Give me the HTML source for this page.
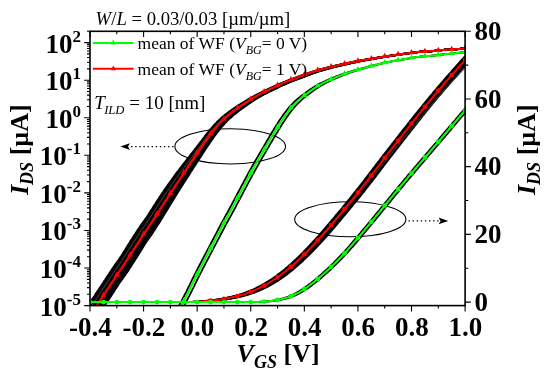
<!DOCTYPE html>
<html><head><meta charset="utf-8"><title>IDS-VGS</title><style>
html,body{margin:0;padding:0;background:#fff;width:550px;height:378px;overflow:hidden}
svg{display:block}
</style></head><body>
<svg width="550" height="378" viewBox="0 0 550 378">
<defs><clipPath id="pc"><rect x="90.00" y="31.30" width="375.10" height="274.30"/></clipPath></defs>
<rect width="550" height="378" fill="#fff"/>
<ellipse cx="230.2" cy="146.4" rx="55.3" ry="17.6" fill="none" stroke="#000" stroke-width="1.1"/><ellipse cx="350.3" cy="219.3" rx="55.6" ry="17.5" fill="none" stroke="#000" stroke-width="1.1"/>
<g clip-path="url(#pc)" fill="none" stroke-linejoin="round" stroke-linecap="butt">
<g stroke="#000" stroke-width="2.0"><path d="M84.6,310.8 L85.7,309.2 L86.8,307.5 L87.9,305.9 L88.9,304.3 L90.0,302.7 L91.1,301.0 L92.1,299.4 L93.2,297.8 L94.3,296.2 L95.4,294.5 L96.4,292.9 L97.5,291.3 L98.6,289.7 L99.6,288.1 L100.7,286.5 L101.8,284.8 L102.9,283.2 L103.9,281.6 L105.0,280.0 L106.1,278.3 L107.1,276.7 L108.2,275.1 L109.3,273.5 L110.4,271.8 L111.4,270.2 L112.5,268.6 L113.6,267.0 L114.6,265.5 L115.7,263.9 L116.8,262.4 L117.9,261.0 L118.9,259.5 L120.0,257.9 L121.1,256.3 L122.2,254.6 L123.2,252.9 L124.3,251.2 L125.4,249.4 L126.4,247.7 L127.5,245.9 L128.6,244.2 L129.7,242.5 L130.7,240.8 L131.8,239.2 L132.9,237.5 L133.9,235.8 L135.0,234.2 L136.1,232.5 L137.2,230.9 L138.2,229.3 L139.3,227.7 L140.4,226.1 L141.4,224.5 L142.5,223.0 L143.6,221.6 L144.7,220.1 L145.7,218.6 L146.8,217.1 L147.9,215.5 L148.9,213.8 L150.0,212.1 L151.1,210.4 L152.2,208.7 L153.2,207.0 L154.3,205.3 L155.4,203.7 L156.4,202.0 L157.5,200.4 L158.6,198.8 L159.7,197.1 L160.7,195.5 L161.8,193.9 L162.9,192.3 L163.9,190.7 L165.0,189.2 L166.1,187.6 L167.2,186.1 L168.2,184.5 L169.3,183.0 L170.4,181.5 L171.5,180.0 L172.5,178.5 L173.6,177.1 L174.7,175.6 L175.7,174.2 L176.8,172.7 L177.9,171.3 L179.0,169.9 L180.0,168.5 L181.1,167.1 L182.2,165.7 L183.2,164.3 L184.3,162.9 L185.4,161.5 L186.5,160.1 L187.5,158.7 L188.6,157.4 L189.7,156.0 L190.7,154.7 L191.8,153.3 L192.9,152.0 L194.0,150.6 L195.0,149.2 L196.1,147.8 L197.2,146.4 L198.2,145.0 L199.3,143.6 L200.4,142.2 L201.5,140.8 L202.5,139.4 L203.6,138.0 L204.7,136.6 L205.7,135.2 L206.8,133.8 L207.9,132.5 L209.0,131.1 L210.0,129.8 L211.1,128.6 L212.2,127.3 L213.2,126.1 L214.3,124.9 L215.4,123.7 L216.5,122.6 L217.5,121.5 L218.6,120.5 L219.7,119.4 L220.7,118.5 L221.8,117.5 L222.9,116.6 L224.0,115.7 L225.0,114.8 L226.1,114.0 L227.2,113.2 L228.3,112.4 L229.3,111.6 L230.4,110.8 L231.5,110.1 L232.5,109.3 L233.6,108.6 L234.7,107.9 L235.8,107.1 L236.8,106.4 L237.9,105.7 L239.0,105.0 L240.0,104.4 L241.1,103.7 L242.2,103.0 L243.3,102.4 L244.3,101.7 L245.4,101.1 L246.5,100.4 L247.5,99.8 L248.6,99.1 L249.7,98.5 L250.8,97.9 L251.8,97.3 L252.9,96.7 L254.0,96.1 L255.0,95.5 L256.1,95.0 L257.2,94.4 L258.3,93.9 L259.3,93.3 L260.4,92.8 L261.5,92.3 L262.5,91.7 L263.6,91.2 L264.7,90.7 L265.8,90.2 L266.8,89.7 L267.9,89.2 L269.0,88.7 L270.0,88.2 L271.1,87.7 L272.2,87.2 L273.3,86.7 L274.3,86.2 L275.4,85.7 L276.5,85.3 L277.6,84.8 L278.6,84.3 L279.7,83.8 L280.8,83.4 L281.8,82.9 L282.9,82.5 L284.0,82.0 L285.1,81.6 L286.1,81.2 L287.2,80.7 L288.3,80.3 L289.3,79.9 L290.4,79.5 L291.5,79.1 L292.6,78.7 L293.6,78.3 L294.7,77.9 L295.8,77.5 L296.8,77.1 L297.9,76.8 L299.0,76.4 L300.1,76.0 L301.1,75.6 L302.2,75.2 L303.3,74.8 L304.3,74.4 L305.4,74.0 L306.5,73.7 L307.6,73.3 L308.6,72.9 L309.7,72.6 L310.8,72.2 L311.8,71.9 L312.9,71.5 L314.0,71.2 L315.1,70.9 L316.1,70.6 L317.2,70.3 L318.3,70.0 L319.3,69.7 L320.4,69.4 L321.5,69.1 L322.6,68.8 L323.6,68.5 L324.7,68.2 L325.8,67.9 L326.8,67.7 L327.9,67.4 L329.0,67.1 L330.1,66.9 L331.1,66.6 L332.2,66.4 L333.3,66.1 L334.4,65.9 L335.4,65.6 L336.5,65.4 L337.6,65.2 L338.6,64.9 L339.7,64.7 L340.8,64.5 L341.9,64.3 L342.9,64.0 L344.0,63.8 L345.1,63.6 L346.1,63.4 L347.2,63.2 L348.3,62.9 L349.4,62.7 L350.4,62.5 L351.5,62.3 L352.6,62.1 L353.6,61.8 L354.7,61.6 L355.8,61.4 L356.9,61.2 L357.9,61.0 L359.0,60.8 L360.1,60.6 L361.1,60.5 L362.2,60.3 L363.3,60.1 L364.4,59.9 L365.4,59.7 L366.5,59.5 L367.6,59.4 L368.6,59.2 L369.7,59.0 L370.8,58.8 L371.9,58.7 L372.9,58.5 L374.0,58.3 L375.1,58.1 L376.1,58.0 L377.2,57.8 L378.3,57.6 L379.4,57.4 L380.4,57.3 L381.5,57.1 L382.6,56.9 L383.6,56.7 L384.7,56.6 L385.8,56.4 L386.9,56.2 L387.9,56.1 L389.0,55.9 L390.1,55.8 L391.2,55.6 L392.2,55.4 L393.3,55.3 L394.4,55.1 L395.4,55.0 L396.5,54.8 L397.6,54.7 L398.7,54.5 L399.7,54.4 L400.8,54.2 L401.9,54.1 L402.9,53.9 L404.0,53.8 L405.1,53.6 L406.2,53.5 L407.2,53.3 L408.3,53.2 L409.4,53.1 L410.4,52.9 L411.5,52.8 L412.6,52.7 L413.7,52.5 L414.7,52.4 L415.8,52.3 L416.9,52.1 L417.9,52.0 L419.0,51.9 L420.1,51.8 L421.2,51.7 L422.2,51.6 L423.3,51.5 L424.4,51.4 L425.4,51.4 L426.5,51.4 L427.6,51.3 L428.7,51.3 L429.7,51.2 L430.8,51.2 L431.9,51.1 L432.9,51.0 L434.0,50.9 L435.1,50.8 L436.2,50.7 L437.2,50.6 L438.3,50.5 L439.4,50.3 L440.5,50.2 L441.5,50.1 L442.6,50.0 L443.7,49.9 L444.7,49.8 L445.8,49.7 L446.9,49.6 L448.0,49.6 L449.0,49.5 L450.1,49.5 L451.2,49.5 L452.2,49.4 L453.3,49.4 L454.4,49.3 L455.5,49.3 L456.5,49.2 L457.6,49.1 L458.7,49.0 L459.7,48.9 L460.8,48.8 L461.9,48.7 L463.0,48.6 L464.0,48.5 L465.1,48.3 L466.2,48.2 L467.2,48.1 L468.3,48.0 L469.4,47.9 L470.5,47.8"/><path d="M84.6,313.7 L85.7,312.0 L86.8,310.4 L87.9,308.8 L88.9,307.1 L90.0,305.5 L91.1,303.9 L92.1,302.2 L93.2,300.6 L94.3,299.0 L95.4,297.4 L96.4,295.7 L97.5,294.1 L98.6,292.5 L99.6,290.9 L100.7,289.3 L101.8,287.6 L102.9,286.0 L103.9,284.4 L105.0,282.8 L106.1,281.1 L107.1,279.5 L108.2,277.9 L109.3,276.3 L110.4,274.6 L111.4,273.0 L112.5,271.4 L113.6,269.8 L114.6,268.2 L115.7,266.7 L116.8,265.2 L117.9,263.7 L118.9,262.2 L120.0,260.6 L121.1,259.0 L122.2,257.4 L123.2,255.7 L124.3,253.9 L125.4,252.2 L126.4,250.5 L127.5,248.8 L128.6,247.1 L129.7,245.4 L130.7,243.7 L131.8,242.0 L132.9,240.4 L133.9,238.7 L135.0,237.0 L136.1,235.4 L137.2,233.7 L138.2,232.1 L139.3,230.5 L140.4,228.9 L141.4,227.3 L142.5,225.8 L143.6,224.3 L144.7,222.8 L145.7,221.3 L146.8,219.8 L147.9,218.2 L148.9,216.5 L150.0,214.8 L151.1,213.1 L152.2,211.5 L153.2,209.8 L154.3,208.1 L155.4,206.4 L156.4,204.8 L157.5,203.2 L158.6,201.5 L159.7,199.9 L160.7,198.3 L161.8,196.7 L162.9,195.0 L163.9,193.4 L165.0,191.8 L166.1,190.3 L167.2,188.7 L168.2,187.1 L169.3,185.6 L170.4,184.0 L171.5,182.5 L172.5,181.0 L173.6,179.5 L174.7,178.0 L175.7,176.6 L176.8,175.1 L177.9,173.6 L179.0,172.2 L180.0,170.7 L181.1,169.3 L182.2,167.9 L183.2,166.4 L184.3,165.0 L185.4,163.6 L186.5,162.2 L187.5,160.8 L188.6,159.4 L189.7,158.0 L190.7,156.6 L191.8,155.2 L192.9,153.8 L194.0,152.4 L195.0,151.0 L196.1,149.6 L197.2,148.2 L198.2,146.7 L199.3,145.3 L200.4,143.8 L201.5,142.4 L202.5,141.0 L203.6,139.5 L204.7,138.1 L205.7,136.7 L206.8,135.3 L207.9,133.9 L209.0,132.6 L210.0,131.2 L211.1,129.9 L212.2,128.7 L213.2,127.4 L214.3,126.2 L215.4,125.0 L216.5,123.8 L217.5,122.7 L218.6,121.6 L219.7,120.5 L220.7,119.5 L221.8,118.5 L222.9,117.6 L224.0,116.7 L225.0,115.8 L226.1,114.9 L227.2,114.0 L228.3,113.2 L229.3,112.4 L230.4,111.6 L231.5,110.8 L232.5,110.1 L233.6,109.3 L234.7,108.6 L235.8,107.8 L236.8,107.1 L237.9,106.4 L239.0,105.7 L240.0,105.0 L241.1,104.3 L242.2,103.6 L243.3,103.0 L244.3,102.3 L245.4,101.6 L246.5,101.0 L247.5,100.3 L248.6,99.7 L249.7,99.0 L250.8,98.4 L251.8,97.8 L252.9,97.2 L254.0,96.6 L255.0,96.0 L256.1,95.4 L257.2,94.8 L258.3,94.3 L259.3,93.7 L260.4,93.2 L261.5,92.7 L262.5,92.1 L263.6,91.6 L264.7,91.1 L265.8,90.6 L266.8,90.1 L267.9,89.6 L269.0,89.1 L270.0,88.6 L271.1,88.1 L272.2,87.6 L273.3,87.1 L274.3,86.6 L275.4,86.1 L276.5,85.6 L277.6,85.1 L278.6,84.6 L279.7,84.2 L280.8,83.7 L281.8,83.2 L282.9,82.8 L284.0,82.3 L285.1,81.9 L286.1,81.5 L287.2,81.0 L288.3,80.6 L289.3,80.2 L290.4,79.8 L291.5,79.4 L292.6,79.0 L293.6,78.6 L294.7,78.2 L295.8,77.8 L296.8,77.4 L297.9,77.0 L299.0,76.6 L300.1,76.2 L301.1,75.8 L302.2,75.4 L303.3,75.1 L304.3,74.7 L305.4,74.3 L306.5,73.9 L307.6,73.5 L308.6,73.2 L309.7,72.8 L310.8,72.4 L311.8,72.1 L312.9,71.8 L314.0,71.4 L315.1,71.1 L316.1,70.8 L317.2,70.5 L318.3,70.2 L319.3,69.8 L320.4,69.5 L321.5,69.3 L322.6,69.0 L323.6,68.7 L324.7,68.4 L325.8,68.1 L326.8,67.8 L327.9,67.6 L329.0,67.3 L330.1,67.0 L331.1,66.8 L332.2,66.5 L333.3,66.3 L334.4,66.0 L335.4,65.8 L336.5,65.5 L337.6,65.3 L338.6,65.1 L339.7,64.8 L340.8,64.6 L341.9,64.4 L342.9,64.2 L344.0,63.9 L345.1,63.7 L346.1,63.5 L347.2,63.3 L348.3,63.0 L349.4,62.8 L350.4,62.6 L351.5,62.4 L352.6,62.1 L353.6,61.9 L354.7,61.7 L355.8,61.5 L356.9,61.3 L357.9,61.1 L359.0,60.9 L360.1,60.7 L361.1,60.5 L362.2,60.3 L363.3,60.1 L364.4,60.0 L365.4,59.8 L366.5,59.6 L367.6,59.4 L368.6,59.2 L369.7,59.1 L370.8,58.9 L371.9,58.7 L372.9,58.5 L374.0,58.4 L375.1,58.2 L376.1,58.0 L377.2,57.8 L378.3,57.6 L379.4,57.5 L380.4,57.3 L381.5,57.1 L382.6,57.0 L383.6,56.8 L384.7,56.6 L385.8,56.4 L386.9,56.3 L387.9,56.1 L389.0,55.9 L390.1,55.8 L391.2,55.6 L392.2,55.5 L393.3,55.3 L394.4,55.1 L395.4,55.0 L396.5,54.8 L397.6,54.7 L398.7,54.5 L399.7,54.4 L400.8,54.2 L401.9,54.1 L402.9,53.9 L404.0,53.8 L405.1,53.6 L406.2,53.5 L407.2,53.4 L408.3,53.2 L409.4,53.1 L410.4,53.0 L411.5,52.8 L412.6,52.7 L413.7,52.5 L414.7,52.4 L415.8,52.3 L416.9,52.1 L417.9,52.0 L419.0,51.9 L420.1,51.8 L421.2,51.7 L422.2,51.6 L423.3,51.5 L424.4,51.5 L425.4,51.4 L426.5,51.4 L427.6,51.3 L428.7,51.3 L429.7,51.3 L430.8,51.2 L431.9,51.1 L432.9,51.0 L434.0,50.9 L435.1,50.8 L436.2,50.7 L437.2,50.6 L438.3,50.5 L439.4,50.4 L440.5,50.2 L441.5,50.1 L442.6,50.0 L443.7,49.9 L444.7,49.8 L445.8,49.7 L446.9,49.6 L448.0,49.6 L449.0,49.5 L450.1,49.5 L451.2,49.5 L452.2,49.4 L453.3,49.4 L454.4,49.3 L455.5,49.3 L456.5,49.2 L457.6,49.1 L458.7,49.0 L459.7,48.9 L460.8,48.8 L461.9,48.7 L463.0,48.6 L464.0,48.5 L465.1,48.4 L466.2,48.2 L467.2,48.1 L468.3,48.0 L469.4,47.9 L470.5,47.8"/><path d="M84.6,316.6 L85.7,314.9 L86.8,313.3 L87.9,311.6 L88.9,310.0 L90.0,308.3 L91.1,306.7 L92.1,305.1 L93.2,303.4 L94.3,301.8 L95.4,300.2 L96.4,298.6 L97.5,296.9 L98.6,295.3 L99.6,293.7 L100.7,292.1 L101.8,290.4 L102.9,288.8 L103.9,287.2 L105.0,285.6 L106.1,283.9 L107.1,282.3 L108.2,280.7 L109.3,279.1 L110.4,277.4 L111.4,275.8 L112.5,274.2 L113.6,272.6 L114.6,271.0 L115.7,269.5 L116.8,267.9 L117.9,266.4 L118.9,264.9 L120.0,263.3 L121.1,261.7 L122.2,260.1 L123.2,258.4 L124.3,256.7 L125.4,255.0 L126.4,253.3 L127.5,251.6 L128.6,249.9 L129.7,248.3 L130.7,246.6 L131.8,244.9 L132.9,243.2 L133.9,241.6 L135.0,239.9 L136.1,238.2 L137.2,236.6 L138.2,235.0 L139.3,233.3 L140.4,231.7 L141.4,230.1 L142.5,228.6 L143.6,227.1 L144.7,225.5 L145.7,224.0 L146.8,222.5 L147.9,220.9 L148.9,219.2 L150.0,217.6 L151.1,215.9 L152.2,214.2 L153.2,212.5 L154.3,210.9 L155.4,209.2 L156.4,207.6 L157.5,205.9 L158.6,204.3 L159.7,202.6 L160.7,201.0 L161.8,199.4 L162.9,197.8 L163.9,196.1 L165.0,194.5 L166.1,192.9 L167.2,191.3 L168.2,189.7 L169.3,188.2 L170.4,186.6 L171.5,185.1 L172.5,183.5 L173.6,182.0 L174.7,180.5 L175.7,178.9 L176.8,177.4 L177.9,175.9 L179.0,174.5 L180.0,173.0 L181.1,171.5 L182.2,170.0 L183.2,168.6 L184.3,167.1 L185.4,165.7 L186.5,164.2 L187.5,162.8 L188.6,161.4 L189.7,160.0 L190.7,158.5 L191.8,157.1 L192.9,155.7 L194.0,154.2 L195.0,152.8 L196.1,151.3 L197.2,149.9 L198.2,148.4 L199.3,147.0 L200.4,145.5 L201.5,144.0 L202.5,142.6 L203.6,141.1 L204.7,139.7 L205.7,138.2 L206.8,136.8 L207.9,135.4 L209.0,134.0 L210.0,132.7 L211.1,131.3 L212.2,130.0 L213.2,128.7 L214.3,127.5 L215.4,126.2 L216.5,125.0 L217.5,123.9 L218.6,122.7 L219.7,121.6 L220.7,120.6 L221.8,119.6 L222.9,118.6 L224.0,117.6 L225.0,116.7 L226.1,115.8 L227.2,114.9 L228.3,114.0 L229.3,113.2 L230.4,112.4 L231.5,111.6 L232.5,110.8 L233.6,110.0 L234.7,109.3 L235.8,108.5 L236.8,107.8 L237.9,107.0 L239.0,106.3 L240.0,105.6 L241.1,104.9 L242.2,104.2 L243.3,103.5 L244.3,102.9 L245.4,102.2 L246.5,101.5 L247.5,100.9 L248.6,100.2 L249.7,99.6 L250.8,98.9 L251.8,98.3 L252.9,97.7 L254.0,97.1 L255.0,96.4 L256.1,95.9 L257.2,95.3 L258.3,94.7 L259.3,94.1 L260.4,93.6 L261.5,93.0 L262.5,92.5 L263.6,92.0 L264.7,91.5 L265.8,91.0 L266.8,90.4 L267.9,89.9 L269.0,89.4 L270.0,88.9 L271.1,88.4 L272.2,87.9 L273.3,87.4 L274.3,86.9 L275.4,86.4 L276.5,85.9 L277.6,85.4 L278.6,85.0 L279.7,84.5 L280.8,84.0 L281.8,83.5 L282.9,83.1 L284.0,82.6 L285.1,82.2 L286.1,81.7 L287.2,81.3 L288.3,80.9 L289.3,80.5 L290.4,80.1 L291.5,79.7 L292.6,79.2 L293.6,78.9 L294.7,78.5 L295.8,78.1 L296.8,77.7 L297.9,77.3 L299.0,76.9 L300.1,76.5 L301.1,76.1 L302.2,75.7 L303.3,75.3 L304.3,74.9 L305.4,74.5 L306.5,74.1 L307.6,73.8 L308.6,73.4 L309.7,73.0 L310.8,72.7 L311.8,72.3 L312.9,72.0 L314.0,71.6 L315.1,71.3 L316.1,71.0 L317.2,70.6 L318.3,70.3 L319.3,70.0 L320.4,69.7 L321.5,69.4 L322.6,69.1 L323.6,68.8 L324.7,68.5 L325.8,68.3 L326.8,68.0 L327.9,67.7 L329.0,67.4 L330.1,67.2 L331.1,66.9 L332.2,66.6 L333.3,66.4 L334.4,66.1 L335.4,65.9 L336.5,65.7 L337.6,65.4 L338.6,65.2 L339.7,64.9 L340.8,64.7 L341.9,64.5 L342.9,64.3 L344.0,64.0 L345.1,63.8 L346.1,63.6 L347.2,63.4 L348.3,63.1 L349.4,62.9 L350.4,62.7 L351.5,62.5 L352.6,62.2 L353.6,62.0 L354.7,61.8 L355.8,61.6 L356.9,61.4 L357.9,61.2 L359.0,61.0 L360.1,60.8 L361.1,60.6 L362.2,60.4 L363.3,60.2 L364.4,60.0 L365.4,59.8 L366.5,59.7 L367.6,59.5 L368.6,59.3 L369.7,59.1 L370.8,58.9 L371.9,58.8 L372.9,58.6 L374.0,58.4 L375.1,58.2 L376.1,58.0 L377.2,57.9 L378.3,57.7 L379.4,57.5 L380.4,57.3 L381.5,57.2 L382.6,57.0 L383.6,56.8 L384.7,56.6 L385.8,56.5 L386.9,56.3 L387.9,56.1 L389.0,56.0 L390.1,55.8 L391.2,55.7 L392.2,55.5 L393.3,55.3 L394.4,55.2 L395.4,55.0 L396.5,54.9 L397.6,54.7 L398.7,54.6 L399.7,54.4 L400.8,54.3 L401.9,54.1 L402.9,54.0 L404.0,53.8 L405.1,53.7 L406.2,53.5 L407.2,53.4 L408.3,53.2 L409.4,53.1 L410.4,53.0 L411.5,52.8 L412.6,52.7 L413.7,52.6 L414.7,52.4 L415.8,52.3 L416.9,52.2 L417.9,52.0 L419.0,51.9 L420.1,51.8 L421.2,51.7 L422.2,51.6 L423.3,51.5 L424.4,51.5 L425.4,51.4 L426.5,51.4 L427.6,51.3 L428.7,51.3 L429.7,51.3 L430.8,51.2 L431.9,51.1 L432.9,51.0 L434.0,50.9 L435.1,50.8 L436.2,50.7 L437.2,50.6 L438.3,50.5 L439.4,50.4 L440.5,50.2 L441.5,50.1 L442.6,50.0 L443.7,49.9 L444.7,49.8 L445.8,49.7 L446.9,49.6 L448.0,49.6 L449.0,49.5 L450.1,49.5 L451.2,49.5 L452.2,49.4 L453.3,49.4 L454.4,49.3 L455.5,49.3 L456.5,49.2 L457.6,49.1 L458.7,49.0 L459.7,48.9 L460.8,48.8 L461.9,48.7 L463.0,48.6 L464.0,48.5 L465.1,48.4 L466.2,48.2 L467.2,48.1 L468.3,48.0 L469.4,47.9 L470.5,47.8"/><path d="M84.6,319.4 L85.7,317.8 L86.8,316.1 L87.9,314.5 L88.9,312.8 L90.0,311.2 L91.1,309.5 L92.1,307.9 L93.2,306.3 L94.3,304.6 L95.4,303.0 L96.4,301.4 L97.5,299.7 L98.6,298.1 L99.6,296.5 L100.7,294.9 L101.8,293.2 L102.9,291.6 L103.9,290.0 L105.0,288.4 L106.1,286.7 L107.1,285.1 L108.2,283.5 L109.3,281.9 L110.4,280.2 L111.4,278.6 L112.5,277.0 L113.6,275.4 L114.6,273.8 L115.7,272.2 L116.8,270.7 L117.9,269.1 L118.9,267.6 L120.0,266.0 L121.1,264.4 L122.2,262.8 L123.2,261.2 L124.3,259.5 L125.4,257.8 L126.4,256.2 L127.5,254.5 L128.6,252.8 L129.7,251.1 L130.7,249.5 L131.8,247.8 L132.9,246.1 L133.9,244.4 L135.0,242.8 L136.1,241.1 L137.2,239.4 L138.2,237.8 L139.3,236.2 L140.4,234.5 L141.4,232.9 L142.5,231.4 L143.6,229.8 L144.7,228.2 L145.7,226.7 L146.8,225.1 L147.9,223.5 L148.9,221.9 L150.0,220.3 L151.1,218.6 L152.2,217.0 L153.2,215.3 L154.3,213.7 L155.4,212.0 L156.4,210.4 L157.5,208.7 L158.6,207.1 L159.7,205.4 L160.7,203.8 L161.8,202.1 L162.9,200.5 L163.9,198.8 L165.0,197.2 L166.1,195.6 L167.2,194.0 L168.2,192.4 L169.3,190.8 L170.4,189.2 L171.5,187.6 L172.5,186.0 L173.6,184.4 L174.7,182.9 L175.7,181.3 L176.8,179.8 L177.9,178.3 L179.0,176.7 L180.0,175.2 L181.1,173.7 L182.2,172.2 L183.2,170.7 L184.3,169.3 L185.4,167.8 L186.5,166.3 L187.5,164.9 L188.6,163.4 L189.7,161.9 L190.7,160.5 L191.8,159.0 L192.9,157.5 L194.0,156.1 L195.0,154.6 L196.1,153.1 L197.2,151.6 L198.2,150.1 L199.3,148.6 L200.4,147.1 L201.5,145.7 L202.5,144.2 L203.6,142.7 L204.7,141.2 L205.7,139.8 L206.8,138.3 L207.9,136.9 L209.0,135.5 L210.0,134.1 L211.1,132.7 L212.2,131.3 L213.2,130.0 L214.3,128.7 L215.4,127.5 L216.5,126.2 L217.5,125.0 L218.6,123.9 L219.7,122.7 L220.7,121.6 L221.8,120.6 L222.9,119.6 L224.0,118.6 L225.0,117.6 L226.1,116.7 L227.2,115.8 L228.3,114.9 L229.3,114.0 L230.4,113.2 L231.5,112.4 L232.5,111.5 L233.6,110.8 L234.7,110.0 L235.8,109.2 L236.8,108.5 L237.9,107.7 L239.0,107.0 L240.0,106.3 L241.1,105.5 L242.2,104.8 L243.3,104.1 L244.3,103.4 L245.4,102.8 L246.5,102.1 L247.5,101.4 L248.6,100.7 L249.7,100.1 L250.8,99.4 L251.8,98.8 L252.9,98.1 L254.0,97.5 L255.0,96.9 L256.1,96.3 L257.2,95.7 L258.3,95.1 L259.3,94.6 L260.4,94.0 L261.5,93.4 L262.5,92.9 L263.6,92.4 L264.7,91.8 L265.8,91.3 L266.8,90.8 L267.9,90.3 L269.0,89.8 L270.0,89.3 L271.1,88.8 L272.2,88.3 L273.3,87.8 L274.3,87.3 L275.4,86.8 L276.5,86.3 L277.6,85.8 L278.6,85.3 L279.7,84.8 L280.8,84.3 L281.8,83.9 L282.9,83.4 L284.0,82.9 L285.1,82.5 L286.1,82.0 L287.2,81.6 L288.3,81.2 L289.3,80.7 L290.4,80.3 L291.5,79.9 L292.6,79.5 L293.6,79.1 L294.7,78.7 L295.8,78.3 L296.8,77.9 L297.9,77.5 L299.0,77.1 L300.1,76.7 L301.1,76.3 L302.2,76.0 L303.3,75.6 L304.3,75.2 L305.4,74.8 L306.5,74.4 L307.6,74.0 L308.6,73.6 L309.7,73.2 L310.8,72.9 L311.8,72.5 L312.9,72.2 L314.0,71.8 L315.1,71.5 L316.1,71.2 L317.2,70.8 L318.3,70.5 L319.3,70.2 L320.4,69.9 L321.5,69.6 L322.6,69.3 L323.6,69.0 L324.7,68.7 L325.8,68.4 L326.8,68.1 L327.9,67.9 L329.0,67.6 L330.1,67.3 L331.1,67.0 L332.2,66.8 L333.3,66.5 L334.4,66.3 L335.4,66.0 L336.5,65.8 L337.6,65.5 L338.6,65.3 L339.7,65.1 L340.8,64.8 L341.9,64.6 L342.9,64.4 L344.0,64.1 L345.1,63.9 L346.1,63.7 L347.2,63.5 L348.3,63.2 L349.4,63.0 L350.4,62.8 L351.5,62.6 L352.6,62.3 L353.6,62.1 L354.7,61.9 L355.8,61.7 L356.9,61.5 L357.9,61.3 L359.0,61.1 L360.1,60.9 L361.1,60.7 L362.2,60.5 L363.3,60.3 L364.4,60.1 L365.4,59.9 L366.5,59.7 L367.6,59.5 L368.6,59.4 L369.7,59.2 L370.8,59.0 L371.9,58.8 L372.9,58.6 L374.0,58.5 L375.1,58.3 L376.1,58.1 L377.2,57.9 L378.3,57.7 L379.4,57.6 L380.4,57.4 L381.5,57.2 L382.6,57.0 L383.6,56.9 L384.7,56.7 L385.8,56.5 L386.9,56.3 L387.9,56.2 L389.0,56.0 L390.1,55.8 L391.2,55.7 L392.2,55.5 L393.3,55.4 L394.4,55.2 L395.4,55.0 L396.5,54.9 L397.6,54.7 L398.7,54.6 L399.7,54.4 L400.8,54.3 L401.9,54.1 L402.9,54.0 L404.0,53.8 L405.1,53.7 L406.2,53.5 L407.2,53.4 L408.3,53.3 L409.4,53.1 L410.4,53.0 L411.5,52.8 L412.6,52.7 L413.7,52.6 L414.7,52.4 L415.8,52.3 L416.9,52.2 L417.9,52.0 L419.0,51.9 L420.1,51.8 L421.2,51.7 L422.2,51.6 L423.3,51.5 L424.4,51.5 L425.4,51.4 L426.5,51.4 L427.6,51.3 L428.7,51.3 L429.7,51.3 L430.8,51.2 L431.9,51.1 L432.9,51.0 L434.0,50.9 L435.1,50.8 L436.2,50.7 L437.2,50.6 L438.3,50.5 L439.4,50.4 L440.5,50.3 L441.5,50.1 L442.6,50.0 L443.7,49.9 L444.7,49.8 L445.8,49.7 L446.9,49.6 L448.0,49.6 L449.0,49.5 L450.1,49.5 L451.2,49.5 L452.2,49.4 L453.3,49.4 L454.4,49.4 L455.5,49.3 L456.5,49.2 L457.6,49.1 L458.7,49.0 L459.7,48.9 L460.8,48.8 L461.9,48.7 L463.0,48.6 L464.0,48.5 L465.1,48.4 L466.2,48.3 L467.2,48.1 L468.3,48.0 L469.4,47.9 L470.5,47.8"/><path d="M84.6,322.3 L85.7,320.6 L86.8,319.0 L87.9,317.3 L88.9,315.7 L90.0,314.0 L91.1,312.4 L92.1,310.7 L93.2,309.1 L94.3,307.5 L95.4,305.8 L96.4,304.2 L97.5,302.6 L98.6,300.9 L99.6,299.3 L100.7,297.7 L101.8,296.0 L102.9,294.4 L103.9,292.8 L105.0,291.2 L106.1,289.5 L107.1,287.9 L108.2,286.3 L109.3,284.7 L110.4,283.0 L111.4,281.4 L112.5,279.8 L113.6,278.2 L114.6,276.6 L115.7,275.0 L116.8,273.4 L117.9,271.8 L118.9,270.3 L120.0,268.7 L121.1,267.1 L122.2,265.5 L123.2,263.9 L124.3,262.3 L125.4,260.7 L126.4,259.0 L127.5,257.3 L128.6,255.7 L129.7,254.0 L130.7,252.3 L131.8,250.6 L132.9,249.0 L133.9,247.3 L135.0,245.6 L136.1,244.0 L137.2,242.3 L138.2,240.6 L139.3,239.0 L140.4,237.4 L141.4,235.7 L142.5,234.1 L143.6,232.5 L144.7,231.0 L145.7,229.4 L146.8,227.8 L147.9,226.2 L148.9,224.6 L150.0,223.0 L151.1,221.4 L152.2,219.7 L153.2,218.1 L154.3,216.4 L155.4,214.8 L156.4,213.1 L157.5,211.5 L158.6,209.8 L159.7,208.2 L160.7,206.5 L161.8,204.8 L162.9,203.2 L163.9,201.5 L165.0,199.9 L166.1,198.2 L167.2,196.6 L168.2,195.0 L169.3,193.3 L170.4,191.7 L171.5,190.1 L172.5,188.5 L173.6,186.9 L174.7,185.3 L175.7,183.7 L176.8,182.2 L177.9,180.6 L179.0,179.0 L180.0,177.5 L181.1,176.0 L182.2,174.4 L183.2,172.9 L184.3,171.4 L185.4,169.9 L186.5,168.4 L187.5,166.9 L188.6,165.4 L189.7,163.9 L190.7,162.4 L191.8,160.9 L192.9,159.4 L194.0,157.9 L195.0,156.4 L196.1,154.9 L197.2,153.4 L198.2,151.8 L199.3,150.3 L200.4,148.8 L201.5,147.3 L202.5,145.8 L203.6,144.3 L204.7,142.8 L205.7,141.3 L206.8,139.8 L207.9,138.3 L209.0,136.9 L210.0,135.5 L211.1,134.1 L212.2,132.7 L213.2,131.3 L214.3,130.0 L215.4,128.7 L216.5,127.4 L217.5,126.2 L218.6,125.0 L219.7,123.8 L220.7,122.7 L221.8,121.6 L222.9,120.5 L224.0,119.5 L225.0,118.5 L226.1,117.5 L227.2,116.6 L228.3,115.7 L229.3,114.8 L230.4,114.0 L231.5,113.1 L232.5,112.3 L233.6,111.5 L234.7,110.7 L235.8,109.9 L236.8,109.1 L237.9,108.4 L239.0,107.6 L240.0,106.9 L241.1,106.2 L242.2,105.4 L243.3,104.7 L244.3,104.0 L245.4,103.3 L246.5,102.6 L247.5,101.9 L248.6,101.3 L249.7,100.6 L250.8,99.9 L251.8,99.3 L252.9,98.6 L254.0,98.0 L255.0,97.4 L256.1,96.7 L257.2,96.1 L258.3,95.5 L259.3,95.0 L260.4,94.4 L261.5,93.8 L262.5,93.3 L263.6,92.7 L264.7,92.2 L265.8,91.7 L266.8,91.2 L267.9,90.6 L269.0,90.1 L270.0,89.6 L271.1,89.1 L272.2,88.6 L273.3,88.1 L274.3,87.6 L275.4,87.1 L276.5,86.6 L277.6,86.1 L278.6,85.6 L279.7,85.1 L280.8,84.6 L281.8,84.2 L282.9,83.7 L284.0,83.2 L285.1,82.8 L286.1,82.3 L287.2,81.9 L288.3,81.5 L289.3,81.0 L290.4,80.6 L291.5,80.2 L292.6,79.8 L293.6,79.4 L294.7,79.0 L295.8,78.6 L296.8,78.2 L297.9,77.8 L299.0,77.4 L300.1,77.0 L301.1,76.6 L302.2,76.2 L303.3,75.8 L304.3,75.4 L305.4,75.0 L306.5,74.6 L307.6,74.2 L308.6,73.9 L309.7,73.5 L310.8,73.1 L311.8,72.7 L312.9,72.4 L314.0,72.0 L315.1,71.7 L316.1,71.4 L317.2,71.0 L318.3,70.7 L319.3,70.4 L320.4,70.1 L321.5,69.8 L322.6,69.5 L323.6,69.2 L324.7,68.9 L325.8,68.6 L326.8,68.3 L327.9,68.0 L329.0,67.7 L330.1,67.5 L331.1,67.2 L332.2,66.9 L333.3,66.7 L334.4,66.4 L335.4,66.1 L336.5,65.9 L337.6,65.7 L338.6,65.4 L339.7,65.2 L340.8,64.9 L341.9,64.7 L342.9,64.5 L344.0,64.2 L345.1,64.0 L346.1,63.8 L347.2,63.6 L348.3,63.3 L349.4,63.1 L350.4,62.9 L351.5,62.6 L352.6,62.4 L353.6,62.2 L354.7,62.0 L355.8,61.8 L356.9,61.5 L357.9,61.3 L359.0,61.1 L360.1,60.9 L361.1,60.7 L362.2,60.5 L363.3,60.3 L364.4,60.1 L365.4,60.0 L366.5,59.8 L367.6,59.6 L368.6,59.4 L369.7,59.2 L370.8,59.0 L371.9,58.9 L372.9,58.7 L374.0,58.5 L375.1,58.3 L376.1,58.1 L377.2,58.0 L378.3,57.8 L379.4,57.6 L380.4,57.4 L381.5,57.2 L382.6,57.1 L383.6,56.9 L384.7,56.7 L385.8,56.6 L386.9,56.4 L387.9,56.2 L389.0,56.0 L390.1,55.9 L391.2,55.7 L392.2,55.6 L393.3,55.4 L394.4,55.2 L395.4,55.1 L396.5,54.9 L397.6,54.8 L398.7,54.6 L399.7,54.4 L400.8,54.3 L401.9,54.1 L402.9,54.0 L404.0,53.9 L405.1,53.7 L406.2,53.6 L407.2,53.4 L408.3,53.3 L409.4,53.1 L410.4,53.0 L411.5,52.9 L412.6,52.7 L413.7,52.6 L414.7,52.4 L415.8,52.3 L416.9,52.2 L417.9,52.0 L419.0,51.9 L420.1,51.8 L421.2,51.7 L422.2,51.6 L423.3,51.5 L424.4,51.5 L425.4,51.4 L426.5,51.4 L427.6,51.3 L428.7,51.3 L429.7,51.3 L430.8,51.2 L431.9,51.1 L432.9,51.1 L434.0,51.0 L435.1,50.8 L436.2,50.7 L437.2,50.6 L438.3,50.5 L439.4,50.4 L440.5,50.3 L441.5,50.1 L442.6,50.0 L443.7,49.9 L444.7,49.8 L445.8,49.7 L446.9,49.6 L448.0,49.6 L449.0,49.5 L450.1,49.5 L451.2,49.5 L452.2,49.4 L453.3,49.4 L454.4,49.4 L455.5,49.3 L456.5,49.2 L457.6,49.1 L458.7,49.0 L459.7,48.9 L460.8,48.8 L461.9,48.7 L463.0,48.6 L464.0,48.5 L465.1,48.4 L466.2,48.3 L467.2,48.1 L468.3,48.0 L469.4,47.9 L470.5,47.8"/><path d="M84.6,325.2 L85.7,323.5 L86.8,321.8 L87.9,320.2 L88.9,318.5 L90.0,316.9 L91.1,315.2 L92.1,313.6 L93.2,311.9 L94.3,310.3 L95.4,308.6 L96.4,307.0 L97.5,305.4 L98.6,303.7 L99.6,302.1 L100.7,300.5 L101.8,298.8 L102.9,297.2 L103.9,295.6 L105.0,294.0 L106.1,292.3 L107.1,290.7 L108.2,289.1 L109.3,287.5 L110.4,285.8 L111.4,284.2 L112.5,282.6 L113.6,281.0 L114.6,279.3 L115.7,277.7 L116.8,276.1 L117.9,274.5 L118.9,273.0 L120.0,271.4 L121.1,269.8 L122.2,268.3 L123.2,266.7 L124.3,265.1 L125.4,263.5 L126.4,261.8 L127.5,260.2 L128.6,258.5 L129.7,256.9 L130.7,255.2 L131.8,253.5 L132.9,251.8 L133.9,250.2 L135.0,248.5 L136.1,246.8 L137.2,245.2 L138.2,243.5 L139.3,241.8 L140.4,240.2 L141.4,238.5 L142.5,236.9 L143.6,235.3 L144.7,233.7 L145.7,232.1 L146.8,230.5 L147.9,228.9 L148.9,227.3 L150.0,225.7 L151.1,224.1 L152.2,222.5 L153.2,220.9 L154.3,219.2 L155.4,217.6 L156.4,215.9 L157.5,214.2 L158.6,212.6 L159.7,210.9 L160.7,209.2 L161.8,207.6 L162.9,205.9 L163.9,204.2 L165.0,202.6 L166.1,200.9 L167.2,199.2 L168.2,197.6 L169.3,195.9 L170.4,194.3 L171.5,192.6 L172.5,191.0 L173.6,189.4 L174.7,187.7 L175.7,186.1 L176.8,184.5 L177.9,182.9 L179.0,181.3 L180.0,179.7 L181.1,178.2 L182.2,176.6 L183.2,175.1 L184.3,173.5 L185.4,172.0 L186.5,170.5 L187.5,168.9 L188.6,167.4 L189.7,165.9 L190.7,164.3 L191.8,162.8 L192.9,161.3 L194.0,159.7 L195.0,158.2 L196.1,156.6 L197.2,155.1 L198.2,153.5 L199.3,152.0 L200.4,150.5 L201.5,148.9 L202.5,147.4 L203.6,145.8 L204.7,144.3 L205.7,142.8 L206.8,141.3 L207.9,139.8 L209.0,138.3 L210.0,136.9 L211.1,135.4 L212.2,134.0 L213.2,132.6 L214.3,131.3 L215.4,130.0 L216.5,128.7 L217.5,127.4 L218.6,126.1 L219.7,124.9 L220.7,123.8 L221.8,122.6 L222.9,121.5 L224.0,120.5 L225.0,119.4 L226.1,118.4 L227.2,117.5 L228.3,116.5 L229.3,115.6 L230.4,114.7 L231.5,113.9 L232.5,113.0 L233.6,112.2 L234.7,111.4 L235.8,110.6 L236.8,109.8 L237.9,109.0 L239.0,108.3 L240.0,107.5 L241.1,106.8 L242.2,106.0 L243.3,105.3 L244.3,104.6 L245.4,103.9 L246.5,103.2 L247.5,102.5 L248.6,101.8 L249.7,101.1 L250.8,100.4 L251.8,99.8 L252.9,99.1 L254.0,98.5 L255.0,97.8 L256.1,97.2 L257.2,96.6 L258.3,96.0 L259.3,95.4 L260.4,94.8 L261.5,94.2 L262.5,93.7 L263.6,93.1 L264.7,92.6 L265.8,92.0 L266.8,91.5 L267.9,91.0 L269.0,90.5 L270.0,90.0 L271.1,89.5 L272.2,89.0 L273.3,88.4 L274.3,87.9 L275.4,87.4 L276.5,86.9 L277.6,86.4 L278.6,85.9 L279.7,85.5 L280.8,85.0 L281.8,84.5 L282.9,84.0 L284.0,83.5 L285.1,83.1 L286.1,82.6 L287.2,82.2 L288.3,81.7 L289.3,81.3 L290.4,80.9 L291.5,80.5 L292.6,80.0 L293.6,79.6 L294.7,79.2 L295.8,78.8 L296.8,78.4 L297.9,78.0 L299.0,77.7 L300.1,77.3 L301.1,76.9 L302.2,76.5 L303.3,76.1 L304.3,75.7 L305.4,75.3 L306.5,74.9 L307.6,74.5 L308.6,74.1 L309.7,73.7 L310.8,73.3 L311.8,73.0 L312.9,72.6 L314.0,72.2 L315.1,71.9 L316.1,71.5 L317.2,71.2 L318.3,70.9 L319.3,70.6 L320.4,70.3 L321.5,69.9 L322.6,69.6 L323.6,69.3 L324.7,69.0 L325.8,68.7 L326.8,68.5 L327.9,68.2 L329.0,67.9 L330.1,67.6 L331.1,67.3 L332.2,67.1 L333.3,66.8 L334.4,66.5 L335.4,66.3 L336.5,66.0 L337.6,65.8 L338.6,65.5 L339.7,65.3 L340.8,65.1 L341.9,64.8 L342.9,64.6 L344.0,64.4 L345.1,64.1 L346.1,63.9 L347.2,63.7 L348.3,63.4 L349.4,63.2 L350.4,63.0 L351.5,62.7 L352.6,62.5 L353.6,62.3 L354.7,62.1 L355.8,61.8 L356.9,61.6 L357.9,61.4 L359.0,61.2 L360.1,61.0 L361.1,60.8 L362.2,60.6 L363.3,60.4 L364.4,60.2 L365.4,60.0 L366.5,59.8 L367.6,59.7 L368.6,59.5 L369.7,59.3 L370.8,59.1 L371.9,58.9 L372.9,58.7 L374.0,58.6 L375.1,58.4 L376.1,58.2 L377.2,58.0 L378.3,57.8 L379.4,57.7 L380.4,57.5 L381.5,57.3 L382.6,57.1 L383.6,56.9 L384.7,56.8 L385.8,56.6 L386.9,56.4 L387.9,56.2 L389.0,56.1 L390.1,55.9 L391.2,55.7 L392.2,55.6 L393.3,55.4 L394.4,55.3 L395.4,55.1 L396.5,54.9 L397.6,54.8 L398.7,54.6 L399.7,54.5 L400.8,54.3 L401.9,54.2 L402.9,54.0 L404.0,53.9 L405.1,53.7 L406.2,53.6 L407.2,53.4 L408.3,53.3 L409.4,53.2 L410.4,53.0 L411.5,52.9 L412.6,52.7 L413.7,52.6 L414.7,52.5 L415.8,52.3 L416.9,52.2 L417.9,52.1 L419.0,51.9 L420.1,51.8 L421.2,51.7 L422.2,51.6 L423.3,51.5 L424.4,51.5 L425.4,51.4 L426.5,51.4 L427.6,51.3 L428.7,51.3 L429.7,51.3 L430.8,51.2 L431.9,51.1 L432.9,51.1 L434.0,51.0 L435.1,50.9 L436.2,50.7 L437.2,50.6 L438.3,50.5 L439.4,50.4 L440.5,50.3 L441.5,50.2 L442.6,50.0 L443.7,49.9 L444.7,49.8 L445.8,49.7 L446.9,49.6 L448.0,49.6 L449.0,49.5 L450.1,49.5 L451.2,49.5 L452.2,49.4 L453.3,49.4 L454.4,49.4 L455.5,49.3 L456.5,49.2 L457.6,49.1 L458.7,49.0 L459.7,48.9 L460.8,48.8 L461.9,48.7 L463.0,48.6 L464.0,48.5 L465.1,48.4 L466.2,48.3 L467.2,48.1 L468.3,48.0 L469.4,47.9 L470.5,47.8"/><path d="M84.6,328.0 L85.7,326.4 L86.8,324.7 L87.9,323.0 L88.9,321.4 L90.0,319.7 L91.1,318.1 L92.1,316.4 L93.2,314.7 L94.3,313.1 L95.4,311.5 L96.4,309.8 L97.5,308.2 L98.6,306.5 L99.6,304.9 L100.7,303.3 L101.8,301.6 L102.9,300.0 L103.9,298.4 L105.0,296.8 L106.1,295.1 L107.1,293.5 L108.2,291.9 L109.3,290.3 L110.4,288.6 L111.4,287.0 L112.5,285.4 L113.6,283.7 L114.6,282.1 L115.7,280.5 L116.8,278.9 L117.9,277.3 L118.9,275.7 L120.0,274.1 L121.1,272.5 L122.2,271.0 L123.2,269.4 L124.3,267.9 L125.4,266.3 L126.4,264.7 L127.5,263.0 L128.6,261.4 L129.7,259.7 L130.7,258.1 L131.8,256.4 L132.9,254.7 L133.9,253.0 L135.0,251.4 L136.1,249.7 L137.2,248.0 L138.2,246.3 L139.3,244.7 L140.4,243.0 L141.4,241.3 L142.5,239.7 L143.6,238.0 L144.7,236.4 L145.7,234.8 L146.8,233.2 L147.9,231.6 L148.9,230.0 L150.0,228.5 L151.1,226.9 L152.2,225.3 L153.2,223.6 L154.3,222.0 L155.4,220.4 L156.4,218.7 L157.5,217.0 L158.6,215.3 L159.7,213.7 L160.7,212.0 L161.8,210.3 L162.9,208.6 L163.9,206.9 L165.0,205.3 L166.1,203.6 L167.2,201.9 L168.2,200.2 L169.3,198.5 L170.4,196.8 L171.5,195.2 L172.5,193.5 L173.6,191.8 L174.7,190.2 L175.7,188.5 L176.8,186.9 L177.9,185.2 L179.0,183.6 L180.0,182.0 L181.1,180.4 L182.2,178.8 L183.2,177.2 L184.3,175.7 L185.4,174.1 L186.5,172.5 L187.5,171.0 L188.6,169.4 L189.7,167.8 L190.7,166.3 L191.8,164.7 L192.9,163.1 L194.0,161.6 L195.0,160.0 L196.1,158.4 L197.2,156.8 L198.2,155.3 L199.3,153.7 L200.4,152.1 L201.5,150.5 L202.5,149.0 L203.6,147.4 L204.7,145.9 L205.7,144.3 L206.8,142.8 L207.9,141.3 L209.0,139.8 L210.0,138.3 L211.1,136.8 L212.2,135.4 L213.2,134.0 L214.3,132.6 L215.4,131.2 L216.5,129.9 L217.5,128.6 L218.6,127.3 L219.7,126.0 L220.7,124.8 L221.8,123.7 L222.9,122.5 L224.0,121.4 L225.0,120.3 L226.1,119.3 L227.2,118.3 L228.3,117.4 L229.3,116.4 L230.4,115.5 L231.5,114.6 L232.5,113.8 L233.6,112.9 L234.7,112.1 L235.8,111.3 L236.8,110.5 L237.9,109.7 L239.0,108.9 L240.0,108.1 L241.1,107.4 L242.2,106.6 L243.3,105.9 L244.3,105.2 L245.4,104.5 L246.5,103.7 L247.5,103.0 L248.6,102.3 L249.7,101.6 L250.8,100.9 L251.8,100.3 L252.9,99.6 L254.0,98.9 L255.0,98.3 L256.1,97.6 L257.2,97.0 L258.3,96.4 L259.3,95.8 L260.4,95.2 L261.5,94.6 L262.5,94.0 L263.6,93.5 L264.7,92.9 L265.8,92.4 L266.8,91.9 L267.9,91.4 L269.0,90.8 L270.0,90.3 L271.1,89.8 L272.2,89.3 L273.3,88.8 L274.3,88.3 L275.4,87.8 L276.5,87.3 L277.6,86.8 L278.6,86.3 L279.7,85.8 L280.8,85.3 L281.8,84.8 L282.9,84.3 L284.0,83.8 L285.1,83.4 L286.1,82.9 L287.2,82.5 L288.3,82.0 L289.3,81.6 L290.4,81.1 L291.5,80.7 L292.6,80.3 L293.6,79.9 L294.7,79.5 L295.8,79.1 L296.8,78.7 L297.9,78.3 L299.0,77.9 L300.1,77.5 L301.1,77.1 L302.2,76.7 L303.3,76.3 L304.3,75.9 L305.4,75.5 L306.5,75.1 L307.6,74.7 L308.6,74.3 L309.7,73.9 L310.8,73.5 L311.8,73.2 L312.9,72.8 L314.0,72.4 L315.1,72.1 L316.1,71.7 L317.2,71.4 L318.3,71.1 L319.3,70.8 L320.4,70.4 L321.5,70.1 L322.6,69.8 L323.6,69.5 L324.7,69.2 L325.8,68.9 L326.8,68.6 L327.9,68.3 L329.0,68.0 L330.1,67.7 L331.1,67.5 L332.2,67.2 L333.3,66.9 L334.4,66.7 L335.4,66.4 L336.5,66.1 L337.6,65.9 L338.6,65.6 L339.7,65.4 L340.8,65.2 L341.9,64.9 L342.9,64.7 L344.0,64.5 L345.1,64.2 L346.1,64.0 L347.2,63.8 L348.3,63.5 L349.4,63.3 L350.4,63.1 L351.5,62.8 L352.6,62.6 L353.6,62.4 L354.7,62.1 L355.8,61.9 L356.9,61.7 L357.9,61.5 L359.0,61.3 L360.1,61.1 L361.1,60.9 L362.2,60.7 L363.3,60.5 L364.4,60.3 L365.4,60.1 L366.5,59.9 L367.6,59.7 L368.6,59.5 L369.7,59.3 L370.8,59.2 L371.9,59.0 L372.9,58.8 L374.0,58.6 L375.1,58.4 L376.1,58.2 L377.2,58.1 L378.3,57.9 L379.4,57.7 L380.4,57.5 L381.5,57.3 L382.6,57.2 L383.6,57.0 L384.7,56.8 L385.8,56.6 L386.9,56.5 L387.9,56.3 L389.0,56.1 L390.1,55.9 L391.2,55.8 L392.2,55.6 L393.3,55.5 L394.4,55.3 L395.4,55.1 L396.5,55.0 L397.6,54.8 L398.7,54.7 L399.7,54.5 L400.8,54.3 L401.9,54.2 L402.9,54.0 L404.0,53.9 L405.1,53.7 L406.2,53.6 L407.2,53.5 L408.3,53.3 L409.4,53.2 L410.4,53.0 L411.5,52.9 L412.6,52.8 L413.7,52.6 L414.7,52.5 L415.8,52.3 L416.9,52.2 L417.9,52.1 L419.0,51.9 L420.1,51.8 L421.2,51.7 L422.2,51.6 L423.3,51.5 L424.4,51.5 L425.4,51.4 L426.5,51.4 L427.6,51.4 L428.7,51.3 L429.7,51.3 L430.8,51.2 L431.9,51.2 L432.9,51.1 L434.0,51.0 L435.1,50.9 L436.2,50.8 L437.2,50.6 L438.3,50.5 L439.4,50.4 L440.5,50.3 L441.5,50.2 L442.6,50.0 L443.7,49.9 L444.7,49.8 L445.8,49.7 L446.9,49.6 L448.0,49.6 L449.0,49.5 L450.1,49.5 L451.2,49.5 L452.2,49.4 L453.3,49.4 L454.4,49.4 L455.5,49.3 L456.5,49.2 L457.6,49.1 L458.7,49.0 L459.7,48.9 L460.8,48.8 L461.9,48.7 L463.0,48.6 L464.0,48.5 L465.1,48.4 L466.2,48.3 L467.2,48.2 L468.3,48.0 L469.4,47.9 L470.5,47.8"/><path d="M84.6,330.9 L85.7,329.2 L86.8,327.5 L87.9,325.9 L88.9,324.2 L90.0,322.5 L91.1,320.9 L92.1,319.2 L93.2,317.6 L94.3,315.9 L95.4,314.3 L96.4,312.6 L97.5,311.0 L98.6,309.3 L99.6,307.7 L100.7,306.1 L101.8,304.4 L102.9,302.8 L103.9,301.2 L105.0,299.6 L106.1,297.9 L107.1,296.3 L108.2,294.7 L109.3,293.1 L110.4,291.4 L111.4,289.8 L112.5,288.2 L113.6,286.5 L114.6,284.9 L115.7,283.2 L116.8,281.6 L117.9,280.0 L118.9,278.4 L120.0,276.8 L121.1,275.2 L122.2,273.7 L123.2,272.2 L124.3,270.6 L125.4,269.1 L126.4,267.5 L127.5,265.9 L128.6,264.2 L129.7,262.6 L130.7,260.9 L131.8,259.3 L132.9,257.6 L133.9,255.9 L135.0,254.2 L136.1,252.6 L137.2,250.9 L138.2,249.2 L139.3,247.5 L140.4,245.8 L141.4,244.1 L142.5,242.4 L143.6,240.7 L144.7,239.1 L145.7,237.4 L146.8,235.9 L147.9,234.3 L148.9,232.8 L150.0,231.2 L151.1,229.6 L152.2,228.0 L153.2,226.4 L154.3,224.8 L155.4,223.1 L156.4,221.5 L157.5,219.8 L158.6,218.1 L159.7,216.4 L160.7,214.7 L161.8,213.0 L162.9,211.3 L163.9,209.6 L165.0,207.9 L166.1,206.2 L167.2,204.5 L168.2,202.8 L169.3,201.1 L170.4,199.4 L171.5,197.7 L172.5,196.0 L173.6,194.3 L174.7,192.6 L175.7,190.9 L176.8,189.2 L177.9,187.6 L179.0,185.9 L180.0,184.3 L181.1,182.6 L182.2,181.0 L183.2,179.4 L184.3,177.8 L185.4,176.2 L186.5,174.6 L187.5,173.0 L188.6,171.4 L189.7,169.8 L190.7,168.2 L191.8,166.6 L192.9,165.0 L194.0,163.4 L195.0,161.8 L196.1,160.2 L197.2,158.6 L198.2,157.0 L199.3,155.4 L200.4,153.8 L201.5,152.2 L202.5,150.6 L203.6,149.0 L204.7,147.4 L205.7,145.8 L206.8,144.3 L207.9,142.7 L209.0,141.2 L210.0,139.7 L211.1,138.2 L212.2,136.7 L213.2,135.3 L214.3,133.8 L215.4,132.4 L216.5,131.1 L217.5,129.7 L218.6,128.4 L219.7,127.1 L220.7,125.9 L221.8,124.7 L222.9,123.5 L224.0,122.4 L225.0,121.3 L226.1,120.2 L227.2,119.2 L228.3,118.2 L229.3,117.2 L230.4,116.3 L231.5,115.4 L232.5,114.5 L233.6,113.7 L234.7,112.8 L235.8,112.0 L236.8,111.2 L237.9,110.3 L239.0,109.6 L240.0,108.8 L241.1,108.0 L242.2,107.2 L243.3,106.5 L244.3,105.8 L245.4,105.0 L246.5,104.3 L247.5,103.6 L248.6,102.9 L249.7,102.2 L250.8,101.5 L251.8,100.8 L252.9,100.1 L254.0,99.4 L255.0,98.7 L256.1,98.1 L257.2,97.4 L258.3,96.8 L259.3,96.2 L260.4,95.6 L261.5,95.0 L262.5,94.4 L263.6,93.9 L264.7,93.3 L265.8,92.8 L266.8,92.2 L267.9,91.7 L269.0,91.2 L270.0,90.7 L271.1,90.2 L272.2,89.6 L273.3,89.1 L274.3,88.6 L275.4,88.1 L276.5,87.6 L277.6,87.1 L278.6,86.6 L279.7,86.1 L280.8,85.6 L281.8,85.1 L282.9,84.6 L284.0,84.1 L285.1,83.7 L286.1,83.2 L287.2,82.7 L288.3,82.3 L289.3,81.9 L290.4,81.4 L291.5,81.0 L292.6,80.6 L293.6,80.2 L294.7,79.8 L295.8,79.4 L296.8,79.0 L297.9,78.6 L299.0,78.2 L300.1,77.8 L301.1,77.4 L302.2,77.0 L303.3,76.6 L304.3,76.2 L305.4,75.8 L306.5,75.4 L307.6,74.9 L308.6,74.5 L309.7,74.2 L310.8,73.8 L311.8,73.4 L312.9,73.0 L314.0,72.6 L315.1,72.3 L316.1,71.9 L317.2,71.6 L318.3,71.3 L319.3,70.9 L320.4,70.6 L321.5,70.3 L322.6,70.0 L323.6,69.7 L324.7,69.4 L325.8,69.1 L326.8,68.8 L327.9,68.5 L329.0,68.2 L330.1,67.9 L331.1,67.6 L332.2,67.3 L333.3,67.1 L334.4,66.8 L335.4,66.5 L336.5,66.3 L337.6,66.0 L338.6,65.8 L339.7,65.5 L340.8,65.3 L341.9,65.0 L342.9,64.8 L344.0,64.6 L345.1,64.3 L346.1,64.1 L347.2,63.9 L348.3,63.6 L349.4,63.4 L350.4,63.2 L351.5,62.9 L352.6,62.7 L353.6,62.5 L354.7,62.2 L355.8,62.0 L356.9,61.8 L357.9,61.6 L359.0,61.3 L360.1,61.1 L361.1,60.9 L362.2,60.7 L363.3,60.5 L364.4,60.3 L365.4,60.1 L366.5,60.0 L367.6,59.8 L368.6,59.6 L369.7,59.4 L370.8,59.2 L371.9,59.0 L372.9,58.8 L374.0,58.7 L375.1,58.5 L376.1,58.3 L377.2,58.1 L378.3,57.9 L379.4,57.7 L380.4,57.6 L381.5,57.4 L382.6,57.2 L383.6,57.0 L384.7,56.8 L385.8,56.7 L386.9,56.5 L387.9,56.3 L389.0,56.1 L390.1,56.0 L391.2,55.8 L392.2,55.6 L393.3,55.5 L394.4,55.3 L395.4,55.2 L396.5,55.0 L397.6,54.8 L398.7,54.7 L399.7,54.5 L400.8,54.4 L401.9,54.2 L402.9,54.1 L404.0,53.9 L405.1,53.8 L406.2,53.6 L407.2,53.5 L408.3,53.3 L409.4,53.2 L410.4,53.1 L411.5,52.9 L412.6,52.8 L413.7,52.6 L414.7,52.5 L415.8,52.4 L416.9,52.2 L417.9,52.1 L419.0,52.0 L420.1,51.8 L421.2,51.7 L422.2,51.6 L423.3,51.5 L424.4,51.5 L425.4,51.4 L426.5,51.4 L427.6,51.4 L428.7,51.3 L429.7,51.3 L430.8,51.2 L431.9,51.2 L432.9,51.1 L434.0,51.0 L435.1,50.9 L436.2,50.8 L437.2,50.6 L438.3,50.5 L439.4,50.4 L440.5,50.3 L441.5,50.2 L442.6,50.1 L443.7,49.9 L444.7,49.8 L445.8,49.7 L446.9,49.7 L448.0,49.6 L449.0,49.5 L450.1,49.5 L451.2,49.5 L452.2,49.4 L453.3,49.4 L454.4,49.4 L455.5,49.3 L456.5,49.2 L457.6,49.1 L458.7,49.0 L459.7,48.9 L460.8,48.8 L461.9,48.7 L463.0,48.6 L464.0,48.5 L465.1,48.4 L466.2,48.3 L467.2,48.2 L468.3,48.0 L469.4,47.9 L470.5,47.8"/><path d="M84.6,333.8 L85.7,332.1 L86.8,330.4 L87.9,328.7 L88.9,327.1 L90.0,325.4 L91.1,323.7 L92.1,322.1 L93.2,320.4 L94.3,318.7 L95.4,317.1 L96.4,315.4 L97.5,313.8 L98.6,312.2 L99.6,310.5 L100.7,308.9 L101.8,307.2 L102.9,305.6 L103.9,304.0 L105.0,302.4 L106.1,300.7 L107.1,299.1 L108.2,297.5 L109.3,295.9 L110.4,294.2 L111.4,292.6 L112.5,291.0 L113.6,289.3 L114.6,287.7 L115.7,286.0 L116.8,284.3 L117.9,282.7 L118.9,281.1 L120.0,279.5 L121.1,277.9 L122.2,276.4 L123.2,274.9 L124.3,273.4 L125.4,271.9 L126.4,270.3 L127.5,268.7 L128.6,267.1 L129.7,265.5 L130.7,263.8 L131.8,262.1 L132.9,260.5 L133.9,258.8 L135.0,257.1 L136.1,255.4 L137.2,253.7 L138.2,252.0 L139.3,250.3 L140.4,248.6 L141.4,246.9 L142.5,245.2 L143.6,243.5 L144.7,241.8 L145.7,240.1 L146.8,238.5 L147.9,237.0 L148.9,235.5 L150.0,233.9 L151.1,232.4 L152.2,230.8 L153.2,229.2 L154.3,227.6 L155.4,225.9 L156.4,224.2 L157.5,222.6 L158.6,220.9 L159.7,219.2 L160.7,217.5 L161.8,215.8 L162.9,214.1 L163.9,212.3 L165.0,210.6 L166.1,208.9 L167.2,207.2 L168.2,205.4 L169.3,203.7 L170.4,201.9 L171.5,200.2 L172.5,198.5 L173.6,196.7 L174.7,195.0 L175.7,193.3 L176.8,191.6 L177.9,189.9 L179.0,188.2 L180.0,186.5 L181.1,184.8 L182.2,183.2 L183.2,181.6 L184.3,179.9 L185.4,178.3 L186.5,176.7 L187.5,175.0 L188.6,173.4 L189.7,171.8 L190.7,170.1 L191.8,168.5 L192.9,166.8 L194.0,165.2 L195.0,163.6 L196.1,161.9 L197.2,160.3 L198.2,158.7 L199.3,157.0 L200.4,155.4 L201.5,153.8 L202.5,152.2 L203.6,150.6 L204.7,149.0 L205.7,147.4 L206.8,145.8 L207.9,144.2 L209.0,142.7 L210.0,141.1 L211.1,139.6 L212.2,138.1 L213.2,136.6 L214.3,135.1 L215.4,133.7 L216.5,132.3 L217.5,130.9 L218.6,129.5 L219.7,128.2 L220.7,126.9 L221.8,125.7 L222.9,124.5 L224.0,123.3 L225.0,122.2 L226.1,121.1 L227.2,120.0 L228.3,119.0 L229.3,118.0 L230.4,117.1 L231.5,116.2 L232.5,115.3 L233.6,114.4 L234.7,113.5 L235.8,112.7 L236.8,111.8 L237.9,111.0 L239.0,110.2 L240.0,109.4 L241.1,108.6 L242.2,107.8 L243.3,107.1 L244.3,106.3 L245.4,105.6 L246.5,104.9 L247.5,104.1 L248.6,103.4 L249.7,102.7 L250.8,102.0 L251.8,101.3 L252.9,100.6 L254.0,99.9 L255.0,99.2 L256.1,98.5 L257.2,97.9 L258.3,97.2 L259.3,96.6 L260.4,96.0 L261.5,95.4 L262.5,94.8 L263.6,94.2 L264.7,93.7 L265.8,93.1 L266.8,92.6 L267.9,92.1 L269.0,91.5 L270.0,91.0 L271.1,90.5 L272.2,90.0 L273.3,89.5 L274.3,89.0 L275.4,88.5 L276.5,87.9 L277.6,87.4 L278.6,86.9 L279.7,86.4 L280.8,85.9 L281.8,85.4 L282.9,84.9 L284.0,84.4 L285.1,84.0 L286.1,83.5 L287.2,83.0 L288.3,82.6 L289.3,82.1 L290.4,81.7 L291.5,81.3 L292.6,80.8 L293.6,80.4 L294.7,80.0 L295.8,79.6 L296.8,79.2 L297.9,78.8 L299.0,78.4 L300.1,78.0 L301.1,77.6 L302.2,77.2 L303.3,76.8 L304.3,76.4 L305.4,76.0 L306.5,75.6 L307.6,75.2 L308.6,74.8 L309.7,74.4 L310.8,74.0 L311.8,73.6 L312.9,73.2 L314.0,72.8 L315.1,72.5 L316.1,72.1 L317.2,71.8 L318.3,71.4 L319.3,71.1 L320.4,70.8 L321.5,70.5 L322.6,70.2 L323.6,69.8 L324.7,69.5 L325.8,69.2 L326.8,68.9 L327.9,68.6 L329.0,68.3 L330.1,68.0 L331.1,67.7 L332.2,67.5 L333.3,67.2 L334.4,66.9 L335.4,66.6 L336.5,66.4 L337.6,66.1 L338.6,65.9 L339.7,65.6 L340.8,65.4 L341.9,65.2 L342.9,64.9 L344.0,64.7 L345.1,64.4 L346.1,64.2 L347.2,64.0 L348.3,63.7 L349.4,63.5 L350.4,63.3 L351.5,63.0 L352.6,62.8 L353.6,62.6 L354.7,62.3 L355.8,62.1 L356.9,61.9 L357.9,61.6 L359.0,61.4 L360.1,61.2 L361.1,61.0 L362.2,60.8 L363.3,60.6 L364.4,60.4 L365.4,60.2 L366.5,60.0 L367.6,59.8 L368.6,59.6 L369.7,59.4 L370.8,59.3 L371.9,59.1 L372.9,58.9 L374.0,58.7 L375.1,58.5 L376.1,58.3 L377.2,58.2 L378.3,58.0 L379.4,57.8 L380.4,57.6 L381.5,57.4 L382.6,57.2 L383.6,57.1 L384.7,56.9 L385.8,56.7 L386.9,56.5 L387.9,56.4 L389.0,56.2 L390.1,56.0 L391.2,55.8 L392.2,55.7 L393.3,55.5 L394.4,55.3 L395.4,55.2 L396.5,55.0 L397.6,54.9 L398.7,54.7 L399.7,54.5 L400.8,54.4 L401.9,54.2 L402.9,54.1 L404.0,53.9 L405.1,53.8 L406.2,53.6 L407.2,53.5 L408.3,53.4 L409.4,53.2 L410.4,53.1 L411.5,52.9 L412.6,52.8 L413.7,52.6 L414.7,52.5 L415.8,52.4 L416.9,52.2 L417.9,52.1 L419.0,52.0 L420.1,51.9 L421.2,51.7 L422.2,51.6 L423.3,51.6 L424.4,51.5 L425.4,51.4 L426.5,51.4 L427.6,51.4 L428.7,51.3 L429.7,51.3 L430.8,51.2 L431.9,51.2 L432.9,51.1 L434.0,51.0 L435.1,50.9 L436.2,50.8 L437.2,50.7 L438.3,50.5 L439.4,50.4 L440.5,50.3 L441.5,50.2 L442.6,50.1 L443.7,49.9 L444.7,49.8 L445.8,49.7 L446.9,49.7 L448.0,49.6 L449.0,49.5 L450.1,49.5 L451.2,49.5 L452.2,49.4 L453.3,49.4 L454.4,49.4 L455.5,49.3 L456.5,49.2 L457.6,49.2 L458.7,49.1 L459.7,49.0 L460.8,48.8 L461.9,48.7 L463.0,48.6 L464.0,48.5 L465.1,48.4 L466.2,48.3 L467.2,48.2 L468.3,48.1 L469.4,47.9 L470.5,47.8"/><path d="M84.6,336.6 L85.7,334.9 L86.8,333.3 L87.9,331.6 L88.9,329.9 L90.0,328.2 L91.1,326.6 L92.1,324.9 L93.2,323.2 L94.3,321.6 L95.4,319.9 L96.4,318.3 L97.5,316.6 L98.6,315.0 L99.6,313.3 L100.7,311.7 L101.8,310.0 L102.9,308.4 L103.9,306.8 L105.0,305.2 L106.1,303.5 L107.1,301.9 L108.2,300.3 L109.3,298.7 L110.4,297.0 L111.4,295.4 L112.5,293.8 L113.6,292.1 L114.6,290.4 L115.7,288.8 L116.8,287.1 L117.9,285.4 L118.9,283.7 L120.0,282.2 L121.1,280.6 L122.2,279.1 L123.2,277.7 L124.3,276.2 L125.4,274.7 L126.4,273.2 L127.5,271.6 L128.6,270.0 L129.7,268.3 L130.7,266.7 L131.8,265.0 L132.9,263.3 L133.9,261.7 L135.0,260.0 L136.1,258.3 L137.2,256.6 L138.2,254.9 L139.3,253.2 L140.4,251.4 L141.4,249.7 L142.5,248.0 L143.6,246.2 L144.7,244.5 L145.7,242.8 L146.8,241.2 L147.9,239.7 L148.9,238.2 L150.0,236.7 L151.1,235.1 L152.2,233.6 L153.2,232.0 L154.3,230.3 L155.4,228.7 L156.4,227.0 L157.5,225.3 L158.6,223.6 L159.7,221.9 L160.7,220.2 L161.8,218.5 L162.9,216.8 L163.9,215.0 L165.0,213.3 L166.1,211.5 L167.2,209.8 L168.2,208.0 L169.3,206.3 L170.4,204.5 L171.5,202.7 L172.5,201.0 L173.6,199.2 L174.7,197.4 L175.7,195.7 L176.8,193.9 L177.9,192.2 L179.0,190.5 L180.0,188.8 L181.1,187.1 L182.2,185.4 L183.2,183.7 L184.3,182.1 L185.4,180.4 L186.5,178.7 L187.5,177.1 L188.6,175.4 L189.7,173.7 L190.7,172.0 L191.8,170.4 L192.9,168.7 L194.0,167.0 L195.0,165.4 L196.1,163.7 L197.2,162.0 L198.2,160.4 L199.3,158.7 L200.4,157.1 L201.5,155.4 L202.5,153.8 L203.6,152.1 L204.7,150.5 L205.7,148.9 L206.8,147.3 L207.9,145.7 L209.0,144.1 L210.0,142.5 L211.1,141.0 L212.2,139.4 L213.2,137.9 L214.3,136.4 L215.4,134.9 L216.5,133.5 L217.5,132.1 L218.6,130.7 L219.7,129.3 L220.7,128.0 L221.8,126.7 L222.9,125.5 L224.0,124.3 L225.0,123.1 L226.1,122.0 L227.2,120.9 L228.3,119.8 L229.3,118.8 L230.4,117.9 L231.5,116.9 L232.5,116.0 L233.6,115.1 L234.7,114.2 L235.8,113.4 L236.8,112.5 L237.9,111.7 L239.0,110.8 L240.0,110.0 L241.1,109.2 L242.2,108.4 L243.3,107.7 L244.3,106.9 L245.4,106.2 L246.5,105.4 L247.5,104.7 L248.6,103.9 L249.7,103.2 L250.8,102.5 L251.8,101.8 L252.9,101.0 L254.0,100.3 L255.0,99.7 L256.1,99.0 L257.2,98.3 L258.3,97.7 L259.3,97.0 L260.4,96.4 L261.5,95.8 L262.5,95.2 L263.6,94.6 L264.7,94.1 L265.8,93.5 L266.8,93.0 L267.9,92.4 L269.0,91.9 L270.0,91.4 L271.1,90.9 L272.2,90.3 L273.3,89.8 L274.3,89.3 L275.4,88.8 L276.5,88.3 L277.6,87.8 L278.6,87.3 L279.7,86.7 L280.8,86.2 L281.8,85.7 L282.9,85.2 L284.0,84.7 L285.1,84.3 L286.1,83.8 L287.2,83.3 L288.3,82.9 L289.3,82.4 L290.4,82.0 L291.5,81.5 L292.6,81.1 L293.6,80.7 L294.7,80.3 L295.8,79.9 L296.8,79.5 L297.9,79.1 L299.0,78.7 L300.1,78.3 L301.1,77.9 L302.2,77.5 L303.3,77.1 L304.3,76.7 L305.4,76.3 L306.5,75.8 L307.6,75.4 L308.6,75.0 L309.7,74.6 L310.8,74.2 L311.8,73.8 L312.9,73.4 L314.0,73.1 L315.1,72.7 L316.1,72.3 L317.2,72.0 L318.3,71.6 L319.3,71.3 L320.4,71.0 L321.5,70.6 L322.6,70.3 L323.6,70.0 L324.7,69.7 L325.8,69.4 L326.8,69.1 L327.9,68.8 L329.0,68.5 L330.1,68.2 L331.1,67.9 L332.2,67.6 L333.3,67.3 L334.4,67.0 L335.4,66.8 L336.5,66.5 L337.6,66.3 L338.6,66.0 L339.7,65.7 L340.8,65.5 L341.9,65.3 L342.9,65.0 L344.0,64.8 L345.1,64.5 L346.1,64.3 L347.2,64.1 L348.3,63.8 L349.4,63.6 L350.4,63.4 L351.5,63.1 L352.6,62.9 L353.6,62.6 L354.7,62.4 L355.8,62.2 L356.9,61.9 L357.9,61.7 L359.0,61.5 L360.1,61.3 L361.1,61.1 L362.2,60.9 L363.3,60.7 L364.4,60.5 L365.4,60.3 L366.5,60.1 L367.6,59.9 L368.6,59.7 L369.7,59.5 L370.8,59.3 L371.9,59.1 L372.9,58.9 L374.0,58.8 L375.1,58.6 L376.1,58.4 L377.2,58.2 L378.3,58.0 L379.4,57.8 L380.4,57.6 L381.5,57.5 L382.6,57.3 L383.6,57.1 L384.7,56.9 L385.8,56.7 L386.9,56.6 L387.9,56.4 L389.0,56.2 L390.1,56.0 L391.2,55.9 L392.2,55.7 L393.3,55.5 L394.4,55.4 L395.4,55.2 L396.5,55.0 L397.6,54.9 L398.7,54.7 L399.7,54.6 L400.8,54.4 L401.9,54.3 L402.9,54.1 L404.0,54.0 L405.1,53.8 L406.2,53.7 L407.2,53.5 L408.3,53.4 L409.4,53.2 L410.4,53.1 L411.5,52.9 L412.6,52.8 L413.7,52.7 L414.7,52.5 L415.8,52.4 L416.9,52.2 L417.9,52.1 L419.0,52.0 L420.1,51.9 L421.2,51.7 L422.2,51.6 L423.3,51.6 L424.4,51.5 L425.4,51.4 L426.5,51.4 L427.6,51.4 L428.7,51.3 L429.7,51.3 L430.8,51.2 L431.9,51.2 L432.9,51.1 L434.0,51.0 L435.1,50.9 L436.2,50.8 L437.2,50.7 L438.3,50.5 L439.4,50.4 L440.5,50.3 L441.5,50.2 L442.6,50.1 L443.7,50.0 L444.7,49.8 L445.8,49.7 L446.9,49.7 L448.0,49.6 L449.0,49.5 L450.1,49.5 L451.2,49.5 L452.2,49.4 L453.3,49.4 L454.4,49.4 L455.5,49.3 L456.5,49.2 L457.6,49.2 L458.7,49.1 L459.7,49.0 L460.8,48.9 L461.9,48.7 L463.0,48.6 L464.0,48.5 L465.1,48.4 L466.2,48.3 L467.2,48.2 L468.3,48.1 L469.4,47.9 L470.5,47.8"/></g>
<g stroke="#888" stroke-width="0.5"><path d="M84.6,316.7 L85.7,315.0 L86.8,313.4 L87.9,311.7 L88.9,310.1 L90.0,308.4 L91.1,306.8 L92.1,305.2 L93.2,303.5 L94.3,301.9 L95.4,300.3 L96.4,298.6 L97.5,297.0 L98.6,295.4 L99.6,293.8 L100.7,292.2 L101.8,290.5 L102.9,288.9 L103.9,287.3 L105.0,285.7 L106.1,284.0 L107.1,282.4 L108.2,280.8 L109.3,279.2 L110.4,277.5 L111.4,275.9 L112.5,274.3 L113.6,272.7 L114.6,271.1 L115.7,269.5 L116.8,268.0 L117.9,266.5 L118.9,264.9 L120.0,263.4 L121.1,261.8 L122.2,260.2 L123.2,258.5 L124.3,256.8 L125.4,255.1 L126.4,253.4 L127.5,251.7 L128.6,250.0 L129.7,248.4 L130.7,246.7 L131.8,245.0 L132.9,243.3 L133.9,241.7 L135.0,240.0 L136.1,238.3 L137.2,236.7 L138.2,235.0 L139.3,233.4 L140.4,231.8 L141.4,230.2 L142.5,228.7 L143.6,227.1 L144.7,225.6 L145.7,224.1 L146.8,222.5 L147.9,220.9 L148.9,219.3 L150.0,217.7 L151.1,216.0 L152.2,214.3 L153.2,212.6 L154.3,211.0 L155.4,209.3 L156.4,207.7 L157.5,206.0 L158.6,204.4 L159.7,202.7 L160.7,201.1 L161.8,199.5 L162.9,197.8 L163.9,196.2 L165.0,194.6 L166.1,193.0 L167.2,191.4 L168.2,189.8 L169.3,188.3 L170.4,186.7 L171.5,185.1 L172.5,183.6 L173.6,182.1 L174.7,180.5 L175.7,179.0 L176.8,177.5 L177.9,176.0 L179.0,174.5 L180.0,173.1 L181.1,171.6 L182.2,170.1 L183.2,168.7 L184.3,167.2 L185.4,165.8 L186.5,164.3 L187.5,162.9 L188.6,161.5 L189.7,160.0 L190.7,158.6 L191.8,157.2 L192.9,155.7 L194.0,154.3 L195.0,152.9 L196.1,151.4 L197.2,149.9 L198.2,148.5 L199.3,147.0 L200.4,145.5 L201.5,144.1 L202.5,142.6 L203.6,141.2 L204.7,139.7 L205.7,138.3 L206.8,136.9 L207.9,135.5 L209.0,134.1 L210.0,132.7 L211.1,131.4 L212.2,130.0 L213.2,128.8 L214.3,127.5 L215.4,126.3 L216.5,125.1 L217.5,123.9 L218.6,122.8 L219.7,121.7 L220.7,120.6 L221.8,119.6 L222.9,118.6 L224.0,117.6 L225.0,116.7 L226.1,115.8 L227.2,114.9 L228.3,114.1 L229.3,113.2 L230.4,112.4 L231.5,111.6 L232.5,110.8 L233.6,110.1 L234.7,109.3 L235.8,108.5 L236.8,107.8 L237.9,107.1 L239.0,106.4 L240.0,105.6 L241.1,104.9 L242.2,104.2 L243.3,103.6 L244.3,102.9 L245.4,102.2 L246.5,101.5 L247.5,100.9 L248.6,100.2 L249.7,99.6 L250.8,98.9 L251.8,98.3 L252.9,97.7 L254.0,97.1 L255.0,96.5 L256.1,95.9 L257.2,95.3 L258.3,94.7 L259.3,94.2 L260.4,93.6 L261.5,93.1 L262.5,92.5 L263.6,92.0 L264.7,91.5 L265.8,91.0 L266.8,90.5 L267.9,89.9 L269.0,89.4 L270.0,88.9 L271.1,88.4 L272.2,87.9 L273.3,87.4 L274.3,86.9 L275.4,86.4 L276.5,85.9 L277.6,85.5 L278.6,85.0 L279.7,84.5 L280.8,84.0 L281.8,83.6 L282.9,83.1 L284.0,82.6 L285.1,82.2 L286.1,81.8 L287.2,81.3 L288.3,80.9 L289.3,80.5 L290.4,80.1 L291.5,79.7 L292.6,79.3 L293.6,78.9 L294.7,78.5 L295.8,78.1 L296.8,77.7 L297.9,77.3 L299.0,76.9 L300.1,76.5 L301.1,76.1 L302.2,75.7 L303.3,75.3 L304.3,74.9 L305.4,74.5 L306.5,74.1 L307.6,73.8 L308.6,73.4 L309.7,73.0 L310.8,72.7 L311.8,72.3 L312.9,72.0 L314.0,71.6 L315.1,71.3 L316.1,71.0 L317.2,70.7 L318.3,70.3 L319.3,70.0 L320.4,69.7 L321.5,69.4 L322.6,69.1 L323.6,68.8 L324.7,68.6 L325.8,68.3 L326.8,68.0 L327.9,67.7 L329.0,67.4 L330.1,67.2 L331.1,66.9 L332.2,66.6 L333.3,66.4 L334.4,66.1 L335.4,65.9 L336.5,65.7 L337.6,65.4 L338.6,65.2 L339.7,64.9 L340.8,64.7 L341.9,64.5 L342.9,64.3 L344.0,64.0 L345.1,63.8 L346.1,63.6 L347.2,63.4 L348.3,63.1 L349.4,62.9 L350.4,62.7 L351.5,62.5 L352.6,62.2 L353.6,62.0 L354.7,61.8 L355.8,61.6 L356.9,61.4 L357.9,61.2 L359.0,61.0 L360.1,60.8 L361.1,60.6 L362.2,60.4 L363.3,60.2 L364.4,60.0 L365.4,59.8 L366.5,59.7 L367.6,59.5 L368.6,59.3 L369.7,59.1 L370.8,58.9 L371.9,58.8 L372.9,58.6 L374.0,58.4 L375.1,58.2 L376.1,58.1 L377.2,57.9 L378.3,57.7 L379.4,57.5 L380.4,57.3 L381.5,57.2 L382.6,57.0 L383.6,56.8 L384.7,56.7 L385.8,56.5 L386.9,56.3 L387.9,56.1 L389.0,56.0 L390.1,55.8 L391.2,55.7 L392.2,55.5 L393.3,55.3 L394.4,55.2 L395.4,55.0 L396.5,54.9 L397.6,54.7 L398.7,54.6 L399.7,54.4 L400.8,54.3 L401.9,54.1 L402.9,54.0 L404.0,53.8 L405.1,53.7 L406.2,53.5 L407.2,53.4 L408.3,53.2 L409.4,53.1 L410.4,53.0 L411.5,52.8 L412.6,52.7 L413.7,52.6 L414.7,52.4 L415.8,52.3 L416.9,52.2 L417.9,52.0 L419.0,51.9 L420.1,51.8 L421.2,51.7 L422.2,51.6 L423.3,51.5 L424.4,51.5 L425.4,51.4 L426.5,51.4 L427.6,51.3 L428.7,51.3 L429.7,51.3 L430.8,51.2 L431.9,51.1 L432.9,51.0 L434.0,50.9 L435.1,50.8 L436.2,50.7 L437.2,50.6 L438.3,50.5 L439.4,50.4 L440.5,50.2 L441.5,50.1 L442.6,50.0 L443.7,49.9 L444.7,49.8 L445.8,49.7 L446.9,49.6 L448.0,49.6 L449.0,49.5 L450.1,49.5 L451.2,49.5 L452.2,49.4 L453.3,49.4 L454.4,49.3 L455.5,49.3 L456.5,49.2 L457.6,49.1 L458.7,49.0 L459.7,48.9 L460.8,48.8 L461.9,48.7 L463.0,48.6 L464.0,48.5 L465.1,48.4 L466.2,48.2 L467.2,48.1 L468.3,48.0 L469.4,47.9 L470.5,47.8"/><path d="M84.6,325.0 L85.7,323.3 L86.8,321.6 L87.9,320.0 L88.9,318.3 L90.0,316.7 L91.1,315.0 L92.1,313.4 L93.2,311.7 L94.3,310.1 L95.4,308.5 L96.4,306.8 L97.5,305.2 L98.6,303.6 L99.6,301.9 L100.7,300.3 L101.8,298.7 L102.9,297.0 L103.9,295.4 L105.0,293.8 L106.1,292.2 L107.1,290.5 L108.2,288.9 L109.3,287.3 L110.4,285.7 L111.4,284.0 L112.5,282.4 L113.6,280.8 L114.6,279.2 L115.7,277.6 L116.8,275.9 L117.9,274.4 L118.9,272.8 L120.0,271.2 L121.1,269.7 L122.2,268.1 L123.2,266.5 L124.3,264.9 L125.4,263.3 L126.4,261.6 L127.5,260.0 L128.6,258.3 L129.7,256.7 L130.7,255.0 L131.8,253.3 L132.9,251.7 L133.9,250.0 L135.0,248.3 L136.1,246.6 L137.2,245.0 L138.2,243.3 L139.3,241.6 L140.4,240.0 L141.4,238.3 L142.5,236.7 L143.6,235.1 L144.7,233.5 L145.7,231.9 L146.8,230.3 L147.9,228.7 L148.9,227.2 L150.0,225.6 L151.1,224.0 L152.2,222.3 L153.2,220.7 L154.3,219.0 L155.4,217.4 L156.4,215.7 L157.5,214.1 L158.6,212.4 L159.7,210.7 L160.7,209.1 L161.8,207.4 L162.9,205.7 L163.9,204.1 L165.0,202.4 L166.1,200.7 L167.2,199.1 L168.2,197.4 L169.3,195.8 L170.4,194.1 L171.5,192.5 L172.5,190.8 L173.6,189.2 L174.7,187.6 L175.7,186.0 L176.8,184.4 L177.9,182.8 L179.0,181.2 L180.0,179.6 L181.1,178.0 L182.2,176.5 L183.2,174.9 L184.3,173.4 L185.4,171.9 L186.5,170.3 L187.5,168.8 L188.6,167.3 L189.7,165.7 L190.7,164.2 L191.8,162.7 L192.9,161.1 L194.0,159.6 L195.0,158.1 L196.1,156.5 L197.2,155.0 L198.2,153.4 L199.3,151.9 L200.4,150.3 L201.5,148.8 L202.5,147.3 L203.6,145.7 L204.7,144.2 L205.7,142.7 L206.8,141.2 L207.9,139.7 L209.0,138.2 L210.0,136.8 L211.1,135.4 L212.2,134.0 L213.2,132.6 L214.3,131.2 L215.4,129.9 L216.5,128.6 L217.5,127.3 L218.6,126.1 L219.7,124.9 L220.7,123.7 L221.8,122.6 L222.9,121.5 L224.0,120.4 L225.0,119.4 L226.1,118.4 L227.2,117.4 L228.3,116.5 L229.3,115.6 L230.4,114.7 L231.5,113.8 L232.5,113.0 L233.6,112.2 L234.7,111.3 L235.8,110.5 L236.8,109.8 L237.9,109.0 L239.0,108.2 L240.0,107.5 L241.1,106.7 L242.2,106.0 L243.3,105.3 L244.3,104.6 L245.4,103.9 L246.5,103.2 L247.5,102.5 L248.6,101.8 L249.7,101.1 L250.8,100.4 L251.8,99.7 L252.9,99.1 L254.0,98.4 L255.0,97.8 L256.1,97.2 L257.2,96.5 L258.3,95.9 L259.3,95.4 L260.4,94.8 L261.5,94.2 L262.5,93.6 L263.6,93.1 L264.7,92.6 L265.8,92.0 L266.8,91.5 L267.9,91.0 L269.0,90.5 L270.0,90.0 L271.1,89.4 L272.2,88.9 L273.3,88.4 L274.3,87.9 L275.4,87.4 L276.5,86.9 L277.6,86.4 L278.6,85.9 L279.7,85.4 L280.8,84.9 L281.8,84.5 L282.9,84.0 L284.0,83.5 L285.1,83.1 L286.1,82.6 L287.2,82.2 L288.3,81.7 L289.3,81.3 L290.4,80.9 L291.5,80.4 L292.6,80.0 L293.6,79.6 L294.7,79.2 L295.8,78.8 L296.8,78.4 L297.9,78.0 L299.0,77.6 L300.1,77.2 L301.1,76.8 L302.2,76.4 L303.3,76.0 L304.3,75.6 L305.4,75.2 L306.5,74.9 L307.6,74.5 L308.6,74.1 L309.7,73.7 L310.8,73.3 L311.8,72.9 L312.9,72.6 L314.0,72.2 L315.1,71.9 L316.1,71.5 L317.2,71.2 L318.3,70.9 L319.3,70.6 L320.4,70.2 L321.5,69.9 L322.6,69.6 L323.6,69.3 L324.7,69.0 L325.8,68.7 L326.8,68.4 L327.9,68.2 L329.0,67.9 L330.1,67.6 L331.1,67.3 L332.2,67.0 L333.3,66.8 L334.4,66.5 L335.4,66.3 L336.5,66.0 L337.6,65.8 L338.6,65.5 L339.7,65.3 L340.8,65.0 L341.9,64.8 L342.9,64.6 L344.0,64.3 L345.1,64.1 L346.1,63.9 L347.2,63.7 L348.3,63.4 L349.4,63.2 L350.4,63.0 L351.5,62.7 L352.6,62.5 L353.6,62.3 L354.7,62.1 L355.8,61.8 L356.9,61.6 L357.9,61.4 L359.0,61.2 L360.1,61.0 L361.1,60.8 L362.2,60.6 L363.3,60.4 L364.4,60.2 L365.4,60.0 L366.5,59.8 L367.6,59.6 L368.6,59.5 L369.7,59.3 L370.8,59.1 L371.9,58.9 L372.9,58.7 L374.0,58.6 L375.1,58.4 L376.1,58.2 L377.2,58.0 L378.3,57.8 L379.4,57.6 L380.4,57.5 L381.5,57.3 L382.6,57.1 L383.6,56.9 L384.7,56.8 L385.8,56.6 L386.9,56.4 L387.9,56.2 L389.0,56.1 L390.1,55.9 L391.2,55.7 L392.2,55.6 L393.3,55.4 L394.4,55.3 L395.4,55.1 L396.5,54.9 L397.6,54.8 L398.7,54.6 L399.7,54.5 L400.8,54.3 L401.9,54.2 L402.9,54.0 L404.0,53.9 L405.1,53.7 L406.2,53.6 L407.2,53.4 L408.3,53.3 L409.4,53.2 L410.4,53.0 L411.5,52.9 L412.6,52.7 L413.7,52.6 L414.7,52.5 L415.8,52.3 L416.9,52.2 L417.9,52.1 L419.0,51.9 L420.1,51.8 L421.2,51.7 L422.2,51.6 L423.3,51.5 L424.4,51.5 L425.4,51.4 L426.5,51.4 L427.6,51.3 L428.7,51.3 L429.7,51.3 L430.8,51.2 L431.9,51.1 L432.9,51.1 L434.0,51.0 L435.1,50.9 L436.2,50.7 L437.2,50.6 L438.3,50.5 L439.4,50.4 L440.5,50.3 L441.5,50.2 L442.6,50.0 L443.7,49.9 L444.7,49.8 L445.8,49.7 L446.9,49.6 L448.0,49.6 L449.0,49.5 L450.1,49.5 L451.2,49.5 L452.2,49.4 L453.3,49.4 L454.4,49.4 L455.5,49.3 L456.5,49.2 L457.6,49.1 L458.7,49.0 L459.7,48.9 L460.8,48.8 L461.9,48.7 L463.0,48.6 L464.0,48.5 L465.1,48.4 L466.2,48.3 L467.2,48.1 L468.3,48.0 L469.4,47.9 L470.5,47.8"/></g>
<g stroke="#000" stroke-width="2.0"><path d="M191.8,301.9 L192.9,301.8 L194.0,301.8 L195.0,301.7 L196.1,301.7 L197.2,301.6 L198.2,301.5 L199.3,301.5 L200.4,301.4 L201.5,301.3 L202.5,301.2 L203.6,301.1 L204.7,301.0 L205.7,300.9 L206.8,300.8 L207.9,300.7 L209.0,300.6 L210.0,300.5 L211.1,300.3 L212.2,300.2 L213.2,300.0 L214.3,299.9 L215.4,299.7 L216.5,299.6 L217.5,299.4 L218.6,299.2 L219.7,299.0 L220.7,298.9 L221.8,298.7 L222.9,298.5 L224.0,298.3 L225.0,298.1 L226.1,297.9 L227.2,297.6 L228.3,297.4 L229.3,297.2 L230.4,296.9 L231.5,296.7 L232.5,296.4 L233.6,296.2 L234.7,295.9 L235.8,295.6 L236.8,295.3 L237.9,295.0 L239.0,294.7 L240.0,294.4 L241.1,294.1 L242.2,293.7 L243.3,293.4 L244.3,293.0 L245.4,292.6 L246.5,292.2 L247.5,291.8 L248.6,291.4 L249.7,291.0 L250.8,290.5 L251.8,290.1 L252.9,289.6 L254.0,289.1 L255.0,288.6 L256.1,288.1 L257.2,287.5 L258.3,287.0 L259.3,286.4 L260.4,285.9 L261.5,285.3 L262.5,284.7 L263.6,284.1 L264.7,283.5 L265.8,282.8 L266.8,282.2 L267.9,281.5 L269.0,280.9 L270.0,280.2 L271.1,279.5 L272.2,278.8 L273.3,278.0 L274.3,277.3 L275.4,276.5 L276.5,275.7 L277.6,274.9 L278.6,274.1 L279.7,273.3 L280.8,272.5 L281.8,271.6 L282.9,270.8 L284.0,269.9 L285.1,269.0 L286.1,268.1 L287.2,267.2 L288.3,266.3 L289.3,265.3 L290.4,264.4 L291.5,263.4 L292.6,262.4 L293.6,261.4 L294.7,260.4 L295.8,259.4 L296.8,258.4 L297.9,257.4 L299.0,256.4 L300.1,255.3 L301.1,254.2 L302.2,253.2 L303.3,252.1 L304.3,251.0 L305.4,249.9 L306.5,248.8 L307.6,247.7 L308.6,246.6 L309.7,245.5 L310.8,244.3 L311.8,243.2 L312.9,242.0 L314.0,240.8 L315.1,239.7 L316.1,238.5 L317.2,237.3 L318.3,236.1 L319.3,234.9 L320.4,233.6 L321.5,232.4 L322.6,231.2 L323.6,229.9 L324.7,228.7 L325.8,227.4 L326.8,226.2 L327.9,224.9 L329.0,223.7 L330.1,222.4 L331.1,221.1 L332.2,219.8 L333.3,218.6 L334.4,217.3 L335.4,216.0 L336.5,214.7 L337.6,213.4 L338.6,212.1 L339.7,210.9 L340.8,209.6 L341.9,208.3 L342.9,207.0 L344.0,205.7 L345.1,204.4 L346.1,203.1 L347.2,201.8 L348.3,200.4 L349.4,199.1 L350.4,197.8 L351.5,196.5 L352.6,195.1 L353.6,193.8 L354.7,192.5 L355.8,191.1 L356.9,189.7 L357.9,188.4 L359.0,187.0 L360.1,185.6 L361.1,184.3 L362.2,182.9 L363.3,181.5 L364.4,180.1 L365.4,178.7 L366.5,177.3 L367.6,175.9 L368.6,174.5 L369.7,173.1 L370.8,171.7 L371.9,170.3 L372.9,168.9 L374.0,167.5 L375.1,166.1 L376.1,164.7 L377.2,163.3 L378.3,161.9 L379.4,160.5 L380.4,159.1 L381.5,157.7 L382.6,156.3 L383.6,154.9 L384.7,153.6 L385.8,152.2 L386.9,150.8 L387.9,149.4 L389.0,148.0 L390.1,146.6 L391.2,145.3 L392.2,143.9 L393.3,142.5 L394.4,141.1 L395.4,139.8 L396.5,138.4 L397.6,137.0 L398.7,135.7 L399.7,134.3 L400.8,132.9 L401.9,131.6 L402.9,130.2 L404.0,128.8 L405.1,127.5 L406.2,126.1 L407.2,124.8 L408.3,123.4 L409.4,122.1 L410.4,120.7 L411.5,119.4 L412.6,118.0 L413.7,116.7 L414.7,115.3 L415.8,114.0 L416.9,112.7 L417.9,111.3 L419.0,110.0 L420.1,108.7 L421.2,107.3 L422.2,106.0 L423.3,104.7 L424.4,103.4 L425.4,102.1 L426.5,100.7 L427.6,99.4 L428.7,98.1 L429.7,96.8 L430.8,95.6 L431.9,94.3 L432.9,93.0 L434.0,91.7 L435.1,90.4 L436.2,89.2 L437.2,87.9 L438.3,86.6 L439.4,85.4 L440.5,84.1 L441.5,82.9 L442.6,81.6 L443.7,80.4 L444.7,79.2 L445.8,77.9 L446.9,76.7 L448.0,75.5 L449.0,74.3 L450.1,73.1 L451.2,71.9 L452.2,70.7 L453.3,69.4 L454.4,68.2 L455.5,67.0 L456.5,65.8 L457.6,64.6 L458.7,63.4 L459.7,62.2 L460.8,61.0 L461.9,59.8 L463.0,58.6 L464.0,57.4 L465.1,56.2 L466.2,54.9 L467.2,53.7 L468.3,52.5 L469.4,51.3 L470.5,50.1"/><path d="M191.8,301.9 L192.9,301.9 L194.0,301.8 L195.0,301.8 L196.1,301.7 L197.2,301.7 L198.2,301.6 L199.3,301.5 L200.4,301.5 L201.5,301.4 L202.5,301.3 L203.6,301.2 L204.7,301.1 L205.7,301.0 L206.8,300.9 L207.9,300.8 L209.0,300.7 L210.0,300.6 L211.1,300.5 L212.2,300.3 L213.2,300.2 L214.3,300.0 L215.4,299.9 L216.5,299.7 L217.5,299.6 L218.6,299.4 L219.7,299.2 L220.7,299.1 L221.8,298.9 L222.9,298.7 L224.0,298.5 L225.0,298.3 L226.1,298.1 L227.2,297.9 L228.3,297.6 L229.3,297.4 L230.4,297.2 L231.5,297.0 L232.5,296.7 L233.6,296.5 L234.7,296.2 L235.8,295.9 L236.8,295.6 L237.9,295.4 L239.0,295.1 L240.0,294.7 L241.1,294.4 L242.2,294.1 L243.3,293.7 L244.3,293.4 L245.4,293.0 L246.5,292.6 L247.5,292.2 L248.6,291.8 L249.7,291.4 L250.8,291.0 L251.8,290.5 L252.9,290.1 L254.0,289.6 L255.0,289.1 L256.1,288.6 L257.2,288.1 L258.3,287.6 L259.3,287.0 L260.4,286.5 L261.5,285.9 L262.5,285.3 L263.6,284.7 L264.7,284.1 L265.8,283.5 L266.8,282.9 L267.9,282.2 L269.0,281.6 L270.0,280.9 L271.1,280.2 L272.2,279.5 L273.3,278.8 L274.3,278.1 L275.4,277.3 L276.5,276.6 L277.6,275.8 L278.6,275.0 L279.7,274.2 L280.8,273.4 L281.8,272.5 L282.9,271.7 L284.0,270.8 L285.1,270.0 L286.1,269.1 L287.2,268.2 L288.3,267.3 L289.3,266.3 L290.4,265.4 L291.5,264.4 L292.6,263.5 L293.6,262.5 L294.7,261.5 L295.8,260.5 L296.8,259.5 L297.9,258.5 L299.0,257.5 L300.1,256.5 L301.1,255.4 L302.2,254.4 L303.3,253.3 L304.3,252.2 L305.4,251.1 L306.5,250.0 L307.6,248.9 L308.6,247.8 L309.7,246.7 L310.8,245.6 L311.8,244.4 L312.9,243.3 L314.0,242.1 L315.1,241.0 L316.1,239.8 L317.2,238.6 L318.3,237.4 L319.3,236.2 L320.4,235.0 L321.5,233.8 L322.6,232.5 L323.6,231.3 L324.7,230.1 L325.8,228.8 L326.8,227.6 L327.9,226.3 L329.0,225.1 L330.1,223.8 L331.1,222.5 L332.2,221.3 L333.3,220.0 L334.4,218.7 L335.4,217.4 L336.5,216.2 L337.6,214.9 L338.6,213.6 L339.7,212.3 L340.8,211.0 L341.9,209.7 L342.9,208.4 L344.0,207.1 L345.1,205.8 L346.1,204.5 L347.2,203.2 L348.3,201.9 L349.4,200.6 L350.4,199.3 L351.5,198.0 L352.6,196.6 L353.6,195.3 L354.7,194.0 L355.8,192.6 L356.9,191.3 L357.9,189.9 L359.0,188.5 L360.1,187.2 L361.1,185.8 L362.2,184.4 L363.3,183.1 L364.4,181.7 L365.4,180.3 L366.5,178.9 L367.6,177.5 L368.6,176.1 L369.7,174.7 L370.8,173.3 L371.9,171.9 L372.9,170.5 L374.0,169.1 L375.1,167.7 L376.1,166.3 L377.2,164.9 L378.3,163.5 L379.4,162.1 L380.4,160.7 L381.5,159.3 L382.6,157.9 L383.6,156.5 L384.7,155.1 L385.8,153.7 L386.9,152.3 L387.9,151.0 L389.0,149.6 L390.1,148.2 L391.2,146.8 L392.2,145.4 L393.3,144.1 L394.4,142.7 L395.4,141.3 L396.5,139.9 L397.6,138.6 L398.7,137.2 L399.7,135.8 L400.8,134.5 L401.9,133.1 L402.9,131.7 L404.0,130.4 L405.1,129.0 L406.2,127.7 L407.2,126.3 L408.3,125.0 L409.4,123.6 L410.4,122.2 L411.5,120.9 L412.6,119.5 L413.7,118.2 L414.7,116.9 L415.8,115.5 L416.9,114.2 L417.9,112.8 L419.0,111.5 L420.1,110.2 L421.2,108.8 L422.2,107.5 L423.3,106.2 L424.4,104.9 L425.4,103.5 L426.5,102.2 L427.6,100.9 L428.7,99.6 L429.7,98.3 L430.8,97.0 L431.9,95.7 L432.9,94.4 L434.0,93.2 L435.1,91.9 L436.2,90.6 L437.2,89.3 L438.3,88.1 L439.4,86.8 L440.5,85.6 L441.5,84.3 L442.6,83.1 L443.7,81.8 L444.7,80.6 L445.8,79.3 L446.9,78.1 L448.0,76.9 L449.0,75.7 L450.1,74.4 L451.2,73.2 L452.2,72.0 L453.3,70.8 L454.4,69.6 L455.5,68.4 L456.5,67.2 L457.6,66.0 L458.7,64.8 L459.7,63.6 L460.8,62.4 L461.9,61.1 L463.0,59.9 L464.0,58.7 L465.1,57.5 L466.2,56.3 L467.2,55.1 L468.3,53.9 L469.4,52.7 L470.5,51.4"/><path d="M191.8,302.0 L192.9,301.9 L194.0,301.9 L195.0,301.8 L196.1,301.8 L197.2,301.7 L198.2,301.7 L199.3,301.6 L200.4,301.5 L201.5,301.5 L202.5,301.4 L203.6,301.3 L204.7,301.2 L205.7,301.1 L206.8,301.0 L207.9,300.9 L209.0,300.8 L210.0,300.7 L211.1,300.6 L212.2,300.5 L213.2,300.3 L214.3,300.2 L215.4,300.0 L216.5,299.9 L217.5,299.7 L218.6,299.6 L219.7,299.4 L220.7,299.2 L221.8,299.1 L222.9,298.9 L224.0,298.7 L225.0,298.5 L226.1,298.3 L227.2,298.1 L228.3,297.9 L229.3,297.7 L230.4,297.4 L231.5,297.2 L232.5,297.0 L233.6,296.7 L234.7,296.5 L235.8,296.2 L236.8,295.9 L237.9,295.7 L239.0,295.4 L240.0,295.1 L241.1,294.8 L242.2,294.4 L243.3,294.1 L244.3,293.8 L245.4,293.4 L246.5,293.0 L247.5,292.7 L248.6,292.3 L249.7,291.9 L250.8,291.4 L251.8,291.0 L252.9,290.6 L254.0,290.1 L255.0,289.6 L256.1,289.2 L257.2,288.7 L258.3,288.1 L259.3,287.6 L260.4,287.1 L261.5,286.5 L262.5,286.0 L263.6,285.4 L264.7,284.8 L265.8,284.2 L266.8,283.6 L267.9,282.9 L269.0,282.3 L270.0,281.6 L271.1,281.0 L272.2,280.3 L273.3,279.6 L274.3,278.9 L275.4,278.1 L276.5,277.4 L277.6,276.6 L278.6,275.9 L279.7,275.1 L280.8,274.3 L281.8,273.5 L282.9,272.6 L284.0,271.8 L285.1,270.9 L286.1,270.0 L287.2,269.2 L288.3,268.3 L289.3,267.4 L290.4,266.4 L291.5,265.5 L292.6,264.5 L293.6,263.6 L294.7,262.6 L295.8,261.6 L296.8,260.6 L297.9,259.6 L299.0,258.6 L300.1,257.6 L301.1,256.6 L302.2,255.5 L303.3,254.5 L304.3,253.4 L305.4,252.3 L306.5,251.3 L307.6,250.2 L308.6,249.1 L309.7,248.0 L310.8,246.8 L311.8,245.7 L312.9,244.6 L314.0,243.4 L315.1,242.3 L316.1,241.1 L317.2,239.9 L318.3,238.7 L319.3,237.5 L320.4,236.3 L321.5,235.1 L322.6,233.9 L323.6,232.7 L324.7,231.5 L325.8,230.2 L326.8,229.0 L327.9,227.7 L329.0,226.5 L330.1,225.2 L331.1,223.9 L332.2,222.7 L333.3,221.4 L334.4,220.1 L335.4,218.9 L336.5,217.6 L337.6,216.3 L338.6,215.0 L339.7,213.7 L340.8,212.5 L341.9,211.2 L342.9,209.9 L344.0,208.6 L345.1,207.3 L346.1,206.0 L347.2,204.7 L348.3,203.4 L349.4,202.1 L350.4,200.8 L351.5,199.4 L352.6,198.1 L353.6,196.8 L354.7,195.4 L355.8,194.1 L356.9,192.8 L357.9,191.4 L359.0,190.1 L360.1,188.7 L361.1,187.3 L362.2,186.0 L363.3,184.6 L364.4,183.2 L365.4,181.8 L366.5,180.4 L367.6,179.1 L368.6,177.7 L369.7,176.3 L370.8,174.9 L371.9,173.5 L372.9,172.1 L374.0,170.7 L375.1,169.3 L376.1,167.9 L377.2,166.5 L378.3,165.1 L379.4,163.7 L380.4,162.3 L381.5,160.9 L382.6,159.5 L383.6,158.1 L384.7,156.7 L385.8,155.3 L386.9,153.9 L387.9,152.5 L389.0,151.1 L390.1,149.7 L391.2,148.4 L392.2,147.0 L393.3,145.6 L394.4,144.2 L395.4,142.9 L396.5,141.5 L397.6,140.1 L398.7,138.7 L399.7,137.4 L400.8,136.0 L401.9,134.6 L402.9,133.3 L404.0,131.9 L405.1,130.6 L406.2,129.2 L407.2,127.8 L408.3,126.5 L409.4,125.1 L410.4,123.8 L411.5,122.4 L412.6,121.1 L413.7,119.7 L414.7,118.4 L415.8,117.0 L416.9,115.7 L417.9,114.3 L419.0,113.0 L420.1,111.7 L421.2,110.3 L422.2,109.0 L423.3,107.7 L424.4,106.3 L425.4,105.0 L426.5,103.7 L427.6,102.4 L428.7,101.1 L429.7,99.8 L430.8,98.5 L431.9,97.2 L432.9,95.9 L434.0,94.6 L435.1,93.3 L436.2,92.0 L437.2,90.8 L438.3,89.5 L439.4,88.2 L440.5,87.0 L441.5,85.7 L442.6,84.5 L443.7,83.2 L444.7,82.0 L445.8,80.7 L446.9,79.5 L448.0,78.3 L449.0,77.0 L450.1,75.8 L451.2,74.6 L452.2,73.4 L453.3,72.2 L454.4,71.0 L455.5,69.8 L456.5,68.5 L457.6,67.3 L458.7,66.1 L459.7,64.9 L460.8,63.7 L461.9,62.5 L463.0,61.3 L464.0,60.1 L465.1,58.9 L466.2,57.7 L467.2,56.5 L468.3,55.2 L469.4,54.0 L470.5,52.8"/><path d="M191.8,302.0 L192.9,302.0 L194.0,301.9 L195.0,301.9 L196.1,301.8 L197.2,301.8 L198.2,301.7 L199.3,301.7 L200.4,301.6 L201.5,301.5 L202.5,301.5 L203.6,301.4 L204.7,301.3 L205.7,301.2 L206.8,301.1 L207.9,301.0 L209.0,300.9 L210.0,300.8 L211.1,300.7 L212.2,300.6 L213.2,300.5 L214.3,300.3 L215.4,300.2 L216.5,300.1 L217.5,299.9 L218.6,299.8 L219.7,299.6 L220.7,299.4 L221.8,299.3 L222.9,299.1 L224.0,298.9 L225.0,298.7 L226.1,298.5 L227.2,298.3 L228.3,298.1 L229.3,297.9 L230.4,297.7 L231.5,297.5 L232.5,297.2 L233.6,297.0 L234.7,296.8 L235.8,296.5 L236.8,296.2 L237.9,296.0 L239.0,295.7 L240.0,295.4 L241.1,295.1 L242.2,294.8 L243.3,294.5 L244.3,294.2 L245.4,293.8 L246.5,293.5 L247.5,293.1 L248.6,292.7 L249.7,292.3 L250.8,291.9 L251.8,291.5 L252.9,291.1 L254.0,290.6 L255.0,290.2 L256.1,289.7 L257.2,289.2 L258.3,288.7 L259.3,288.2 L260.4,287.7 L261.5,287.1 L262.5,286.6 L263.6,286.0 L264.7,285.5 L265.8,284.9 L266.8,284.3 L267.9,283.6 L269.0,283.0 L270.0,282.4 L271.1,281.7 L272.2,281.1 L273.3,280.4 L274.3,279.7 L275.4,279.0 L276.5,278.2 L277.6,277.5 L278.6,276.7 L279.7,276.0 L280.8,275.2 L281.8,274.4 L282.9,273.6 L284.0,272.7 L285.1,271.9 L286.1,271.0 L287.2,270.2 L288.3,269.3 L289.3,268.4 L290.4,267.5 L291.5,266.5 L292.6,265.6 L293.6,264.7 L294.7,263.7 L295.8,262.7 L296.8,261.8 L297.9,260.8 L299.0,259.8 L300.1,258.7 L301.1,257.7 L302.2,256.7 L303.3,255.7 L304.3,254.6 L305.4,253.5 L306.5,252.5 L307.6,251.4 L308.6,250.3 L309.7,249.2 L310.8,248.1 L311.8,247.0 L312.9,245.8 L314.0,244.7 L315.1,243.6 L316.1,242.4 L317.2,241.2 L318.3,240.1 L319.3,238.9 L320.4,237.7 L321.5,236.5 L322.6,235.3 L323.6,234.1 L324.7,232.8 L325.8,231.6 L326.8,230.4 L327.9,229.1 L329.0,227.9 L330.1,226.6 L331.1,225.4 L332.2,224.1 L333.3,222.8 L334.4,221.6 L335.4,220.3 L336.5,219.0 L337.6,217.8 L338.6,216.5 L339.7,215.2 L340.8,213.9 L341.9,212.6 L342.9,211.3 L344.0,210.0 L345.1,208.7 L346.1,207.4 L347.2,206.1 L348.3,204.8 L349.4,203.5 L350.4,202.2 L351.5,200.9 L352.6,199.6 L353.6,198.3 L354.7,196.9 L355.8,195.6 L356.9,194.3 L357.9,192.9 L359.0,191.6 L360.1,190.2 L361.1,188.9 L362.2,187.5 L363.3,186.1 L364.4,184.8 L365.4,183.4 L366.5,182.0 L367.6,180.6 L368.6,179.2 L369.7,177.8 L370.8,176.4 L371.9,175.1 L372.9,173.7 L374.0,172.3 L375.1,170.9 L376.1,169.5 L377.2,168.1 L378.3,166.7 L379.4,165.3 L380.4,163.9 L381.5,162.5 L382.6,161.1 L383.6,159.7 L384.7,158.3 L385.8,156.9 L386.9,155.5 L387.9,154.1 L389.0,152.7 L390.1,151.3 L391.2,149.9 L392.2,148.5 L393.3,147.2 L394.4,145.8 L395.4,144.4 L396.5,143.0 L397.6,141.7 L398.7,140.3 L399.7,138.9 L400.8,137.5 L401.9,136.2 L402.9,134.8 L404.0,133.4 L405.1,132.1 L406.2,130.7 L407.2,129.4 L408.3,128.0 L409.4,126.6 L410.4,125.3 L411.5,123.9 L412.6,122.6 L413.7,121.2 L414.7,119.9 L415.8,118.5 L416.9,117.2 L417.9,115.8 L419.0,114.5 L420.1,113.2 L421.2,111.8 L422.2,110.5 L423.3,109.2 L424.4,107.8 L425.4,106.5 L426.5,105.2 L427.6,103.9 L428.7,102.6 L429.7,101.3 L430.8,99.9 L431.9,98.6 L432.9,97.3 L434.0,96.1 L435.1,94.8 L436.2,93.5 L437.2,92.2 L438.3,90.9 L439.4,89.7 L440.5,88.4 L441.5,87.1 L442.6,85.9 L443.7,84.6 L444.7,83.4 L445.8,82.1 L446.9,80.9 L448.0,79.7 L449.0,78.4 L450.1,77.2 L451.2,76.0 L452.2,74.8 L453.3,73.5 L454.4,72.3 L455.5,71.1 L456.5,69.9 L457.6,68.7 L458.7,67.5 L459.7,66.3 L460.8,65.1 L461.9,63.9 L463.0,62.7 L464.0,61.4 L465.1,60.2 L466.2,59.0 L467.2,57.8 L468.3,56.6 L469.4,55.4 L470.5,54.2"/><path d="M191.8,302.1 L192.9,302.0 L194.0,302.0 L195.0,301.9 L196.1,301.9 L197.2,301.8 L198.2,301.8 L199.3,301.7 L200.4,301.7 L201.5,301.6 L202.5,301.6 L203.6,301.5 L204.7,301.4 L205.7,301.3 L206.8,301.2 L207.9,301.2 L209.0,301.1 L210.0,301.0 L211.1,300.9 L212.2,300.7 L213.2,300.6 L214.3,300.5 L215.4,300.4 L216.5,300.2 L217.5,300.1 L218.6,299.9 L219.7,299.8 L220.7,299.6 L221.8,299.5 L222.9,299.3 L224.0,299.1 L225.0,298.9 L226.1,298.7 L227.2,298.6 L228.3,298.4 L229.3,298.1 L230.4,297.9 L231.5,297.7 L232.5,297.5 L233.6,297.3 L234.7,297.0 L235.8,296.8 L236.8,296.5 L237.9,296.3 L239.0,296.0 L240.0,295.7 L241.1,295.5 L242.2,295.2 L243.3,294.8 L244.3,294.5 L245.4,294.2 L246.5,293.9 L247.5,293.5 L248.6,293.1 L249.7,292.8 L250.8,292.4 L251.8,292.0 L252.9,291.6 L254.0,291.1 L255.0,290.7 L256.1,290.2 L257.2,289.8 L258.3,289.3 L259.3,288.8 L260.4,288.3 L261.5,287.8 L262.5,287.2 L263.6,286.7 L264.7,286.1 L265.8,285.5 L266.8,285.0 L267.9,284.4 L269.0,283.7 L270.0,283.1 L271.1,282.5 L272.2,281.8 L273.3,281.1 L274.3,280.5 L275.4,279.8 L276.5,279.1 L277.6,278.3 L278.6,277.6 L279.7,276.8 L280.8,276.1 L281.8,275.3 L282.9,274.5 L284.0,273.7 L285.1,272.8 L286.1,272.0 L287.2,271.1 L288.3,270.3 L289.3,269.4 L290.4,268.5 L291.5,267.6 L292.6,266.7 L293.6,265.7 L294.7,264.8 L295.8,263.8 L296.8,262.9 L297.9,261.9 L299.0,260.9 L300.1,259.9 L301.1,258.9 L302.2,257.9 L303.3,256.8 L304.3,255.8 L305.4,254.7 L306.5,253.7 L307.6,252.6 L308.6,251.5 L309.7,250.4 L310.8,249.3 L311.8,248.2 L312.9,247.1 L314.0,246.0 L315.1,244.9 L316.1,243.7 L317.2,242.6 L318.3,241.4 L319.3,240.2 L320.4,239.0 L321.5,237.8 L322.6,236.6 L323.6,235.4 L324.7,234.2 L325.8,233.0 L326.8,231.8 L327.9,230.5 L329.0,229.3 L330.1,228.0 L331.1,226.8 L332.2,225.5 L333.3,224.3 L334.4,223.0 L335.4,221.7 L336.5,220.5 L337.6,219.2 L338.6,217.9 L339.7,216.6 L340.8,215.4 L341.9,214.1 L342.9,212.8 L344.0,211.5 L345.1,210.2 L346.1,208.9 L347.2,207.6 L348.3,206.3 L349.4,205.0 L350.4,203.7 L351.5,202.4 L352.6,201.1 L353.6,199.8 L354.7,198.4 L355.8,197.1 L356.9,195.8 L357.9,194.4 L359.0,193.1 L360.1,191.8 L361.1,190.4 L362.2,189.0 L363.3,187.7 L364.4,186.3 L365.4,184.9 L366.5,183.6 L367.6,182.2 L368.6,180.8 L369.7,179.4 L370.8,178.0 L371.9,176.6 L372.9,175.2 L374.0,173.8 L375.1,172.4 L376.1,171.0 L377.2,169.6 L378.3,168.2 L379.4,166.8 L380.4,165.4 L381.5,164.0 L382.6,162.6 L383.6,161.2 L384.7,159.8 L385.8,158.4 L386.9,157.0 L387.9,155.6 L389.0,154.3 L390.1,152.9 L391.2,151.5 L392.2,150.1 L393.3,148.7 L394.4,147.3 L395.4,145.9 L396.5,144.6 L397.6,143.2 L398.7,141.8 L399.7,140.4 L400.8,139.1 L401.9,137.7 L402.9,136.3 L404.0,135.0 L405.1,133.6 L406.2,132.3 L407.2,130.9 L408.3,129.5 L409.4,128.2 L410.4,126.8 L411.5,125.5 L412.6,124.1 L413.7,122.8 L414.7,121.4 L415.8,120.1 L416.9,118.7 L417.9,117.4 L419.0,116.0 L420.1,114.7 L421.2,113.3 L422.2,112.0 L423.3,110.7 L424.4,109.3 L425.4,108.0 L426.5,106.7 L427.6,105.4 L428.7,104.0 L429.7,102.7 L430.8,101.4 L431.9,100.1 L432.9,98.8 L434.0,97.5 L435.1,96.2 L436.2,94.9 L437.2,93.6 L438.3,92.4 L439.4,91.1 L440.5,89.8 L441.5,88.5 L442.6,87.3 L443.7,86.0 L444.7,84.8 L445.8,83.5 L446.9,82.3 L448.0,81.0 L449.0,79.8 L450.1,78.6 L451.2,77.4 L452.2,76.1 L453.3,74.9 L454.4,73.7 L455.5,72.5 L456.5,71.3 L457.6,70.1 L458.7,68.8 L459.7,67.6 L460.8,66.4 L461.9,65.2 L463.0,64.0 L464.0,62.8 L465.1,61.6 L466.2,60.4 L467.2,59.2 L468.3,58.0 L469.4,56.8 L470.5,55.5"/><path d="M191.8,302.1 L192.9,302.1 L194.0,302.0 L195.0,302.0 L196.1,302.0 L197.2,301.9 L198.2,301.9 L199.3,301.8 L200.4,301.8 L201.5,301.7 L202.5,301.6 L203.6,301.6 L204.7,301.5 L205.7,301.4 L206.8,301.4 L207.9,301.3 L209.0,301.2 L210.0,301.1 L211.1,301.0 L212.2,300.9 L213.2,300.8 L214.3,300.7 L215.4,300.5 L216.5,300.4 L217.5,300.3 L218.6,300.1 L219.7,300.0 L220.7,299.8 L221.8,299.7 L222.9,299.5 L224.0,299.3 L225.0,299.1 L226.1,299.0 L227.2,298.8 L228.3,298.6 L229.3,298.4 L230.4,298.2 L231.5,298.0 L232.5,297.8 L233.6,297.5 L234.7,297.3 L235.8,297.1 L236.8,296.8 L237.9,296.6 L239.0,296.3 L240.0,296.1 L241.1,295.8 L242.2,295.5 L243.3,295.2 L244.3,294.9 L245.4,294.6 L246.5,294.3 L247.5,293.9 L248.6,293.6 L249.7,293.2 L250.8,292.8 L251.8,292.5 L252.9,292.1 L254.0,291.6 L255.0,291.2 L256.1,290.8 L257.2,290.3 L258.3,289.9 L259.3,289.4 L260.4,288.9 L261.5,288.4 L262.5,287.9 L263.6,287.3 L264.7,286.8 L265.8,286.2 L266.8,285.6 L267.9,285.1 L269.0,284.5 L270.0,283.8 L271.1,283.2 L272.2,282.6 L273.3,281.9 L274.3,281.3 L275.4,280.6 L276.5,279.9 L277.6,279.2 L278.6,278.5 L279.7,277.7 L280.8,277.0 L281.8,276.2 L282.9,275.4 L284.0,274.6 L285.1,273.8 L286.1,273.0 L287.2,272.1 L288.3,271.3 L289.3,270.4 L290.4,269.5 L291.5,268.6 L292.6,267.7 L293.6,266.8 L294.7,265.9 L295.8,264.9 L296.8,264.0 L297.9,263.0 L299.0,262.0 L300.1,261.0 L301.1,260.0 L302.2,259.0 L303.3,258.0 L304.3,257.0 L305.4,255.9 L306.5,254.9 L307.6,253.8 L308.6,252.8 L309.7,251.7 L310.8,250.6 L311.8,249.5 L312.9,248.4 L314.0,247.3 L315.1,246.2 L316.1,245.0 L317.2,243.9 L318.3,242.7 L319.3,241.6 L320.4,240.4 L321.5,239.2 L322.6,238.0 L323.6,236.8 L324.7,235.6 L325.8,234.4 L326.8,233.2 L327.9,231.9 L329.0,230.7 L330.1,229.5 L331.1,228.2 L332.2,226.9 L333.3,225.7 L334.4,224.4 L335.4,223.2 L336.5,221.9 L337.6,220.6 L338.6,219.4 L339.7,218.1 L340.8,216.8 L341.9,215.5 L342.9,214.2 L344.0,212.9 L345.1,211.7 L346.1,210.4 L347.2,209.1 L348.3,207.8 L349.4,206.5 L350.4,205.2 L351.5,203.9 L352.6,202.6 L353.6,201.3 L354.7,199.9 L355.8,198.6 L356.9,197.3 L357.9,196.0 L359.0,194.6 L360.1,193.3 L361.1,191.9 L362.2,190.6 L363.3,189.2 L364.4,187.9 L365.4,186.5 L366.5,185.1 L367.6,183.7 L368.6,182.4 L369.7,181.0 L370.8,179.6 L371.9,178.2 L372.9,176.8 L374.0,175.4 L375.1,174.0 L376.1,172.6 L377.2,171.2 L378.3,169.8 L379.4,168.4 L380.4,167.0 L381.5,165.6 L382.6,164.2 L383.6,162.8 L384.7,161.4 L385.8,160.0 L386.9,158.6 L387.9,157.2 L389.0,155.8 L390.1,154.4 L391.2,153.0 L392.2,151.6 L393.3,150.3 L394.4,148.9 L395.4,147.5 L396.5,146.1 L397.6,144.7 L398.7,143.4 L399.7,142.0 L400.8,140.6 L401.9,139.2 L402.9,137.9 L404.0,136.5 L405.1,135.1 L406.2,133.8 L407.2,132.4 L408.3,131.1 L409.4,129.7 L410.4,128.3 L411.5,127.0 L412.6,125.6 L413.7,124.3 L414.7,122.9 L415.8,121.6 L416.9,120.2 L417.9,118.9 L419.0,117.5 L420.1,116.2 L421.2,114.8 L422.2,113.5 L423.3,112.2 L424.4,110.8 L425.4,109.5 L426.5,108.2 L427.6,106.8 L428.7,105.5 L429.7,104.2 L430.8,102.9 L431.9,101.6 L432.9,100.3 L434.0,99.0 L435.1,97.7 L436.2,96.4 L437.2,95.1 L438.3,93.8 L439.4,92.5 L440.5,91.2 L441.5,90.0 L442.6,88.7 L443.7,87.4 L444.7,86.2 L445.8,84.9 L446.9,83.7 L448.0,82.4 L449.0,81.2 L450.1,80.0 L451.2,78.7 L452.2,77.5 L453.3,76.3 L454.4,75.1 L455.5,73.8 L456.5,72.6 L457.6,71.4 L458.7,70.2 L459.7,69.0 L460.8,67.8 L461.9,66.6 L463.0,65.4 L464.0,64.2 L465.1,63.0 L466.2,61.8 L467.2,60.5 L468.3,59.3 L469.4,58.1 L470.5,56.9"/><path d="M191.8,302.1 L192.9,302.1 L194.0,302.1 L195.0,302.1 L196.1,302.0 L197.2,302.0 L198.2,301.9 L199.3,301.9 L200.4,301.8 L201.5,301.8 L202.5,301.7 L203.6,301.7 L204.7,301.6 L205.7,301.5 L206.8,301.5 L207.9,301.4 L209.0,301.3 L210.0,301.2 L211.1,301.1 L212.2,301.0 L213.2,300.9 L214.3,300.8 L215.4,300.7 L216.5,300.6 L217.5,300.4 L218.6,300.3 L219.7,300.2 L220.7,300.0 L221.8,299.9 L222.9,299.7 L224.0,299.5 L225.0,299.4 L226.1,299.2 L227.2,299.0 L228.3,298.8 L229.3,298.6 L230.4,298.4 L231.5,298.2 L232.5,298.0 L233.6,297.8 L234.7,297.6 L235.8,297.4 L236.8,297.1 L237.9,296.9 L239.0,296.7 L240.0,296.4 L241.1,296.1 L242.2,295.9 L243.3,295.6 L244.3,295.3 L245.4,295.0 L246.5,294.7 L247.5,294.4 L248.6,294.0 L249.7,293.7 L250.8,293.3 L251.8,292.9 L252.9,292.6 L254.0,292.2 L255.0,291.7 L256.1,291.3 L257.2,290.9 L258.3,290.4 L259.3,290.0 L260.4,289.5 L261.5,289.0 L262.5,288.5 L263.6,288.0 L264.7,287.4 L265.8,286.9 L266.8,286.3 L267.9,285.8 L269.0,285.2 L270.0,284.6 L271.1,284.0 L272.2,283.3 L273.3,282.7 L274.3,282.1 L275.4,281.4 L276.5,280.7 L277.6,280.0 L278.6,279.3 L279.7,278.6 L280.8,277.9 L281.8,277.1 L282.9,276.3 L284.0,275.6 L285.1,274.8 L286.1,274.0 L287.2,273.1 L288.3,272.3 L289.3,271.4 L290.4,270.6 L291.5,269.7 L292.6,268.8 L293.6,267.9 L294.7,267.0 L295.8,266.0 L296.8,265.1 L297.9,264.1 L299.0,263.2 L300.1,262.2 L301.1,261.2 L302.2,260.2 L303.3,259.2 L304.3,258.2 L305.4,257.1 L306.5,256.1 L307.6,255.1 L308.6,254.0 L309.7,252.9 L310.8,251.9 L311.8,250.8 L312.9,249.7 L314.0,248.6 L315.1,247.5 L316.1,246.3 L317.2,245.2 L318.3,244.1 L319.3,242.9 L320.4,241.7 L321.5,240.6 L322.6,239.4 L323.6,238.2 L324.7,237.0 L325.8,235.8 L326.8,234.6 L327.9,233.3 L329.0,232.1 L330.1,230.9 L331.1,229.6 L332.2,228.4 L333.3,227.1 L334.4,225.9 L335.4,224.6 L336.5,223.3 L337.6,222.1 L338.6,220.8 L339.7,219.5 L340.8,218.2 L341.9,217.0 L342.9,215.7 L344.0,214.4 L345.1,213.1 L346.1,211.8 L347.2,210.5 L348.3,209.3 L349.4,208.0 L350.4,206.7 L351.5,205.4 L352.6,204.1 L353.6,202.8 L354.7,201.4 L355.8,200.1 L356.9,198.8 L357.9,197.5 L359.0,196.2 L360.1,194.8 L361.1,193.5 L362.2,192.1 L363.3,190.8 L364.4,189.4 L365.4,188.0 L366.5,186.7 L367.6,185.3 L368.6,183.9 L369.7,182.5 L370.8,181.2 L371.9,179.8 L372.9,178.4 L374.0,177.0 L375.1,175.6 L376.1,174.2 L377.2,172.8 L378.3,171.4 L379.4,170.0 L380.4,168.6 L381.5,167.2 L382.6,165.8 L383.6,164.4 L384.7,163.0 L385.8,161.6 L386.9,160.2 L387.9,158.8 L389.0,157.4 L390.1,156.0 L391.2,154.6 L392.2,153.2 L393.3,151.8 L394.4,150.4 L395.4,149.0 L396.5,147.7 L397.6,146.3 L398.7,144.9 L399.7,143.5 L400.8,142.2 L401.9,140.8 L402.9,139.4 L404.0,138.0 L405.1,136.7 L406.2,135.3 L407.2,133.9 L408.3,132.6 L409.4,131.2 L410.4,129.9 L411.5,128.5 L412.6,127.1 L413.7,125.8 L414.7,124.4 L415.8,123.1 L416.9,121.7 L417.9,120.4 L419.0,119.0 L420.1,117.7 L421.2,116.3 L422.2,115.0 L423.3,113.6 L424.4,112.3 L425.4,111.0 L426.5,109.6 L427.6,108.3 L428.7,107.0 L429.7,105.7 L430.8,104.3 L431.9,103.0 L432.9,101.7 L434.0,100.4 L435.1,99.1 L436.2,97.8 L437.2,96.5 L438.3,95.2 L439.4,93.9 L440.5,92.7 L441.5,91.4 L442.6,90.1 L443.7,88.8 L444.7,87.6 L445.8,86.3 L446.9,85.1 L448.0,83.8 L449.0,82.6 L450.1,81.3 L451.2,80.1 L452.2,78.9 L453.3,77.6 L454.4,76.4 L455.5,75.2 L456.5,74.0 L457.6,72.8 L458.7,71.6 L459.7,70.4 L460.8,69.1 L461.9,67.9 L463.0,66.7 L464.0,65.5 L465.1,64.3 L466.2,63.1 L467.2,61.9 L468.3,60.7 L469.4,59.5 L470.5,58.3"/><path d="M191.8,302.1 L192.9,302.1 L194.0,302.1 L195.0,302.1 L196.1,302.1 L197.2,302.0 L198.2,302.0 L199.3,302.0 L200.4,301.9 L201.5,301.9 L202.5,301.8 L203.6,301.7 L204.7,301.7 L205.7,301.6 L206.8,301.6 L207.9,301.5 L209.0,301.4 L210.0,301.3 L211.1,301.3 L212.2,301.2 L213.2,301.1 L214.3,301.0 L215.4,300.8 L216.5,300.7 L217.5,300.6 L218.6,300.5 L219.7,300.3 L220.7,300.2 L221.8,300.1 L222.9,299.9 L224.0,299.7 L225.0,299.6 L226.1,299.4 L227.2,299.2 L228.3,299.1 L229.3,298.9 L230.4,298.7 L231.5,298.5 L232.5,298.3 L233.6,298.1 L234.7,297.9 L235.8,297.7 L236.8,297.4 L237.9,297.2 L239.0,297.0 L240.0,296.7 L241.1,296.5 L242.2,296.2 L243.3,296.0 L244.3,295.7 L245.4,295.4 L246.5,295.1 L247.5,294.8 L248.6,294.5 L249.7,294.1 L250.8,293.8 L251.8,293.4 L252.9,293.0 L254.0,292.7 L255.0,292.3 L256.1,291.9 L257.2,291.4 L258.3,291.0 L259.3,290.5 L260.4,290.1 L261.5,289.6 L262.5,289.1 L263.6,288.6 L264.7,288.1 L265.8,287.6 L266.8,287.0 L267.9,286.5 L269.0,285.9 L270.0,285.3 L271.1,284.7 L272.2,284.1 L273.3,283.5 L274.3,282.9 L275.4,282.2 L276.5,281.5 L277.6,280.9 L278.6,280.2 L279.7,279.5 L280.8,278.8 L281.8,278.0 L282.9,277.3 L284.0,276.5 L285.1,275.7 L286.1,274.9 L287.2,274.1 L288.3,273.3 L289.3,272.5 L290.4,271.6 L291.5,270.7 L292.6,269.9 L293.6,269.0 L294.7,268.1 L295.8,267.1 L296.8,266.2 L297.9,265.3 L299.0,264.3 L300.1,263.3 L301.1,262.4 L302.2,261.4 L303.3,260.4 L304.3,259.4 L305.4,258.3 L306.5,257.3 L307.6,256.3 L308.6,255.2 L309.7,254.2 L310.8,253.1 L311.8,252.0 L312.9,251.0 L314.0,249.9 L315.1,248.8 L316.1,247.6 L317.2,246.5 L318.3,245.4 L319.3,244.2 L320.4,243.1 L321.5,241.9 L322.6,240.7 L323.6,239.6 L324.7,238.4 L325.8,237.2 L326.8,236.0 L327.9,234.7 L329.0,233.5 L330.1,232.3 L331.1,231.0 L332.2,229.8 L333.3,228.5 L334.4,227.3 L335.4,226.0 L336.5,224.8 L337.6,223.5 L338.6,222.2 L339.7,221.0 L340.8,219.7 L341.9,218.4 L342.9,217.1 L344.0,215.9 L345.1,214.6 L346.1,213.3 L347.2,212.0 L348.3,210.7 L349.4,209.4 L350.4,208.1 L351.5,206.8 L352.6,205.5 L353.6,204.2 L354.7,202.9 L355.8,201.6 L356.9,200.3 L357.9,199.0 L359.0,197.7 L360.1,196.3 L361.1,195.0 L362.2,193.7 L363.3,192.3 L364.4,191.0 L365.4,189.6 L366.5,188.2 L367.6,186.9 L368.6,185.5 L369.7,184.1 L370.8,182.7 L371.9,181.3 L372.9,179.9 L374.0,178.6 L375.1,177.2 L376.1,175.8 L377.2,174.4 L378.3,173.0 L379.4,171.6 L380.4,170.1 L381.5,168.7 L382.6,167.3 L383.6,165.9 L384.7,164.5 L385.8,163.1 L386.9,161.7 L387.9,160.3 L389.0,158.9 L390.1,157.5 L391.2,156.1 L392.2,154.8 L393.3,153.4 L394.4,152.0 L395.4,150.6 L396.5,149.2 L397.6,147.8 L398.7,146.4 L399.7,145.1 L400.8,143.7 L401.9,142.3 L402.9,140.9 L404.0,139.6 L405.1,138.2 L406.2,136.8 L407.2,135.5 L408.3,134.1 L409.4,132.8 L410.4,131.4 L411.5,130.0 L412.6,128.7 L413.7,127.3 L414.7,126.0 L415.8,124.6 L416.9,123.2 L417.9,121.9 L419.0,120.5 L420.1,119.2 L421.2,117.8 L422.2,116.5 L423.3,115.1 L424.4,113.8 L425.4,112.5 L426.5,111.1 L427.6,109.8 L428.7,108.5 L429.7,107.1 L430.8,105.8 L431.9,104.5 L432.9,103.2 L434.0,101.9 L435.1,100.6 L436.2,99.2 L437.2,97.9 L438.3,96.7 L439.4,95.4 L440.5,94.1 L441.5,92.8 L442.6,91.5 L443.7,90.2 L444.7,89.0 L445.8,87.7 L446.9,86.5 L448.0,85.2 L449.0,84.0 L450.1,82.7 L451.2,81.5 L452.2,80.2 L453.3,79.0 L454.4,77.8 L455.5,76.6 L456.5,75.3 L457.6,74.1 L458.7,72.9 L459.7,71.7 L460.8,70.5 L461.9,69.3 L463.0,68.1 L464.0,66.9 L465.1,65.7 L466.2,64.5 L467.2,63.3 L468.3,62.1 L469.4,60.9 L470.5,59.6"/></g>
<g stroke="#333" stroke-width="0.9"><path d="M191.8,302.0 L192.9,302.0 L194.0,301.9 L195.0,301.9 L196.1,301.8 L197.2,301.8 L198.2,301.7 L199.3,301.7 L200.4,301.6 L201.5,301.5 L202.5,301.5 L203.6,301.4 L204.7,301.3 L205.7,301.2 L206.8,301.1 L207.9,301.0 L209.0,300.9 L210.0,300.8 L211.1,300.7 L212.2,300.6 L213.2,300.4 L214.3,300.3 L215.4,300.2 L216.5,300.0 L217.5,299.9 L218.6,299.7 L219.7,299.6 L220.7,299.4 L221.8,299.2 L222.9,299.0 L224.0,298.9 L225.0,298.7 L226.1,298.5 L227.2,298.3 L228.3,298.1 L229.3,297.9 L230.4,297.6 L231.5,297.4 L232.5,297.2 L233.6,296.9 L234.7,296.7 L235.8,296.4 L236.8,296.2 L237.9,295.9 L239.0,295.6 L240.0,295.3 L241.1,295.0 L242.2,294.7 L243.3,294.4 L244.3,294.1 L245.4,293.7 L246.5,293.4 L247.5,293.0 L248.6,292.6 L249.7,292.2 L250.8,291.8 L251.8,291.4 L252.9,291.0 L254.0,290.5 L255.0,290.0 L256.1,289.6 L257.2,289.1 L258.3,288.6 L259.3,288.1 L260.4,287.5 L261.5,287.0 L262.5,286.5 L263.6,285.9 L264.7,285.3 L265.8,284.7 L266.8,284.1 L267.9,283.5 L269.0,282.9 L270.0,282.2 L271.1,281.6 L272.2,280.9 L273.3,280.2 L274.3,279.5 L275.4,278.8 L276.5,278.0 L277.6,277.3 L278.6,276.5 L279.7,275.8 L280.8,275.0 L281.8,274.2 L282.9,273.3 L284.0,272.5 L285.1,271.7 L286.1,270.8 L287.2,269.9 L288.3,269.0 L289.3,268.1 L290.4,267.2 L291.5,266.3 L292.6,265.4 L293.6,264.4 L294.7,263.5 L295.8,262.5 L296.8,261.5 L297.9,260.5 L299.0,259.5 L300.1,258.5 L301.1,257.5 L302.2,256.4 L303.3,255.4 L304.3,254.3 L305.4,253.3 L306.5,252.2 L307.6,251.1 L308.6,250.0 L309.7,248.9 L310.8,247.8 L311.8,246.7 L312.9,245.6 L314.0,244.4 L315.1,243.3 L316.1,242.1 L317.2,240.9 L318.3,239.8 L319.3,238.7 L320.4,237.5 L321.5,236.4 L322.6,235.2 L323.6,234.0 L324.7,232.9 L325.8,231.7 L326.8,230.5 L327.9,229.3 L329.0,228.1 L330.1,226.9 L331.1,225.7 L332.2,224.5 L333.3,223.3 L334.4,222.1 L335.4,220.9 L336.5,219.6 L337.6,218.4 L338.6,217.2 L339.7,216.0 L340.8,214.7 L341.9,213.5 L342.9,212.3 L344.0,211.0 L345.1,209.8 L346.1,208.6 L347.2,207.3 L348.3,206.1 L349.4,204.8 L350.4,203.6 L351.5,202.3 L352.6,201.1 L353.6,199.8 L354.7,198.5 L355.8,197.3 L356.9,196.0 L357.9,194.7 L359.0,193.4 L360.1,192.1 L361.1,190.8 L362.2,189.5 L363.3,188.2 L364.4,186.9 L365.4,185.6 L366.5,184.3 L367.6,183.0 L368.6,181.6 L369.7,180.3 L370.8,179.0 L371.9,177.7 L372.9,176.3 L374.0,175.0 L375.1,173.6 L376.1,172.3 L377.2,171.0 L378.3,169.6 L379.4,168.3 L380.4,166.9 L381.5,165.6 L382.6,164.2 L383.6,162.9 L384.7,161.6 L385.8,160.2 L386.9,158.9 L387.9,157.5 L389.0,156.2 L390.1,154.9 L391.2,153.5 L392.2,152.2 L393.3,150.9 L394.4,149.6 L395.4,148.2 L396.5,146.9 L397.6,145.6 L398.7,144.3 L399.7,142.9 L400.8,141.6 L401.9,140.3 L402.9,139.0 L404.0,137.7 L405.1,136.4 L406.2,135.1 L407.2,133.8 L408.3,132.5 L409.4,131.2 L410.4,129.9 L411.5,128.6 L412.6,127.3 L413.7,126.0 L414.7,124.7 L415.8,123.4 L416.9,122.1 L417.9,120.8 L419.0,119.5 L420.1,118.2 L421.2,116.9 L422.2,115.6 L423.3,114.3 L424.4,113.0 L425.4,111.7 L426.5,110.5 L427.6,109.2 L428.7,107.9 L429.7,106.6 L430.8,105.4 L431.9,104.1 L432.9,102.8 L434.0,101.6 L435.1,100.3 L436.2,99.1 L437.2,97.8 L438.3,96.6 L439.4,95.4 L440.5,94.1 L441.5,92.9 L442.6,91.7 L443.7,90.4 L444.7,89.2 L445.8,88.0 L446.9,86.8 L448.0,85.6 L449.0,84.4 L450.1,83.2 L451.2,82.0 L452.2,80.8 L453.3,79.7 L454.4,78.5 L455.5,77.3 L456.5,76.2 L457.6,75.0 L458.7,73.8 L459.7,72.7 L460.8,71.5 L461.9,70.4 L463.0,69.2 L464.0,68.0 L465.1,66.9 L466.2,65.7 L467.2,64.6 L468.3,63.4 L469.4,62.3 L470.5,61.1"/><path d="M191.8,302.0 L192.9,302.0 L194.0,301.9 L195.0,301.9 L196.1,301.8 L197.2,301.8 L198.2,301.7 L199.3,301.7 L200.4,301.6 L201.5,301.5 L202.5,301.5 L203.6,301.4 L204.7,301.3 L205.7,301.2 L206.8,301.1 L207.9,301.0 L209.0,300.9 L210.0,300.8 L211.1,300.7 L212.2,300.6 L213.2,300.4 L214.3,300.3 L215.4,300.2 L216.5,300.0 L217.5,299.9 L218.6,299.7 L219.7,299.6 L220.7,299.4 L221.8,299.2 L222.9,299.0 L224.0,298.9 L225.0,298.7 L226.1,298.5 L227.2,298.3 L228.3,298.1 L229.3,297.9 L230.4,297.6 L231.5,297.4 L232.5,297.2 L233.6,296.9 L234.7,296.7 L235.8,296.4 L236.8,296.2 L237.9,295.9 L239.0,295.6 L240.0,295.3 L241.1,295.0 L242.2,294.7 L243.3,294.4 L244.3,294.1 L245.4,293.7 L246.5,293.4 L247.5,293.0 L248.6,292.6 L249.7,292.2 L250.8,291.8 L251.8,291.4 L252.9,291.0 L254.0,290.5 L255.0,290.0 L256.1,289.6 L257.2,289.1 L258.3,288.6 L259.3,288.1 L260.4,287.5 L261.5,287.0 L262.5,286.5 L263.6,285.9 L264.7,285.3 L265.8,284.7 L266.8,284.1 L267.9,283.5 L269.0,282.9 L270.0,282.2 L271.1,281.6 L272.2,280.9 L273.3,280.2 L274.3,279.5 L275.4,278.8 L276.5,278.0 L277.6,277.3 L278.6,276.5 L279.7,275.8 L280.8,275.0 L281.8,274.2 L282.9,273.3 L284.0,272.5 L285.1,271.7 L286.1,270.8 L287.2,269.9 L288.3,269.0 L289.3,268.1 L290.4,267.2 L291.5,266.3 L292.6,265.4 L293.6,264.4 L294.7,263.5 L295.8,262.5 L296.8,261.5 L297.9,260.5 L299.0,259.5 L300.1,258.5 L301.1,257.5 L302.2,256.4 L303.3,255.4 L304.3,254.3 L305.4,253.3 L306.5,252.2 L307.6,251.1 L308.6,250.0 L309.7,248.9 L310.8,247.8 L311.8,246.7 L312.9,245.6 L314.0,244.4 L315.1,243.3 L316.1,242.1 L317.2,240.9 L318.3,239.8 L319.3,238.7 L320.4,237.5 L321.5,236.4 L322.6,235.2 L323.6,234.1 L324.7,232.9 L325.8,231.8 L326.8,230.6 L327.9,229.4 L329.0,228.2 L330.1,227.0 L331.1,225.8 L332.2,224.6 L333.3,223.4 L334.4,222.2 L335.4,221.0 L336.5,219.8 L337.6,218.6 L338.6,217.4 L339.7,216.2 L340.8,214.9 L341.9,213.7 L342.9,212.5 L344.0,211.3 L345.1,210.0 L346.1,208.8 L347.2,207.6 L348.3,206.3 L349.4,205.1 L350.4,203.9 L351.5,202.6 L352.6,201.4 L353.6,200.1 L354.7,198.9 L355.8,197.6 L356.9,196.3 L357.9,195.1 L359.0,193.8 L360.1,192.5 L361.1,191.2 L362.2,190.0 L363.3,188.7 L364.4,187.4 L365.4,186.1 L366.5,184.8 L367.6,183.4 L368.6,182.1 L369.7,180.8 L370.8,179.5 L371.9,178.2 L372.9,176.8 L374.0,175.5 L375.1,174.2 L376.1,172.9 L377.2,171.5 L378.3,170.2 L379.4,168.9 L380.4,167.5 L381.5,166.2 L382.6,164.9 L383.6,163.5 L384.7,162.2 L385.8,160.9 L386.9,159.5 L387.9,158.2 L389.0,156.9 L390.1,155.6 L391.2,154.2 L392.2,152.9 L393.3,151.6 L394.4,150.3 L395.4,149.0 L396.5,147.6 L397.6,146.3 L398.7,145.0 L399.7,143.7 L400.8,142.4 L401.9,141.1 L402.9,139.8 L404.0,138.5 L405.1,137.2 L406.2,135.9 L407.2,134.6 L408.3,133.3 L409.4,132.0 L410.4,130.7 L411.5,129.4 L412.6,128.1 L413.7,126.8 L414.7,125.5 L415.8,124.3 L416.9,123.0 L417.9,121.7 L419.0,120.4 L420.1,119.1 L421.2,117.8 L422.2,116.5 L423.3,115.3 L424.4,114.0 L425.4,112.7 L426.5,111.4 L427.6,110.2 L428.7,108.9 L429.7,107.6 L430.8,106.4 L431.9,105.1 L432.9,103.9 L434.0,102.6 L435.1,101.4 L436.2,100.1 L437.2,98.9 L438.3,97.6 L439.4,96.4 L440.5,95.2 L441.5,93.9 L442.6,92.7 L443.7,91.5 L444.7,90.3 L445.8,89.1 L446.9,87.9 L448.0,86.7 L449.0,85.5 L450.1,84.3 L451.2,83.1 L452.2,82.0 L453.3,80.8 L454.4,79.6 L455.5,78.5 L456.5,77.3 L457.6,76.1 L458.7,75.0 L459.7,73.8 L460.8,72.7 L461.9,71.5 L463.0,70.4 L464.0,69.2 L465.1,68.1 L466.2,67.0 L467.2,65.8 L468.3,64.7 L469.4,63.5 L470.5,62.4"/></g>
<g stroke="#000" stroke-width="1.8"><path d="M84.6,485.0 L85.7,482.9 L86.8,480.9 L87.9,478.9 L88.9,476.8 L90.0,474.8 L91.1,472.7 L92.1,470.7 L93.2,468.6 L94.3,466.6 L95.4,464.6 L96.4,462.5 L97.5,460.5 L98.6,458.4 L99.6,456.4 L100.7,454.3 L101.8,452.3 L102.9,450.3 L103.9,448.2 L105.0,446.2 L106.1,444.1 L107.1,442.1 L108.2,440.0 L109.3,438.0 L110.4,435.9 L111.4,433.9 L112.5,431.9 L113.6,429.8 L114.6,427.8 L115.7,425.7 L116.8,423.7 L117.9,421.6 L118.9,419.6 L120.0,417.6 L121.1,415.5 L122.2,413.5 L123.2,411.4 L124.3,409.4 L125.4,407.3 L126.4,405.3 L127.5,403.3 L128.6,401.2 L129.7,399.2 L130.7,397.1 L131.8,395.1 L132.9,393.0 L133.9,391.0 L135.0,389.0 L136.1,386.9 L137.2,384.9 L138.2,382.8 L139.3,380.8 L140.4,378.7 L141.4,376.7 L142.5,374.7 L143.6,372.6 L144.7,370.6 L145.7,368.6 L146.8,366.6 L147.9,364.6 L148.9,362.7 L150.0,360.7 L151.1,358.8 L152.2,356.8 L153.2,354.8 L154.3,352.8 L155.4,350.7 L156.4,348.7 L157.5,346.7 L158.6,344.6 L159.7,342.6 L160.7,340.5 L161.8,338.5 L162.9,336.4 L163.9,334.4 L165.0,332.4 L166.1,330.3 L167.2,328.3 L168.2,326.2 L169.3,324.2 L170.4,322.1 L171.5,320.1 L172.5,318.1 L173.6,316.0 L174.7,314.0 L175.7,311.9 L176.8,309.9 L177.9,307.8 L179.0,305.8 L180.0,303.7 L181.1,301.7 L182.2,299.6 L183.2,297.6 L184.3,295.5 L185.4,293.4 L186.5,291.3 L187.5,289.1 L188.6,287.0 L189.7,284.8 L190.7,282.6 L191.8,280.4 L192.9,278.2 L194.0,276.0 L195.0,273.9 L196.1,271.8 L197.2,269.7 L198.2,267.6 L199.3,265.5 L200.4,263.5 L201.5,261.4 L202.5,259.4 L203.6,257.3 L204.7,255.3 L205.7,253.3 L206.8,251.2 L207.9,249.2 L209.0,247.1 L210.0,245.1 L211.1,243.0 L212.2,241.0 L213.2,239.0 L214.3,236.9 L215.4,234.9 L216.5,232.8 L217.5,230.8 L218.6,228.8 L219.7,226.7 L220.7,224.7 L221.8,222.7 L222.9,220.7 L224.0,218.7 L225.0,216.7 L226.1,214.8 L227.2,213.0 L228.3,211.0 L229.3,209.0 L230.4,207.0 L231.5,205.0 L232.5,202.9 L233.6,200.9 L234.7,198.9 L235.8,196.8 L236.8,194.8 L237.9,192.8 L239.0,190.8 L240.0,188.8 L241.1,186.7 L242.2,184.7 L243.3,182.7 L244.3,180.7 L245.4,178.7 L246.5,176.7 L247.5,174.8 L248.6,172.8 L249.7,170.8 L250.8,168.9 L251.8,167.0 L252.9,165.0 L254.0,163.2 L255.0,161.3 L256.1,159.4 L257.2,157.6 L258.3,155.8 L259.3,153.9 L260.4,152.1 L261.5,150.3 L262.5,148.4 L263.6,146.6 L264.7,144.7 L265.8,142.9 L266.8,141.0 L267.9,139.2 L269.0,137.4 L270.0,135.6 L271.1,133.8 L272.2,132.0 L273.3,130.3 L274.3,128.5 L275.4,126.8 L276.5,125.1 L277.6,123.4 L278.6,121.8 L279.7,120.1 L280.8,118.5 L281.8,117.0 L282.9,115.4 L284.0,113.9 L285.1,112.5 L286.1,111.1 L287.2,109.7 L288.3,108.4 L289.3,107.1 L290.4,105.9 L291.5,104.7 L292.6,103.6 L293.6,102.5 L294.7,101.5 L295.8,100.5 L296.8,99.5 L297.9,98.6 L299.0,97.7 L300.1,96.9 L301.1,96.0 L302.2,95.2 L303.3,94.4 L304.3,93.6 L305.4,92.9 L306.5,92.1 L307.6,91.3 L308.6,90.6 L309.7,89.8 L310.8,89.1 L311.8,88.4 L312.9,87.6 L314.0,87.0 L315.1,86.3 L316.1,85.7 L317.2,85.0 L318.3,84.4 L319.3,83.9 L320.4,83.3 L321.5,82.8 L322.6,82.3 L323.6,81.8 L324.7,81.3 L325.8,80.8 L326.8,80.3 L327.9,79.9 L329.0,79.4 L330.1,78.9 L331.1,78.5 L332.2,78.0 L333.3,77.6 L334.4,77.2 L335.4,76.7 L336.5,76.3 L337.6,75.9 L338.6,75.5 L339.7,75.1 L340.8,74.7 L341.9,74.3 L342.9,73.9 L344.0,73.5 L345.1,73.2 L346.1,72.8 L347.2,72.5 L348.3,72.1 L349.4,71.8 L350.4,71.5 L351.5,71.2 L352.6,70.8 L353.6,70.5 L354.7,70.2 L355.8,69.9 L356.9,69.6 L357.9,69.3 L359.0,69.1 L360.1,68.8 L361.1,68.5 L362.2,68.2 L363.3,67.9 L364.4,67.6 L365.4,67.4 L366.5,67.1 L367.6,66.8 L368.6,66.5 L369.7,66.3 L370.8,66.0 L371.9,65.7 L372.9,65.5 L374.0,65.2 L375.1,64.9 L376.1,64.6 L377.2,64.4 L378.3,64.1 L379.4,63.9 L380.4,63.6 L381.5,63.4 L382.6,63.1 L383.6,62.9 L384.7,62.7 L385.8,62.4 L386.9,62.2 L387.9,62.0 L389.0,61.8 L390.1,61.6 L391.2,61.4 L392.2,61.2 L393.3,61.1 L394.4,60.9 L395.4,60.7 L396.5,60.5 L397.6,60.3 L398.7,60.1 L399.7,59.9 L400.8,59.8 L401.9,59.6 L402.9,59.4 L404.0,59.2 L405.1,59.0 L406.2,58.8 L407.2,58.6 L408.3,58.4 L409.4,58.3 L410.4,58.1 L411.5,57.9 L412.6,57.7 L413.7,57.6 L414.7,57.4 L415.8,57.2 L416.9,57.1 L417.9,56.9 L419.0,56.8 L420.1,56.7 L421.2,56.5 L422.2,56.4 L423.3,56.3 L424.4,56.2 L425.4,56.2 L426.5,56.1 L427.6,56.0 L428.7,55.9 L429.7,55.9 L430.8,55.8 L431.9,55.7 L432.9,55.6 L434.0,55.5 L435.1,55.3 L436.2,55.2 L437.2,55.1 L438.3,55.0 L439.4,54.8 L440.5,54.7 L441.5,54.6 L442.6,54.4 L443.7,54.3 L444.7,54.2 L445.8,54.1 L446.9,54.0 L448.0,53.9 L449.0,53.8 L450.1,53.7 L451.2,53.6 L452.2,53.5 L453.3,53.4 L454.4,53.3 L455.5,53.1 L456.5,53.0 L457.6,52.9 L458.7,52.8 L459.7,52.7 L460.8,52.6 L461.9,52.5 L463.0,52.4 L464.0,52.3 L465.1,52.1 L466.2,52.0 L467.2,51.9 L468.3,51.8 L469.4,51.7 L470.5,51.6"/><path d="M84.6,494.8 L85.7,492.8 L86.8,490.8 L87.9,488.7 L88.9,486.7 L90.0,484.6 L91.1,482.6 L92.1,480.5 L93.2,478.5 L94.3,476.5 L95.4,474.4 L96.4,472.4 L97.5,470.3 L98.6,468.3 L99.6,466.2 L100.7,464.2 L101.8,462.2 L102.9,460.1 L103.9,458.1 L105.0,456.0 L106.1,454.0 L107.1,451.9 L108.2,449.9 L109.3,447.9 L110.4,445.8 L111.4,443.8 L112.5,441.7 L113.6,439.7 L114.6,437.6 L115.7,435.6 L116.8,433.5 L117.9,431.5 L118.9,429.5 L120.0,427.4 L121.1,425.4 L122.2,423.3 L123.2,421.3 L124.3,419.2 L125.4,417.2 L126.4,415.2 L127.5,413.1 L128.6,411.1 L129.7,409.0 L130.7,407.0 L131.8,404.9 L132.9,402.9 L133.9,400.9 L135.0,398.8 L136.1,396.8 L137.2,394.7 L138.2,392.7 L139.3,390.6 L140.4,388.6 L141.4,386.6 L142.5,384.5 L143.6,382.5 L144.7,380.4 L145.7,378.4 L146.8,376.3 L147.9,374.3 L148.9,372.2 L150.0,370.2 L151.1,368.2 L152.2,366.3 L153.2,364.3 L154.3,362.4 L155.4,360.4 L156.4,358.4 L157.5,356.4 L158.6,354.4 L159.7,352.4 L160.7,350.4 L161.8,348.3 L162.9,346.3 L163.9,344.3 L165.0,342.2 L166.1,340.2 L167.2,338.1 L168.2,336.1 L169.3,334.0 L170.4,332.0 L171.5,330.0 L172.5,327.9 L173.6,325.9 L174.7,323.8 L175.7,321.8 L176.8,319.7 L177.9,317.7 L179.0,315.7 L180.0,313.6 L181.1,311.6 L182.2,309.5 L183.2,307.5 L184.3,305.4 L185.4,303.4 L186.5,301.3 L187.5,299.3 L188.6,297.2 L189.7,295.2 L190.7,293.0 L191.8,290.9 L192.9,288.7 L194.0,286.6 L195.0,284.3 L196.1,282.1 L197.2,279.9 L198.2,277.8 L199.3,275.6 L200.4,273.5 L201.5,271.4 L202.5,269.3 L203.6,267.3 L204.7,265.2 L205.7,263.1 L206.8,261.1 L207.9,259.0 L209.0,257.0 L210.0,254.9 L211.1,252.9 L212.2,250.9 L213.2,248.8 L214.3,246.8 L215.4,244.7 L216.5,242.7 L217.5,240.6 L218.6,238.6 L219.7,236.6 L220.7,234.5 L221.8,232.5 L222.9,230.4 L224.0,228.4 L225.0,226.3 L226.1,224.3 L227.2,222.3 L228.3,220.3 L229.3,218.5 L230.4,216.6 L231.5,214.6 L232.5,212.7 L233.6,210.7 L234.7,208.6 L235.8,206.6 L236.8,204.6 L237.9,202.6 L239.0,200.5 L240.0,198.5 L241.1,196.5 L242.2,194.5 L243.3,192.4 L244.3,190.4 L245.4,188.4 L246.5,186.4 L247.5,184.4 L248.6,182.4 L249.7,180.4 L250.8,178.4 L251.8,176.4 L252.9,174.4 L254.0,172.4 L255.0,170.5 L256.1,168.5 L257.2,166.6 L258.3,164.7 L259.3,162.8 L260.4,161.0 L261.5,159.1 L262.5,157.3 L263.6,155.5 L264.7,153.6 L265.8,151.8 L266.8,149.9 L267.9,148.1 L269.0,146.2 L270.0,144.4 L271.1,142.5 L272.2,140.7 L273.3,138.9 L274.3,137.0 L275.4,135.2 L276.5,133.4 L277.6,131.7 L278.6,129.9 L279.7,128.2 L280.8,126.5 L281.8,124.8 L282.9,123.1 L284.0,121.4 L285.1,119.8 L286.1,118.2 L287.2,116.6 L288.3,115.1 L289.3,113.6 L290.4,112.2 L291.5,110.8 L292.6,109.4 L293.6,108.1 L294.7,106.8 L295.8,105.6 L296.8,104.5 L297.9,103.4 L299.0,102.3 L300.1,101.3 L301.1,100.3 L302.2,99.3 L303.3,98.4 L304.3,97.5 L305.4,96.7 L306.5,95.9 L307.6,95.0 L308.6,94.2 L309.7,93.5 L310.8,92.7 L311.8,91.9 L312.9,91.1 L314.0,90.3 L315.1,89.6 L316.1,88.8 L317.2,88.1 L318.3,87.4 L319.3,86.7 L320.4,86.0 L321.5,85.4 L322.6,84.8 L323.6,84.2 L324.7,83.6 L325.8,83.0 L326.8,82.5 L327.9,82.0 L329.0,81.4 L330.1,80.9 L331.1,80.4 L332.2,80.0 L333.3,79.5 L334.4,79.0 L335.4,78.5 L336.5,78.0 L337.6,77.6 L338.6,77.1 L339.7,76.7 L340.8,76.2 L341.9,75.7 L342.9,75.3 L344.0,74.9 L345.1,74.5 L346.1,74.1 L347.2,73.7 L348.3,73.3 L349.4,72.9 L350.4,72.5 L351.5,72.2 L352.6,71.8 L353.6,71.5 L354.7,71.1 L355.8,70.8 L356.9,70.5 L357.9,70.1 L359.0,69.8 L360.1,69.5 L361.1,69.2 L362.2,68.9 L363.3,68.6 L364.4,68.3 L365.4,68.0 L366.5,67.7 L367.6,67.4 L368.6,67.1 L369.7,66.8 L370.8,66.5 L371.9,66.2 L372.9,65.9 L374.0,65.7 L375.1,65.4 L376.1,65.1 L377.2,64.8 L378.3,64.5 L379.4,64.2 L380.4,64.0 L381.5,63.7 L382.6,63.4 L383.6,63.2 L384.7,62.9 L385.8,62.7 L386.9,62.5 L387.9,62.3 L389.0,62.0 L390.1,61.8 L391.2,61.6 L392.2,61.4 L393.3,61.2 L394.4,61.0 L395.4,60.9 L396.5,60.7 L397.6,60.5 L398.7,60.3 L399.7,60.1 L400.8,59.9 L401.9,59.7 L402.9,59.5 L404.0,59.3 L405.1,59.1 L406.2,58.9 L407.2,58.8 L408.3,58.6 L409.4,58.4 L410.4,58.2 L411.5,58.0 L412.6,57.8 L413.7,57.7 L414.7,57.5 L415.8,57.3 L416.9,57.2 L417.9,57.0 L419.0,56.9 L420.1,56.7 L421.2,56.6 L422.2,56.5 L423.3,56.4 L424.4,56.3 L425.4,56.2 L426.5,56.1 L427.6,56.1 L428.7,56.0 L429.7,55.9 L430.8,55.8 L431.9,55.7 L432.9,55.6 L434.0,55.5 L435.1,55.4 L436.2,55.3 L437.2,55.1 L438.3,55.0 L439.4,54.9 L440.5,54.7 L441.5,54.6 L442.6,54.5 L443.7,54.4 L444.7,54.2 L445.8,54.1 L446.9,54.0 L448.0,53.9 L449.0,53.8 L450.1,53.7 L451.2,53.6 L452.2,53.5 L453.3,53.4 L454.4,53.3 L455.5,53.2 L456.5,53.1 L457.6,53.0 L458.7,52.8 L459.7,52.7 L460.8,52.6 L461.9,52.5 L463.0,52.4 L464.0,52.3 L465.1,52.2 L466.2,52.1 L467.2,51.9 L468.3,51.8 L469.4,51.7 L470.5,51.6"/><path d="M84.6,302.1 L85.7,302.1 L86.8,302.1 L87.9,302.1 L88.9,302.1 L90.0,302.1 L91.1,302.1 L92.1,302.1 L93.2,302.1 L94.3,302.1 L95.4,302.1 L96.4,302.1 L97.5,302.1 L98.6,302.1 L99.6,302.1 L100.7,302.1 L101.8,302.1 L102.9,302.1 L103.9,302.1 L105.0,302.1 L106.1,302.1 L107.1,302.1 L108.2,302.1 L109.3,302.1 L110.4,302.1 L111.4,302.1 L112.5,302.1 L113.6,302.1 L114.6,302.1 L115.7,302.1 L116.8,302.1 L117.9,302.1 L118.9,302.1 L120.0,302.1 L121.1,302.1 L122.2,302.1 L123.2,302.1 L124.3,302.1 L125.4,302.1 L126.4,302.1 L127.5,302.1 L128.6,302.1 L129.7,302.1 L130.7,302.1 L131.8,302.1 L132.9,302.1 L133.9,302.1 L135.0,302.1 L136.1,302.1 L137.2,302.1 L138.2,302.1 L139.3,302.1 L140.4,302.1 L141.4,302.1 L142.5,302.1 L143.6,302.1 L144.7,302.1 L145.7,302.1 L146.8,302.1 L147.9,302.1 L148.9,302.1 L150.0,302.1 L151.1,302.1 L152.2,302.1 L153.2,302.1 L154.3,302.1 L155.4,302.1 L156.4,302.1 L157.5,302.1 L158.6,302.1 L159.7,302.1 L160.7,302.1 L161.8,302.1 L162.9,302.1 L163.9,302.1 L165.0,302.1 L166.1,302.1 L167.2,302.1 L168.2,302.1 L169.3,302.1 L170.4,302.1 L171.5,302.1 L172.5,302.1 L173.6,302.1 L174.7,302.1 L175.7,302.1 L176.8,302.1 L177.9,302.1 L179.0,302.1 L180.0,302.1 L181.1,302.1 L182.2,302.1 L183.2,302.1 L184.3,302.1 L185.4,302.1 L186.5,302.1 L187.5,302.1 L188.6,302.1 L189.7,302.1 L190.7,302.1 L191.8,302.1 L192.9,302.1 L194.0,302.1 L195.0,302.1 L196.1,302.1 L197.2,302.1 L198.2,302.1 L199.3,302.1 L200.4,302.1 L201.5,302.1 L202.5,302.1 L203.6,302.1 L204.7,302.1 L205.7,302.1 L206.8,302.1 L207.9,302.1 L209.0,302.1 L210.0,302.1 L211.1,302.1 L212.2,302.1 L213.2,302.1 L214.3,302.1 L215.4,302.1 L216.5,302.1 L217.5,302.1 L218.6,302.1 L219.7,302.1 L220.7,302.1 L221.8,302.1 L222.9,302.1 L224.0,302.1 L225.0,302.1 L226.1,302.1 L227.2,302.1 L228.3,302.1 L229.3,302.1 L230.4,302.1 L231.5,302.1 L232.5,302.1 L233.6,302.1 L234.7,302.1 L235.8,302.1 L236.8,302.1 L237.9,302.1 L239.0,302.1 L240.0,302.1 L241.1,302.1 L242.2,302.1 L243.3,302.1 L244.3,302.1 L245.4,302.1 L246.5,302.1 L247.5,302.1 L248.6,302.1 L249.7,302.1 L250.8,302.0 L251.8,302.0 L252.9,302.0 L254.0,302.0 L255.0,301.9 L256.1,301.9 L257.2,301.9 L258.3,301.8 L259.3,301.8 L260.4,301.7 L261.5,301.7 L262.5,301.6 L263.6,301.5 L264.7,301.5 L265.8,301.4 L266.8,301.3 L267.9,301.2 L269.0,301.1 L270.0,300.9 L271.1,300.8 L272.2,300.6 L273.3,300.5 L274.3,300.3 L275.4,300.1 L276.5,299.9 L277.6,299.7 L278.6,299.5 L279.7,299.2 L280.8,299.0 L281.8,298.7 L282.9,298.4 L284.0,298.1 L285.1,297.7 L286.1,297.4 L287.2,297.0 L288.3,296.6 L289.3,296.1 L290.4,295.7 L291.5,295.2 L292.6,294.7 L293.6,294.2 L294.7,293.7 L295.8,293.1 L296.8,292.5 L297.9,291.9 L299.0,291.3 L300.1,290.6 L301.1,290.0 L302.2,289.3 L303.3,288.6 L304.3,287.9 L305.4,287.1 L306.5,286.3 L307.6,285.6 L308.6,284.8 L309.7,284.0 L310.8,283.1 L311.8,282.3 L312.9,281.4 L314.0,280.6 L315.1,279.7 L316.1,278.8 L317.2,277.9 L318.3,277.0 L319.3,276.0 L320.4,275.1 L321.5,274.2 L322.6,273.2 L323.6,272.2 L324.7,271.2 L325.8,270.3 L326.8,269.3 L327.9,268.3 L329.0,267.2 L330.1,266.2 L331.1,265.2 L332.2,264.1 L333.3,263.1 L334.4,262.0 L335.4,260.9 L336.5,259.8 L337.6,258.7 L338.6,257.6 L339.7,256.5 L340.8,255.4 L341.9,254.2 L342.9,253.1 L344.0,251.9 L345.1,250.7 L346.1,249.5 L347.2,248.3 L348.3,247.1 L349.4,245.9 L350.4,244.6 L351.5,243.4 L352.6,242.1 L353.6,240.9 L354.7,239.6 L355.8,238.4 L356.9,237.1 L357.9,235.8 L359.0,234.5 L360.1,233.3 L361.1,232.0 L362.2,230.7 L363.3,229.4 L364.4,228.1 L365.4,226.8 L366.5,225.6 L367.6,224.3 L368.6,223.0 L369.7,221.7 L370.8,220.4 L371.9,219.1 L372.9,217.8 L374.0,216.5 L375.1,215.2 L376.1,213.9 L377.2,212.6 L378.3,211.3 L379.4,210.0 L380.4,208.7 L381.5,207.4 L382.6,206.0 L383.6,204.7 L384.7,203.4 L385.8,202.1 L386.9,200.8 L387.9,199.5 L389.0,198.2 L390.1,196.9 L391.2,195.5 L392.2,194.2 L393.3,192.9 L394.4,191.6 L395.4,190.3 L396.5,189.0 L397.6,187.7 L398.7,186.4 L399.7,185.1 L400.8,183.9 L401.9,182.6 L402.9,181.3 L404.0,180.0 L405.1,178.7 L406.2,177.5 L407.2,176.2 L408.3,174.9 L409.4,173.6 L410.4,172.4 L411.5,171.1 L412.6,169.9 L413.7,168.6 L414.7,167.3 L415.8,166.1 L416.9,164.8 L417.9,163.6 L419.0,162.3 L420.1,161.1 L421.2,159.8 L422.2,158.6 L423.3,157.3 L424.4,156.1 L425.4,154.8 L426.5,153.6 L427.6,152.3 L428.7,151.1 L429.7,149.8 L430.8,148.6 L431.9,147.3 L432.9,146.0 L434.0,144.8 L435.1,143.5 L436.2,142.3 L437.2,141.0 L438.3,139.8 L439.4,138.5 L440.5,137.2 L441.5,136.0 L442.6,134.7 L443.7,133.4 L444.7,132.2 L445.8,130.9 L446.9,129.6 L448.0,128.4 L449.0,127.1 L450.1,125.8 L451.2,124.6 L452.2,123.3 L453.3,122.0 L454.4,120.8 L455.5,119.5 L456.5,118.2 L457.6,117.0 L458.7,115.7 L459.7,114.5 L460.8,113.2 L461.9,112.0 L463.0,110.7 L464.0,109.4 L465.1,108.2 L466.2,107.0 L467.2,105.7 L468.3,104.5 L469.4,103.2 L470.5,102.0"/><path d="M84.6,302.1 L85.7,302.1 L86.8,302.1 L87.9,302.1 L88.9,302.1 L90.0,302.1 L91.1,302.1 L92.1,302.1 L93.2,302.1 L94.3,302.1 L95.4,302.1 L96.4,302.1 L97.5,302.1 L98.6,302.1 L99.6,302.1 L100.7,302.1 L101.8,302.1 L102.9,302.1 L103.9,302.1 L105.0,302.1 L106.1,302.1 L107.1,302.1 L108.2,302.1 L109.3,302.1 L110.4,302.1 L111.4,302.1 L112.5,302.1 L113.6,302.1 L114.6,302.1 L115.7,302.1 L116.8,302.1 L117.9,302.1 L118.9,302.1 L120.0,302.1 L121.1,302.1 L122.2,302.1 L123.2,302.1 L124.3,302.1 L125.4,302.1 L126.4,302.1 L127.5,302.1 L128.6,302.1 L129.7,302.1 L130.7,302.1 L131.8,302.1 L132.9,302.1 L133.9,302.1 L135.0,302.1 L136.1,302.1 L137.2,302.1 L138.2,302.1 L139.3,302.1 L140.4,302.1 L141.4,302.1 L142.5,302.1 L143.6,302.1 L144.7,302.1 L145.7,302.1 L146.8,302.1 L147.9,302.1 L148.9,302.1 L150.0,302.1 L151.1,302.1 L152.2,302.1 L153.2,302.1 L154.3,302.1 L155.4,302.1 L156.4,302.1 L157.5,302.1 L158.6,302.1 L159.7,302.1 L160.7,302.1 L161.8,302.1 L162.9,302.1 L163.9,302.1 L165.0,302.1 L166.1,302.1 L167.2,302.1 L168.2,302.1 L169.3,302.1 L170.4,302.1 L171.5,302.1 L172.5,302.1 L173.6,302.1 L174.7,302.1 L175.7,302.1 L176.8,302.1 L177.9,302.1 L179.0,302.1 L180.0,302.1 L181.1,302.1 L182.2,302.1 L183.2,302.1 L184.3,302.1 L185.4,302.1 L186.5,302.1 L187.5,302.1 L188.6,302.1 L189.7,302.1 L190.7,302.1 L191.8,302.1 L192.9,302.1 L194.0,302.1 L195.0,302.1 L196.1,302.1 L197.2,302.1 L198.2,302.1 L199.3,302.1 L200.4,302.1 L201.5,302.1 L202.5,302.1 L203.6,302.1 L204.7,302.1 L205.7,302.1 L206.8,302.1 L207.9,302.1 L209.0,302.1 L210.0,302.1 L211.1,302.1 L212.2,302.1 L213.2,302.1 L214.3,302.1 L215.4,302.1 L216.5,302.1 L217.5,302.1 L218.6,302.1 L219.7,302.1 L220.7,302.1 L221.8,302.1 L222.9,302.1 L224.0,302.1 L225.0,302.1 L226.1,302.1 L227.2,302.1 L228.3,302.1 L229.3,302.1 L230.4,302.1 L231.5,302.1 L232.5,302.1 L233.6,302.1 L234.7,302.1 L235.8,302.1 L236.8,302.1 L237.9,302.1 L239.0,302.1 L240.0,302.1 L241.1,302.1 L242.2,302.1 L243.3,302.1 L244.3,302.1 L245.4,302.1 L246.5,302.1 L247.5,302.1 L248.6,302.1 L249.7,302.1 L250.8,302.1 L251.8,302.1 L252.9,302.1 L254.0,302.1 L255.0,302.0 L256.1,302.0 L257.2,302.0 L258.3,302.0 L259.3,301.9 L260.4,301.9 L261.5,301.9 L262.5,301.8 L263.6,301.8 L264.7,301.7 L265.8,301.7 L266.8,301.6 L267.9,301.5 L269.0,301.4 L270.0,301.4 L271.1,301.3 L272.2,301.1 L273.3,301.0 L274.3,300.9 L275.4,300.8 L276.5,300.6 L277.6,300.5 L278.6,300.3 L279.7,300.1 L280.8,299.9 L281.8,299.7 L282.9,299.4 L284.0,299.2 L285.1,298.9 L286.1,298.6 L287.2,298.3 L288.3,298.0 L289.3,297.7 L290.4,297.3 L291.5,296.9 L292.6,296.5 L293.6,296.1 L294.7,295.6 L295.8,295.1 L296.8,294.6 L297.9,294.1 L299.0,293.6 L300.1,293.0 L301.1,292.4 L302.2,291.8 L303.3,291.2 L304.3,290.5 L305.4,289.8 L306.5,289.1 L307.6,288.4 L308.6,287.7 L309.7,286.9 L310.8,286.2 L311.8,285.4 L312.9,284.6 L314.0,283.8 L315.1,282.9 L316.1,282.1 L317.2,281.2 L318.3,280.4 L319.3,279.5 L320.4,278.6 L321.5,277.7 L322.6,276.7 L323.6,275.8 L324.7,274.9 L325.8,273.9 L326.8,273.0 L327.9,272.0 L329.0,271.0 L330.1,270.0 L331.1,269.0 L332.2,268.0 L333.3,267.0 L334.4,266.0 L335.4,264.9 L336.5,263.9 L337.6,262.8 L338.6,261.8 L339.7,260.7 L340.8,259.6 L341.9,258.5 L342.9,257.4 L344.0,256.2 L345.1,255.1 L346.1,253.9 L347.2,252.8 L348.3,251.6 L349.4,250.4 L350.4,249.2 L351.5,248.0 L352.6,246.8 L353.6,245.6 L354.7,244.3 L355.8,243.1 L356.9,241.8 L357.9,240.6 L359.0,239.3 L360.1,238.0 L361.1,236.8 L362.2,235.5 L363.3,234.2 L364.4,232.9 L365.4,231.7 L366.5,230.4 L367.6,229.1 L368.6,227.8 L369.7,226.5 L370.8,225.2 L371.9,223.9 L372.9,222.7 L374.0,221.4 L375.1,220.1 L376.1,218.8 L377.2,217.5 L378.3,216.2 L379.4,214.9 L380.4,213.6 L381.5,212.3 L382.6,211.0 L383.6,209.6 L384.7,208.3 L385.8,207.0 L386.9,205.7 L387.9,204.4 L389.0,203.1 L390.1,201.8 L391.2,200.5 L392.2,199.1 L393.3,197.8 L394.4,196.5 L395.4,195.2 L396.5,193.9 L397.6,192.6 L398.7,191.3 L399.7,190.0 L400.8,188.7 L401.9,187.4 L402.9,186.1 L404.0,184.8 L405.1,183.5 L406.2,182.2 L407.2,181.0 L408.3,179.7 L409.4,178.4 L410.4,177.1 L411.5,175.9 L412.6,174.6 L413.7,173.3 L414.7,172.1 L415.8,170.8 L416.9,169.5 L417.9,168.3 L419.0,167.0 L420.1,165.8 L421.2,164.5 L422.2,163.3 L423.3,162.0 L424.4,160.8 L425.4,159.5 L426.5,158.3 L427.6,157.0 L428.7,155.8 L429.7,154.5 L430.8,153.3 L431.9,152.0 L432.9,150.8 L434.0,149.5 L435.1,148.2 L436.2,147.0 L437.2,145.7 L438.3,144.5 L439.4,143.2 L440.5,142.0 L441.5,140.7 L442.6,139.4 L443.7,138.2 L444.7,136.9 L445.8,135.6 L446.9,134.4 L448.0,133.1 L449.0,131.8 L450.1,130.6 L451.2,129.3 L452.2,128.0 L453.3,126.8 L454.4,125.5 L455.5,124.2 L456.5,123.0 L457.6,121.7 L458.7,120.4 L459.7,119.2 L460.8,117.9 L461.9,116.7 L463.0,115.4 L464.0,114.1 L465.1,112.9 L466.2,111.6 L467.2,110.4 L468.3,109.1 L469.4,107.9 L470.5,106.6"/></g>
<path d="M84.6,324.1 L85.7,322.5 L86.8,320.8 L87.9,319.2 L88.9,317.5 L90.0,315.9 L91.1,314.2 L92.1,312.6 L93.2,310.9 L94.3,309.3 L95.4,307.6 L96.4,306.0 L97.5,304.4 L98.6,302.7 L99.6,301.1 L100.7,299.5 L101.8,297.9 L102.9,296.2 L103.9,294.6 L105.0,293.0 L106.1,291.3 L107.1,289.7 L108.2,288.1 L109.3,286.5 L110.4,284.8 L111.4,283.2 L112.5,281.6 L113.6,280.0 L114.6,278.4 L115.7,276.8 L116.8,275.2 L117.9,273.6 L118.9,272.0 L120.0,270.4 L121.1,268.9 L122.2,267.3 L123.2,265.7 L124.3,264.1 L125.4,262.5 L126.4,260.8 L127.5,259.2 L128.6,257.5 L129.7,255.8 L130.7,254.2 L131.8,252.5 L132.9,250.8 L133.9,249.2 L135.0,247.5 L136.1,245.8 L137.2,244.2 L138.2,242.5 L139.3,240.8 L140.4,239.2 L141.4,237.5 L142.5,235.9 L143.6,234.3 L144.7,232.7 L145.7,231.1 L146.8,229.6 L147.9,228.0 L148.9,226.4 L150.0,224.8 L151.1,223.2 L152.2,221.5 L153.2,219.9 L154.3,218.3 L155.4,216.6 L156.4,214.9 L157.5,213.3 L158.6,211.6 L159.7,210.0 L160.7,208.3 L161.8,206.6 L162.9,205.0 L163.9,203.3 L165.0,201.6 L166.1,200.0 L167.2,198.3 L168.2,196.7 L169.3,195.0 L170.4,193.4 L171.5,191.7 L172.5,190.1 L173.6,188.5 L174.7,186.8 L175.7,185.2 L176.8,183.6 L177.9,182.0 L179.0,180.4 L180.0,178.7 L181.1,177.1 L182.2,175.5 L183.2,173.9 L184.3,172.2 L185.4,170.6 L186.5,169.0 L187.5,167.4 L188.6,165.7 L189.7,164.1 L190.7,162.5 L191.8,160.9 L192.9,159.3 L194.0,157.7 L195.0,156.1 L196.1,154.5 L197.2,152.9 L198.2,151.3 L199.3,149.8 L200.4,148.2 L201.5,146.6 L202.5,145.1 L203.6,143.6 L204.7,142.1 L205.7,140.6 L206.8,139.1 L207.9,137.6 L209.0,136.2 L210.0,134.8 L211.1,133.4 L212.2,132.0 L213.2,130.6 L214.3,129.3 L215.4,128.0 L216.5,126.8 L217.5,125.6 L218.6,124.4 L219.7,123.2 L220.7,122.1 L221.8,121.0 L222.9,120.0 L224.0,118.9 L225.0,118.0 L226.1,117.0 L227.2,116.1 L228.3,115.2 L229.3,114.3 L230.4,113.4 L231.5,112.6 L232.5,111.8 L233.6,111.0 L234.7,110.2 L235.8,109.4 L236.8,108.6 L237.9,107.9 L239.0,107.1 L240.0,106.4 L241.1,105.6 L242.2,104.9 L243.3,104.2 L244.3,103.5 L245.4,102.8 L246.5,102.1 L247.5,101.4 L248.6,100.7 L249.7,100.0 L250.8,99.4 L251.8,98.7 L252.9,98.0 L254.0,97.4 L255.0,96.8 L256.1,96.2 L257.2,95.6 L258.3,95.0 L259.3,94.4 L260.4,93.8 L261.5,93.2 L262.5,92.7 L263.6,92.1 L264.7,91.6 L265.8,91.1 L266.8,90.5 L267.9,90.0 L269.0,89.5 L270.0,89.0 L271.1,88.5 L272.2,88.0 L273.3,87.4 L274.3,86.9 L275.4,86.4 L276.5,85.9 L277.6,85.4 L278.6,84.9 L279.7,84.4 L280.8,84.0 L281.8,83.5 L282.9,83.0 L284.0,82.5 L285.1,82.1 L286.1,81.6 L287.2,81.2 L288.3,80.8 L289.3,80.4 L290.4,79.9 L291.5,79.5 L292.6,79.1 L293.6,78.7 L294.7,78.3 L295.8,77.9 L296.8,77.5 L297.9,77.1 L299.0,76.7 L300.1,76.3 L301.1,75.9 L302.2,75.5 L303.3,75.1 L304.3,74.7 L305.4,74.3 L306.5,73.9 L307.6,73.6 L308.6,73.2 L309.7,72.8 L310.8,72.5 L311.8,72.1 L312.9,71.8 L314.0,71.4 L315.1,71.1 L316.1,70.8 L317.2,70.5 L318.3,70.2 L319.3,69.8 L320.4,69.5 L321.5,69.2 L322.6,69.0 L323.6,68.7 L324.7,68.4 L325.8,68.1 L326.8,67.8 L327.9,67.5 L329.0,67.3 L330.1,67.0 L331.1,66.7 L332.2,66.5 L333.3,66.2 L334.4,66.0 L335.4,65.7 L336.5,65.5 L337.6,65.3 L338.6,65.0 L339.7,64.8 L340.8,64.6 L341.9,64.4 L342.9,64.1 L344.0,63.9 L345.1,63.7 L346.1,63.5 L347.2,63.2 L348.3,63.0 L349.4,62.8 L350.4,62.6 L351.5,62.3 L352.6,62.1 L353.6,61.9 L354.7,61.7 L355.8,61.5 L356.9,61.3 L357.9,61.1 L359.0,60.9 L360.1,60.7 L361.1,60.5 L362.2,60.3 L363.3,60.1 L364.4,59.9 L365.4,59.8 L366.5,59.6 L367.6,59.4 L368.6,59.2 L369.7,59.0 L370.8,58.9 L371.9,58.7 L372.9,58.5 L374.0,58.3 L375.1,58.2 L376.1,58.0 L377.2,57.8 L378.3,57.6 L379.4,57.5 L380.4,57.3 L381.5,57.1 L382.6,56.9 L383.6,56.8 L384.7,56.6 L385.8,56.4 L386.9,56.3 L387.9,56.1 L389.0,55.9 L390.1,55.8 L391.2,55.6 L392.2,55.5 L393.3,55.3 L394.4,55.1 L395.4,55.0 L396.5,54.8 L397.6,54.7 L398.7,54.5 L399.7,54.4 L400.8,54.2 L401.9,54.1 L402.9,53.9 L404.0,53.8 L405.1,53.6 L406.2,53.5 L407.2,53.4 L408.3,53.2 L409.4,53.1 L410.4,52.9 L411.5,52.8 L412.6,52.7 L413.7,52.5 L414.7,52.4 L415.8,52.3 L416.9,52.1 L417.9,52.0 L419.0,51.9 L420.1,51.8 L421.2,51.7 L422.2,51.6 L423.3,51.5 L424.4,51.5 L425.4,51.4 L426.5,51.4 L427.6,51.3 L428.7,51.3 L429.7,51.2 L430.8,51.2 L431.9,51.1 L432.9,51.0 L434.0,50.9 L435.1,50.8 L436.2,50.7 L437.2,50.6 L438.3,50.5 L439.4,50.4 L440.5,50.2 L441.5,50.1 L442.6,50.0 L443.7,49.9 L444.7,49.8 L445.8,49.7 L446.9,49.6 L448.0,49.6 L449.0,49.5 L450.1,49.5 L451.2,49.5 L452.2,49.4 L453.3,49.4 L454.4,49.3 L455.5,49.3 L456.5,49.2 L457.6,49.1 L458.7,49.0 L459.7,48.9 L460.8,48.8 L461.9,48.7 L463.0,48.6 L464.0,48.5 L465.1,48.4 L466.2,48.2 L467.2,48.1 L468.3,48.0 L469.4,47.9 L470.5,47.8" stroke="#ff0000" stroke-width="2.2"/>
<path d="M191.8,302.0 L192.9,302.0 L194.0,301.9 L195.0,301.9 L196.1,301.8 L197.2,301.8 L198.2,301.7 L199.3,301.7 L200.4,301.6 L201.5,301.5 L202.5,301.5 L203.6,301.4 L204.7,301.3 L205.7,301.2 L206.8,301.1 L207.9,301.0 L209.0,300.9 L210.0,300.8 L211.1,300.7 L212.2,300.6 L213.2,300.4 L214.3,300.3 L215.4,300.2 L216.5,300.0 L217.5,299.9 L218.6,299.7 L219.7,299.6 L220.7,299.4 L221.8,299.2 L222.9,299.0 L224.0,298.9 L225.0,298.7 L226.1,298.5 L227.2,298.3 L228.3,298.1 L229.3,297.9 L230.4,297.6 L231.5,297.4 L232.5,297.2 L233.6,296.9 L234.7,296.7 L235.8,296.4 L236.8,296.2 L237.9,295.9 L239.0,295.6 L240.0,295.3 L241.1,295.0 L242.2,294.7 L243.3,294.4 L244.3,294.1 L245.4,293.7 L246.5,293.4 L247.5,293.0 L248.6,292.6 L249.7,292.2 L250.8,291.8 L251.8,291.4 L252.9,291.0 L254.0,290.5 L255.0,290.0 L256.1,289.6 L257.2,289.1 L258.3,288.6 L259.3,288.1 L260.4,287.5 L261.5,287.0 L262.5,286.5 L263.6,285.9 L264.7,285.3 L265.8,284.7 L266.8,284.1 L267.9,283.5 L269.0,282.9 L270.0,282.2 L271.1,281.6 L272.2,280.9 L273.3,280.2 L274.3,279.5 L275.4,278.8 L276.5,278.0 L277.6,277.3 L278.6,276.5 L279.7,275.8 L280.8,275.0 L281.8,274.2 L282.9,273.3 L284.0,272.5 L285.1,271.7 L286.1,270.8 L287.2,269.9 L288.3,269.0 L289.3,268.1 L290.4,267.2 L291.5,266.3 L292.6,265.4 L293.6,264.4 L294.7,263.5 L295.8,262.5 L296.8,261.5 L297.9,260.5 L299.0,259.5 L300.1,258.5 L301.1,257.5 L302.2,256.4 L303.3,255.4 L304.3,254.3 L305.4,253.3 L306.5,252.2 L307.6,251.1 L308.6,250.0 L309.7,248.9 L310.8,247.8 L311.8,246.7 L312.9,245.6 L314.0,244.4 L315.1,243.3 L316.1,242.1 L317.2,240.9 L318.3,239.8 L319.3,238.6 L320.4,237.4 L321.5,236.2 L322.6,235.0 L323.6,233.8 L324.7,232.5 L325.8,231.3 L326.8,230.1 L327.9,228.8 L329.0,227.6 L330.1,226.3 L331.1,225.1 L332.2,223.8 L333.3,222.5 L334.4,221.3 L335.4,220.0 L336.5,218.7 L337.6,217.4 L338.6,216.2 L339.7,214.9 L340.8,213.6 L341.9,212.3 L342.9,211.0 L344.0,209.7 L345.1,208.4 L346.1,207.1 L347.2,205.8 L348.3,204.5 L349.4,203.2 L350.4,201.9 L351.5,200.6 L352.6,199.3 L353.6,197.9 L354.7,196.6 L355.8,195.3 L356.9,193.9 L357.9,192.6 L359.0,191.2 L360.1,189.9 L361.1,188.5 L362.2,187.2 L363.3,185.8 L364.4,184.4 L365.4,183.0 L366.5,181.7 L367.6,180.3 L368.6,178.9 L369.7,177.5 L370.8,176.1 L371.9,174.7 L372.9,173.3 L374.0,171.9 L375.1,170.5 L376.1,169.1 L377.2,167.7 L378.3,166.3 L379.4,164.9 L380.4,163.5 L381.5,162.1 L382.6,160.7 L383.6,159.3 L384.7,157.9 L385.8,156.5 L386.9,155.1 L387.9,153.7 L389.0,152.3 L390.1,151.0 L391.2,149.6 L392.2,148.2 L393.3,146.8 L394.4,145.4 L395.4,144.1 L396.5,142.7 L397.6,141.3 L398.7,139.9 L399.7,138.6 L400.8,137.2 L401.9,135.8 L402.9,134.5 L404.0,133.1 L405.1,131.7 L406.2,130.4 L407.2,129.0 L408.3,127.7 L409.4,126.3 L410.4,125.0 L411.5,123.6 L412.6,122.2 L413.7,120.9 L414.7,119.5 L415.8,118.2 L416.9,116.9 L417.9,115.5 L419.0,114.2 L420.1,112.8 L421.2,111.5 L422.2,110.2 L423.3,108.8 L424.4,107.5 L425.4,106.2 L426.5,104.9 L427.6,103.5 L428.7,102.2 L429.7,100.9 L430.8,99.6 L431.9,98.3 L432.9,97.0 L434.0,95.7 L435.1,94.4 L436.2,93.2 L437.2,91.9 L438.3,90.6 L439.4,89.3 L440.5,88.1 L441.5,86.8 L442.6,85.6 L443.7,84.3 L444.7,83.1 L445.8,81.8 L446.9,80.6 L448.0,79.4 L449.0,78.1 L450.1,76.9 L451.2,75.7 L452.2,74.5 L453.3,73.2 L454.4,72.0 L455.5,70.8 L456.5,69.6 L457.6,68.4 L458.7,67.2 L459.7,66.0 L460.8,64.8 L461.9,63.6 L463.0,62.4 L464.0,61.1 L465.1,59.9 L466.2,58.7 L467.2,57.5 L468.3,56.3 L469.4,55.1 L470.5,53.9" stroke="#ff0000" stroke-width="2.0"/>
<path d="M103.40,291.61L106.30,296.91L100.50,296.91ZM116.79,271.36L119.69,276.66L113.89,276.66ZM130.19,251.21L133.09,256.51L127.29,256.51ZM143.59,230.50L146.49,235.80L140.69,235.80ZM156.98,210.31L159.88,215.61L154.08,215.61ZM170.38,189.58L173.28,194.88L167.48,194.88ZM183.78,169.26L186.68,174.56L180.88,174.56ZM197.17,149.09L200.07,154.39L194.27,154.39ZM210.57,130.25L213.47,135.55L207.67,135.55ZM223.96,115.14L226.86,120.44L221.06,120.44ZM237.36,104.43L240.26,109.73L234.46,109.73ZM250.76,95.56L253.66,100.86L247.86,100.86ZM264.15,88.07L267.05,93.37L261.25,93.37ZM277.55,81.62L280.45,86.92L274.65,86.92ZM290.95,75.93L293.85,81.23L288.05,81.23ZM304.34,70.92L307.24,76.22L301.44,76.22ZM317.74,66.51L320.64,71.81L314.84,71.81ZM331.14,62.94L334.04,68.24L328.24,68.24ZM344.53,59.99L347.43,65.29L341.63,65.29ZM357.93,57.28L360.83,62.58L355.03,62.58ZM371.33,54.98L374.23,60.28L368.43,60.28ZM384.72,52.80L387.62,58.10L381.82,58.10ZM398.12,50.80L401.02,56.10L395.22,56.10ZM411.51,49.01L414.41,54.31L408.61,54.31ZM424.91,47.63L427.81,52.93L422.01,52.93ZM438.31,46.67L441.21,51.97L435.41,51.97ZM451.70,45.64L454.60,50.94L448.80,50.94ZM465.10,44.55L468.00,49.85L462.20,49.85Z" fill="#ff0000" stroke="none"/>
<path d="M208.17,300.75a2.40,2.40 0 1,0 4.80,0a2.40,2.40 0 1,0 -4.80,0M221.56,298.86a2.40,2.40 0 1,0 4.80,0a2.40,2.40 0 1,0 -4.80,0M234.96,296.04a2.40,2.40 0 1,0 4.80,0a2.40,2.40 0 1,0 -4.80,0M248.36,291.81a2.40,2.40 0 1,0 4.80,0a2.40,2.40 0 1,0 -4.80,0M261.75,285.60a2.40,2.40 0 1,0 4.80,0a2.40,2.40 0 1,0 -4.80,0M275.15,277.30a2.40,2.40 0 1,0 4.80,0a2.40,2.40 0 1,0 -4.80,0M288.55,266.77a2.40,2.40 0 1,0 4.80,0a2.40,2.40 0 1,0 -4.80,0M301.94,254.33a2.40,2.40 0 1,0 4.80,0a2.40,2.40 0 1,0 -4.80,0M315.34,240.36a2.40,2.40 0 1,0 4.80,0a2.40,2.40 0 1,0 -4.80,0M328.74,225.05a2.40,2.40 0 1,0 4.80,0a2.40,2.40 0 1,0 -4.80,0M342.13,209.07a2.40,2.40 0 1,0 4.80,0a2.40,2.40 0 1,0 -4.80,0M355.53,192.60a2.40,2.40 0 1,0 4.80,0a2.40,2.40 0 1,0 -4.80,0M368.93,175.40a2.40,2.40 0 1,0 4.80,0a2.40,2.40 0 1,0 -4.80,0M382.32,157.91a2.40,2.40 0 1,0 4.80,0a2.40,2.40 0 1,0 -4.80,0M395.72,140.62a2.40,2.40 0 1,0 4.80,0a2.40,2.40 0 1,0 -4.80,0M409.11,123.60a2.40,2.40 0 1,0 4.80,0a2.40,2.40 0 1,0 -4.80,0M422.51,106.84a2.40,2.40 0 1,0 4.80,0a2.40,2.40 0 1,0 -4.80,0M435.91,90.61a2.40,2.40 0 1,0 4.80,0a2.40,2.40 0 1,0 -4.80,0M449.30,75.07a2.40,2.40 0 1,0 4.80,0a2.40,2.40 0 1,0 -4.80,0M462.70,59.94a2.40,2.40 0 1,0 4.80,0a2.40,2.40 0 1,0 -4.80,0" fill="#ff0000" stroke="none"/>
<path d="M84.6,489.5 L85.7,487.4 L86.8,485.4 L87.9,483.3 L88.9,481.3 L90.0,479.3 L91.1,477.2 L92.1,475.2 L93.2,473.1 L94.3,471.1 L95.4,469.0 L96.4,467.0 L97.5,465.0 L98.6,462.9 L99.6,460.9 L100.7,458.8 L101.8,456.8 L102.9,454.7 L103.9,452.7 L105.0,450.7 L106.1,448.6 L107.1,446.6 L108.2,444.5 L109.3,442.5 L110.4,440.4 L111.4,438.4 L112.5,436.4 L113.6,434.3 L114.6,432.3 L115.7,430.2 L116.8,428.2 L117.9,426.1 L118.9,424.1 L120.0,422.1 L121.1,420.0 L122.2,418.0 L123.2,415.9 L124.3,413.9 L125.4,411.8 L126.4,409.8 L127.5,407.8 L128.6,405.7 L129.7,403.7 L130.7,401.6 L131.8,399.6 L132.9,397.5 L133.9,395.5 L135.0,393.5 L136.1,391.4 L137.2,389.4 L138.2,387.3 L139.3,385.3 L140.4,383.2 L141.4,381.2 L142.5,379.2 L143.6,377.1 L144.7,375.1 L145.7,373.1 L146.8,371.0 L147.9,369.0 L148.9,367.0 L150.0,365.0 L151.1,363.1 L152.2,361.1 L153.2,359.1 L154.3,357.1 L155.4,355.1 L156.4,353.1 L157.5,351.1 L158.6,349.1 L159.7,347.1 L160.7,345.0 L161.8,343.0 L162.9,340.9 L163.9,338.9 L165.0,336.9 L166.1,334.8 L167.2,332.8 L168.2,330.7 L169.3,328.7 L170.4,326.6 L171.5,324.6 L172.5,322.6 L173.6,320.5 L174.7,318.5 L175.7,316.4 L176.8,314.4 L177.9,312.3 L179.0,310.3 L180.0,308.2 L181.1,306.2 L182.2,304.1 L183.2,302.1 L184.3,300.0 L185.4,297.9 L186.5,295.9 L187.5,293.8 L188.6,291.7 L189.7,289.5 L190.7,287.4 L191.8,285.2 L192.9,283.0 L194.0,280.8 L195.0,278.7 L196.1,276.5 L197.2,274.4 L198.2,272.2 L199.3,270.1 L200.4,268.1 L201.5,266.0 L202.5,263.9 L203.6,261.9 L204.7,259.8 L205.7,257.8 L206.8,255.7 L207.9,253.7 L209.0,251.6 L210.0,249.6 L211.1,247.5 L212.2,245.5 L213.2,243.5 L214.3,241.4 L215.4,239.4 L216.5,237.3 L217.5,235.3 L218.6,233.3 L219.7,231.2 L220.7,229.2 L221.8,227.2 L222.9,225.1 L224.0,223.1 L225.0,221.1 L226.1,219.1 L227.2,217.2 L228.3,215.3 L229.3,213.3 L230.4,211.4 L231.5,209.4 L232.5,207.4 L233.6,205.3 L234.7,203.3 L235.8,201.3 L236.8,199.3 L237.9,197.2 L239.0,195.2 L240.0,193.2 L241.1,191.2 L242.2,189.2 L243.3,187.2 L244.3,185.1 L245.4,183.1 L246.5,181.1 L247.5,179.1 L248.6,177.2 L249.7,175.2 L250.8,173.2 L251.8,171.3 L252.9,169.3 L254.0,167.4 L255.0,165.5 L256.1,163.6 L257.2,161.7 L258.3,159.8 L259.3,158.0 L260.4,156.2 L261.5,154.3 L262.5,152.5 L263.6,150.6 L264.7,148.8 L265.8,146.9 L266.8,145.1 L267.9,143.3 L269.0,141.4 L270.0,139.6 L271.1,137.8 L272.2,136.0 L273.3,134.2 L274.3,132.4 L275.4,130.6 L276.5,128.9 L277.6,127.2 L278.6,125.5 L279.7,123.8 L280.8,122.1 L281.8,120.5 L282.9,118.9 L284.0,117.4 L285.1,115.8 L286.1,114.3 L287.2,112.9 L288.3,111.5 L289.3,110.1 L290.4,108.8 L291.5,107.5 L292.6,106.2 L293.6,105.1 L294.7,103.9 L295.8,102.8 L296.8,101.8 L297.9,100.8 L299.0,99.8 L300.1,98.9 L301.1,98.0 L302.2,97.1 L303.3,96.2 L304.3,95.4 L305.4,94.6 L306.5,93.8 L307.6,93.0 L308.6,92.2 L309.7,91.5 L310.8,90.7 L311.8,90.0 L312.9,89.2 L314.0,88.5 L315.1,87.8 L316.1,87.1 L317.2,86.4 L318.3,85.8 L319.3,85.2 L320.4,84.6 L321.5,84.0 L322.6,83.4 L323.6,82.9 L324.7,82.3 L325.8,81.8 L326.8,81.3 L327.9,80.8 L329.0,80.3 L330.1,79.8 L331.1,79.4 L332.2,78.9 L333.3,78.5 L334.4,78.0 L335.4,77.5 L336.5,77.1 L337.6,76.7 L338.6,76.2 L339.7,75.8 L340.8,75.4 L341.9,74.9 L342.9,74.5 L344.0,74.1 L345.1,73.8 L346.1,73.4 L347.2,73.0 L348.3,72.7 L349.4,72.3 L350.4,72.0 L351.5,71.6 L352.6,71.3 L353.6,71.0 L354.7,70.6 L355.8,70.3 L356.9,70.0 L357.9,69.7 L359.0,69.4 L360.1,69.1 L361.1,68.8 L362.2,68.5 L363.3,68.2 L364.4,67.9 L365.4,67.6 L366.5,67.4 L367.6,67.1 L368.6,66.8 L369.7,66.5 L370.8,66.2 L371.9,66.0 L372.9,65.7 L374.0,65.4 L375.1,65.1 L376.1,64.8 L377.2,64.6 L378.3,64.3 L379.4,64.0 L380.4,63.8 L381.5,63.5 L382.6,63.3 L383.6,63.0 L384.7,62.8 L385.8,62.6 L386.9,62.3 L387.9,62.1 L389.0,61.9 L390.1,61.7 L391.2,61.5 L392.2,61.3 L393.3,61.1 L394.4,60.9 L395.4,60.8 L396.5,60.6 L397.6,60.4 L398.7,60.2 L399.7,60.0 L400.8,59.8 L401.9,59.6 L402.9,59.4 L404.0,59.3 L405.1,59.1 L406.2,58.9 L407.2,58.7 L408.3,58.5 L409.4,58.3 L410.4,58.1 L411.5,58.0 L412.6,57.8 L413.7,57.6 L414.7,57.4 L415.8,57.3 L416.9,57.1 L417.9,57.0 L419.0,56.8 L420.1,56.7 L421.2,56.6 L422.2,56.4 L423.3,56.3 L424.4,56.3 L425.4,56.2 L426.5,56.1 L427.6,56.0 L428.7,56.0 L429.7,55.9 L430.8,55.8 L431.9,55.7 L432.9,55.6 L434.0,55.5 L435.1,55.4 L436.2,55.2 L437.2,55.1 L438.3,55.0 L439.4,54.8 L440.5,54.7 L441.5,54.6 L442.6,54.5 L443.7,54.3 L444.7,54.2 L445.8,54.1 L446.9,54.0 L448.0,53.9 L449.0,53.8 L450.1,53.7 L451.2,53.6 L452.2,53.5 L453.3,53.4 L454.4,53.3 L455.5,53.2 L456.5,53.1 L457.6,52.9 L458.7,52.8 L459.7,52.7 L460.8,52.6 L461.9,52.5 L463.0,52.4 L464.0,52.3 L465.1,52.2 L466.2,52.0 L467.2,51.9 L468.3,51.8 L469.4,51.7 L470.5,51.6" stroke="#00ff00" stroke-width="2.1"/>
<path d="M84.6,302.1 L85.7,302.1 L86.8,302.1 L87.9,302.1 L88.9,302.1 L90.0,302.1 L91.1,302.1 L92.1,302.1 L93.2,302.1 L94.3,302.1 L95.4,302.1 L96.4,302.1 L97.5,302.1 L98.6,302.1 L99.6,302.1 L100.7,302.1 L101.8,302.1 L102.9,302.1 L103.9,302.1 L105.0,302.1 L106.1,302.1 L107.1,302.1 L108.2,302.1 L109.3,302.1 L110.4,302.1 L111.4,302.1 L112.5,302.1 L113.6,302.1 L114.6,302.1 L115.7,302.1 L116.8,302.1 L117.9,302.1 L118.9,302.1 L120.0,302.1 L121.1,302.1 L122.2,302.1 L123.2,302.1 L124.3,302.1 L125.4,302.1 L126.4,302.1 L127.5,302.1 L128.6,302.1 L129.7,302.1 L130.7,302.1 L131.8,302.1 L132.9,302.1 L133.9,302.1 L135.0,302.1 L136.1,302.1 L137.2,302.1 L138.2,302.1 L139.3,302.1 L140.4,302.1 L141.4,302.1 L142.5,302.1 L143.6,302.1 L144.7,302.1 L145.7,302.1 L146.8,302.1 L147.9,302.1 L148.9,302.1 L150.0,302.1 L151.1,302.1 L152.2,302.1 L153.2,302.1 L154.3,302.1 L155.4,302.1 L156.4,302.1 L157.5,302.1 L158.6,302.1 L159.7,302.1 L160.7,302.1 L161.8,302.1 L162.9,302.1 L163.9,302.1 L165.0,302.1 L166.1,302.1 L167.2,302.1 L168.2,302.1 L169.3,302.1 L170.4,302.1 L171.5,302.1 L172.5,302.1 L173.6,302.1 L174.7,302.1 L175.7,302.1 L176.8,302.1 L177.9,302.1 L179.0,302.1 L180.0,302.1 L181.1,302.1 L182.2,302.1 L183.2,302.1 L184.3,302.1 L185.4,302.1 L186.5,302.1 L187.5,302.1 L188.6,302.1 L189.7,302.1 L190.7,302.1 L191.8,302.1 L192.9,302.1 L194.0,302.1 L195.0,302.1 L196.1,302.1 L197.2,302.1 L198.2,302.1 L199.3,302.1 L200.4,302.1 L201.5,302.1 L202.5,302.1 L203.6,302.1 L204.7,302.1 L205.7,302.1 L206.8,302.1 L207.9,302.1 L209.0,302.1 L210.0,302.1 L211.1,302.1 L212.2,302.1 L213.2,302.1 L214.3,302.1 L215.4,302.1 L216.5,302.1 L217.5,302.1 L218.6,302.1 L219.7,302.1 L220.7,302.1 L221.8,302.1 L222.9,302.1 L224.0,302.1 L225.0,302.1 L226.1,302.1 L227.2,302.1 L228.3,302.1 L229.3,302.1 L230.4,302.1 L231.5,302.1 L232.5,302.1 L233.6,302.1 L234.7,302.1 L235.8,302.1 L236.8,302.1 L237.9,302.1 L239.0,302.1 L240.0,302.1 L241.1,302.1 L242.2,302.1 L243.3,302.1 L244.3,302.1 L245.4,302.1 L246.5,302.1 L247.5,302.1 L248.6,302.1 L249.7,302.1 L250.8,302.1 L251.8,302.1 L252.9,302.0 L254.0,302.0 L255.0,302.0 L256.1,302.0 L257.2,301.9 L258.3,301.9 L259.3,301.8 L260.4,301.8 L261.5,301.8 L262.5,301.7 L263.6,301.6 L264.7,301.6 L265.8,301.5 L266.8,301.4 L267.9,301.3 L269.0,301.2 L270.0,301.1 L271.1,301.0 L272.2,300.9 L273.3,300.7 L274.3,300.6 L275.4,300.4 L276.5,300.2 L277.6,300.0 L278.6,299.8 L279.7,299.6 L280.8,299.4 L281.8,299.1 L282.9,298.8 L284.0,298.5 L285.1,298.2 L286.1,297.9 L287.2,297.6 L288.3,297.2 L289.3,296.8 L290.4,296.4 L291.5,295.9 L292.6,295.5 L293.6,295.0 L294.7,294.5 L295.8,294.0 L296.8,293.4 L297.9,292.9 L299.0,292.3 L300.1,291.7 L301.1,291.0 L302.2,290.4 L303.3,289.7 L304.3,289.0 L305.4,288.3 L306.5,287.6 L307.6,286.8 L308.6,286.0 L309.7,285.2 L310.8,284.4 L311.8,283.6 L312.9,282.8 L314.0,282.0 L315.1,281.1 L316.1,280.2 L317.2,279.3 L318.3,278.4 L319.3,277.5 L320.4,276.6 L321.5,275.7 L322.6,274.7 L323.6,273.8 L324.7,272.8 L325.8,271.8 L326.8,270.9 L327.9,269.9 L329.0,268.9 L330.1,267.9 L331.1,266.8 L332.2,265.8 L333.3,264.8 L334.4,263.7 L335.4,262.7 L336.5,261.6 L337.6,260.5 L338.6,259.4 L339.7,258.3 L340.8,257.2 L341.9,256.1 L342.9,254.9 L344.0,253.8 L345.1,252.6 L346.1,251.4 L347.2,250.2 L348.3,249.0 L349.4,247.8 L350.4,246.6 L351.5,245.4 L352.6,244.1 L353.6,242.9 L354.7,241.7 L355.8,240.4 L356.9,239.1 L357.9,237.9 L359.0,236.6 L360.1,235.3 L361.1,234.1 L362.2,232.8 L363.3,231.5 L364.4,230.2 L365.4,228.9 L366.5,227.6 L367.6,226.4 L368.6,225.1 L369.7,223.8 L370.8,222.5 L371.9,221.2 L372.9,219.9 L374.0,218.6 L375.1,217.3 L376.1,216.0 L377.2,214.7 L378.3,213.4 L379.4,212.1 L380.4,210.8 L381.5,209.5 L382.6,208.2 L383.6,206.9 L384.7,205.5 L385.8,204.2 L386.9,202.9 L387.9,201.6 L389.0,200.3 L390.1,199.0 L391.2,197.7 L392.2,196.4 L393.3,195.1 L394.4,193.7 L395.4,192.4 L396.5,191.1 L397.6,189.8 L398.7,188.5 L399.7,187.2 L400.8,186.0 L401.9,184.7 L402.9,183.4 L404.0,182.1 L405.1,180.8 L406.2,179.5 L407.2,178.3 L408.3,177.0 L409.4,175.7 L410.4,174.4 L411.5,173.2 L412.6,171.9 L413.7,170.7 L414.7,169.4 L415.8,168.1 L416.9,166.9 L417.9,165.6 L419.0,164.4 L420.1,163.1 L421.2,161.9 L422.2,160.6 L423.3,159.4 L424.4,158.1 L425.4,156.9 L426.5,155.6 L427.6,154.4 L428.7,153.1 L429.7,151.8 L430.8,150.6 L431.9,149.3 L432.9,148.1 L434.0,146.8 L435.1,145.6 L436.2,144.3 L437.2,143.1 L438.3,141.8 L439.4,140.5 L440.5,139.3 L441.5,138.0 L442.6,136.8 L443.7,135.5 L444.7,134.2 L445.8,133.0 L446.9,131.7 L448.0,130.4 L449.0,129.2 L450.1,127.9 L451.2,126.6 L452.2,125.4 L453.3,124.1 L454.4,122.8 L455.5,121.6 L456.5,120.3 L457.6,119.0 L458.7,117.8 L459.7,116.5 L460.8,115.2 L461.9,114.0 L463.0,112.7 L464.0,111.5 L465.1,110.2 L466.2,109.0 L467.2,107.7 L468.3,106.5 L469.4,105.2 L470.5,104.0" stroke="#00ff00" stroke-width="2.0"/>
<path d="M183.78,297.25L186.68,302.55L180.88,302.55ZM197.17,270.55L200.07,275.85L194.27,275.85ZM210.57,244.76L213.47,250.06L207.67,250.06ZM223.96,219.31L226.86,224.61L221.06,224.61ZM237.36,194.45L240.26,199.75L234.46,199.75ZM250.76,169.41L253.66,174.71L247.86,174.71ZM264.15,145.91L267.05,151.21L261.25,151.21ZM277.55,123.38L280.45,128.68L274.65,128.68ZM290.95,104.31L293.85,109.61L288.05,109.61ZM304.34,91.62L307.24,96.92L301.44,96.92ZM317.74,82.30L320.64,87.60L314.84,87.60ZM331.14,75.58L334.04,80.88L328.24,80.88ZM344.53,70.15L347.43,75.45L341.63,75.45ZM357.93,65.90L360.83,71.20L355.03,71.20ZM371.33,62.30L374.23,67.60L368.43,67.60ZM384.72,58.99L387.62,64.29L381.82,64.29ZM398.12,56.49L401.02,61.79L395.22,61.79ZM411.51,54.15L414.41,59.45L408.61,59.45ZM424.91,52.41L427.81,57.71L422.01,57.71ZM438.31,51.18L441.21,56.48L435.41,56.48ZM451.70,49.72L454.60,55.02L448.80,55.02ZM465.10,48.35L468.00,53.65L462.20,53.65Z" fill="#00ff00" stroke="none"/>
<path d="M87.60,302.10a2.40,2.40 0 1,0 4.80,0a2.40,2.40 0 1,0 -4.80,0M101.00,302.10a2.40,2.40 0 1,0 4.80,0a2.40,2.40 0 1,0 -4.80,0M114.39,302.10a2.40,2.40 0 1,0 4.80,0a2.40,2.40 0 1,0 -4.80,0M127.79,302.10a2.40,2.40 0 1,0 4.80,0a2.40,2.40 0 1,0 -4.80,0M141.19,302.10a2.40,2.40 0 1,0 4.80,0a2.40,2.40 0 1,0 -4.80,0M154.58,302.10a2.40,2.40 0 1,0 4.80,0a2.40,2.40 0 1,0 -4.80,0M167.98,302.10a2.40,2.40 0 1,0 4.80,0a2.40,2.40 0 1,0 -4.80,0M181.38,302.10a2.40,2.40 0 1,0 4.80,0a2.40,2.40 0 1,0 -4.80,0M194.77,302.10a2.40,2.40 0 1,0 4.80,0a2.40,2.40 0 1,0 -4.80,0M208.17,302.10a2.40,2.40 0 1,0 4.80,0a2.40,2.40 0 1,0 -4.80,0M221.56,302.10a2.40,2.40 0 1,0 4.80,0a2.40,2.40 0 1,0 -4.80,0M234.96,302.10a2.40,2.40 0 1,0 4.80,0a2.40,2.40 0 1,0 -4.80,0M248.36,302.08a2.40,2.40 0 1,0 4.80,0a2.40,2.40 0 1,0 -4.80,0M261.75,301.60a2.40,2.40 0 1,0 4.80,0a2.40,2.40 0 1,0 -4.80,0M275.15,300.03a2.40,2.40 0 1,0 4.80,0a2.40,2.40 0 1,0 -4.80,0M288.55,296.17a2.40,2.40 0 1,0 4.80,0a2.40,2.40 0 1,0 -4.80,0M301.94,289.00a2.40,2.40 0 1,0 4.80,0a2.40,2.40 0 1,0 -4.80,0M315.34,278.89a2.40,2.40 0 1,0 4.80,0a2.40,2.40 0 1,0 -4.80,0M328.74,266.85a2.40,2.40 0 1,0 4.80,0a2.40,2.40 0 1,0 -4.80,0M342.13,253.19a2.40,2.40 0 1,0 4.80,0a2.40,2.40 0 1,0 -4.80,0M355.53,237.87a2.40,2.40 0 1,0 4.80,0a2.40,2.40 0 1,0 -4.80,0M368.93,221.84a2.40,2.40 0 1,0 4.80,0a2.40,2.40 0 1,0 -4.80,0M382.32,205.55a2.40,2.40 0 1,0 4.80,0a2.40,2.40 0 1,0 -4.80,0M395.72,189.19a2.40,2.40 0 1,0 4.80,0a2.40,2.40 0 1,0 -4.80,0M409.11,173.18a2.40,2.40 0 1,0 4.80,0a2.40,2.40 0 1,0 -4.80,0M422.51,157.48a2.40,2.40 0 1,0 4.80,0a2.40,2.40 0 1,0 -4.80,0M435.91,141.80a2.40,2.40 0 1,0 4.80,0a2.40,2.40 0 1,0 -4.80,0M449.30,125.98a2.40,2.40 0 1,0 4.80,0a2.40,2.40 0 1,0 -4.80,0M462.70,110.23a2.40,2.40 0 1,0 4.80,0a2.40,2.40 0 1,0 -4.80,0" fill="#00ff00" stroke="none"/>
</g>
<path d="M84.20,305.60H90.00M87.00,294.29H90.00M87.00,287.67H90.00M87.00,282.98H90.00M87.00,279.34H90.00M87.00,276.36H90.00M87.00,273.85H90.00M87.00,271.67H90.00M87.00,269.75H90.00M84.20,268.03H90.00M87.00,256.72H90.00M87.00,250.10H90.00M87.00,245.41H90.00M87.00,241.77H90.00M87.00,238.79H90.00M87.00,236.28H90.00M87.00,234.10H90.00M87.00,232.18H90.00M84.20,230.46H90.00M87.00,219.15H90.00M87.00,212.53H90.00M87.00,207.84H90.00M87.00,204.20H90.00M87.00,201.22H90.00M87.00,198.71H90.00M87.00,196.53H90.00M87.00,194.61H90.00M84.20,192.89H90.00M87.00,181.58H90.00M87.00,174.96H90.00M87.00,170.27H90.00M87.00,166.63H90.00M87.00,163.65H90.00M87.00,161.14H90.00M87.00,158.96H90.00M87.00,157.04H90.00M84.20,155.32H90.00M87.00,144.01H90.00M87.00,137.39H90.00M87.00,132.70H90.00M87.00,129.06H90.00M87.00,126.08H90.00M87.00,123.57H90.00M87.00,121.39H90.00M87.00,119.47H90.00M84.20,117.75H90.00M87.00,106.44H90.00M87.00,99.82H90.00M87.00,95.13H90.00M87.00,91.49H90.00M87.00,88.51H90.00M87.00,86.00H90.00M87.00,83.82H90.00M87.00,81.90H90.00M84.20,80.18H90.00M87.00,68.87H90.00M87.00,62.25H90.00M87.00,57.56H90.00M87.00,53.92H90.00M87.00,50.94H90.00M87.00,48.43H90.00M87.00,46.25H90.00M87.00,44.33H90.00M84.20,42.61H90.00M87.00,31.30H90.00M465.10,302.10H470.90M465.10,268.24H468.30M465.10,234.38H470.90M465.10,200.52H468.30M465.10,166.66H470.90M465.10,132.80H468.30M465.10,98.94H470.90M465.10,65.08H468.30M465.10,31.22H470.90M90.00,305.60V311.40M90.00,31.30V37.10M116.79,305.60V308.60M116.79,31.30V34.30M143.59,305.60V311.40M143.59,31.30V37.10M170.38,305.60V308.60M170.38,31.30V34.30M197.17,305.60V311.40M197.17,31.30V37.10M223.96,305.60V308.60M223.96,31.30V34.30M250.76,305.60V311.40M250.76,31.30V37.10M277.55,305.60V308.60M277.55,31.30V34.30M304.34,305.60V311.40M304.34,31.30V37.10M331.14,305.60V308.60M331.14,31.30V34.30M357.93,305.60V311.40M357.93,31.30V37.10M384.72,305.60V308.60M384.72,31.30V34.30M411.51,305.60V311.40M411.51,31.30V37.10M438.31,305.60V308.60M438.31,31.30V34.30M465.10,305.60V311.40M465.10,31.30V37.10" stroke="#000" stroke-width="1.1" fill="none"/>
<rect x="90.00" y="31.30" width="375.10" height="274.30" fill="none" stroke="#000" stroke-width="1.6"/>
<text x="81" y="315.60" font-size="27" text-anchor="end" font-family="Liberation Serif" font-weight="bold">10<tspan font-size="17" dy="-11">-5</tspan></text>
<text x="81" y="278.03" font-size="27" text-anchor="end" font-family="Liberation Serif" font-weight="bold">10<tspan font-size="17" dy="-11">-4</tspan></text>
<text x="81" y="240.46" font-size="27" text-anchor="end" font-family="Liberation Serif" font-weight="bold">10<tspan font-size="17" dy="-11">-3</tspan></text>
<text x="81" y="202.89" font-size="27" text-anchor="end" font-family="Liberation Serif" font-weight="bold">10<tspan font-size="17" dy="-11">-2</tspan></text>
<text x="81" y="165.32" font-size="27" text-anchor="end" font-family="Liberation Serif" font-weight="bold">10<tspan font-size="17" dy="-11">-1</tspan></text>
<text x="81" y="127.75" font-size="27" text-anchor="end" font-family="Liberation Serif" font-weight="bold">10<tspan font-size="17" dy="-11">0</tspan></text>
<text x="81" y="90.18" font-size="27" text-anchor="end" font-family="Liberation Serif" font-weight="bold">10<tspan font-size="17" dy="-11">1</tspan></text>
<text x="81" y="52.61" font-size="27" text-anchor="end" font-family="Liberation Serif" font-weight="bold">10<tspan font-size="17" dy="-11">2</tspan></text>
<text x="474.5" y="310.70" font-size="27" font-family="Liberation Serif" font-weight="bold">0</text>
<text x="474.5" y="242.98" font-size="27" font-family="Liberation Serif" font-weight="bold">20</text>
<text x="474.5" y="175.26" font-size="27" font-family="Liberation Serif" font-weight="bold">40</text>
<text x="474.5" y="107.54" font-size="27" font-family="Liberation Serif" font-weight="bold">60</text>
<text x="474.5" y="39.82" font-size="27" font-family="Liberation Serif" font-weight="bold">80</text>
<text x="90.30" y="336.3" font-size="27" text-anchor="middle" font-family="Liberation Serif" font-weight="bold">-0.4</text>
<text x="143.89" y="336.3" font-size="27" text-anchor="middle" font-family="Liberation Serif" font-weight="bold">-0.2</text>
<text x="197.47" y="336.3" font-size="27" text-anchor="middle" font-family="Liberation Serif" font-weight="bold">0.0</text>
<text x="251.06" y="336.3" font-size="27" text-anchor="middle" font-family="Liberation Serif" font-weight="bold">0.2</text>
<text x="304.64" y="336.3" font-size="27" text-anchor="middle" font-family="Liberation Serif" font-weight="bold">0.4</text>
<text x="358.23" y="336.3" font-size="27" text-anchor="middle" font-family="Liberation Serif" font-weight="bold">0.6</text>
<text x="411.81" y="336.3" font-size="27" text-anchor="middle" font-family="Liberation Serif" font-weight="bold">0.8</text>
<text x="465.40" y="336.3" font-size="27" text-anchor="middle" font-family="Liberation Serif" font-weight="bold">1.0</text>
<text x="95.6" y="24.5" font-size="18.7" font-family="Liberation Serif"><tspan font-style="italic">W</tspan>/<tspan font-style="italic">L</tspan> = 0.03/0.03 [µm/µm]</text>
<text x="137.6" y="48.8" font-size="17.5" font-family="Liberation Serif">mean of WF (<tspan font-style="italic">V</tspan><tspan font-style="italic" font-size="12" dy="5">BG</tspan><tspan dy="-5">= 0 V)</tspan></text>
<text x="137.6" y="74.6" font-size="17.5" font-family="Liberation Serif">mean of WF (<tspan font-style="italic">V</tspan><tspan font-style="italic" font-size="12" dy="5">BG</tspan><tspan dy="-5">= 1 V)</tspan></text>
<text x="94.2" y="109.2" font-size="19" font-family="Liberation Serif"><tspan font-style="italic">T</tspan><tspan font-style="italic" font-size="12.6" dx="-0.6" dy="5.2">ILD</tspan><tspan dy="-5.2"> = 10 [nm]</tspan></text>
<path d="M92.9,43.0H133.6" stroke="#00ff00" stroke-width="1.9"/>
<path d="M113.3,39.6L115.8,44.4L110.8,44.4Z" fill="#00ff00"/>
<path d="M92.9,68.8H133.6" stroke="#ff0000" stroke-width="1.9"/>
<path d="M113.3,65.4L115.8,70.2L110.8,70.2Z" fill="#ff0000"/>
<path d="M173.5,146.6H129.5" stroke="#000" stroke-width="1.4" stroke-dasharray="1.4,2.7" fill="none"/>
<path d="M120.3,146.6L130,143.2L128,146.6L130,150Z" fill="#000"/>
<path d="M408.5,220.9H439.5" stroke="#000" stroke-width="1.4" stroke-dasharray="1.4,2.7" fill="none"/>
<path d="M448.3,220.9L438.6,217.5L440.6,220.9L438.6,224.3Z" fill="#000"/>
<text transform="translate(27.5,195) rotate(-90)" font-size="26" font-family="Liberation Serif" font-weight="bold"><tspan font-style="italic">I</tspan><tspan font-style="italic" font-size="18" dy="5">DS</tspan><tspan dy="-5"> [µA]</tspan></text>
<text transform="translate(534.5,195) rotate(-90)" font-size="26" font-family="Liberation Serif" font-weight="bold"><tspan font-style="italic">I</tspan><tspan font-style="italic" font-size="18" dy="5">DS</tspan><tspan dy="-5"> [µA]</tspan></text>
<text x="236.6" y="362" font-size="26" font-family="Liberation Serif" font-weight="bold"><tspan font-style="italic">V</tspan><tspan font-style="italic" font-size="18" dy="5.6">GS</tspan><tspan dy="-5.6"> [V]</tspan></text>
</svg></body></html>
